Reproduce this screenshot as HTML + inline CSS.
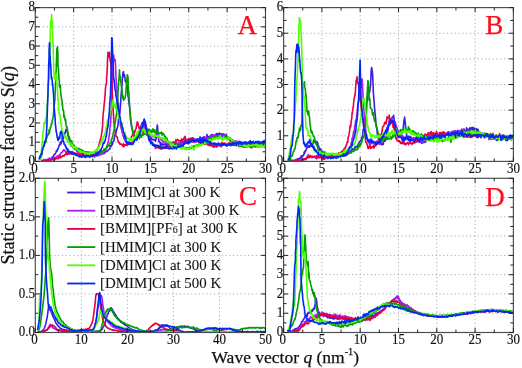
<!DOCTYPE html><html><head><meta charset="utf-8"><style>html,body{margin:0;padding:0;background:#fff;}svg{display:block;filter:blur(0.3px);}text{font-family:"Liberation Serif",serif;stroke:currentColor;stroke-width:0.25px;}</style></head><body>
<svg width="522" height="368" viewBox="0 0 522 368">
<rect width="522" height="368" fill="#fff"/>
<line x1="73.67" y1="7.60" x2="73.67" y2="161.40" stroke="#9aa4b4" stroke-width="0.9" stroke-dasharray="1.2 2.6"/>
<line x1="112.03" y1="7.60" x2="112.03" y2="161.40" stroke="#9aa4b4" stroke-width="0.9" stroke-dasharray="1.2 2.6"/>
<line x1="150.40" y1="7.60" x2="150.40" y2="161.40" stroke="#9aa4b4" stroke-width="0.9" stroke-dasharray="1.2 2.6"/>
<line x1="188.77" y1="7.60" x2="188.77" y2="161.40" stroke="#9aa4b4" stroke-width="0.9" stroke-dasharray="1.2 2.6"/>
<line x1="227.13" y1="7.60" x2="227.13" y2="161.40" stroke="#9aa4b4" stroke-width="0.9" stroke-dasharray="1.2 2.6"/>
<line x1="35.30" y1="142.18" x2="265.50" y2="142.18" stroke="#9aa4b4" stroke-width="0.9" stroke-dasharray="1.2 2.6"/>
<line x1="35.30" y1="122.95" x2="265.50" y2="122.95" stroke="#9aa4b4" stroke-width="0.9" stroke-dasharray="1.2 2.6"/>
<line x1="35.30" y1="103.72" x2="265.50" y2="103.72" stroke="#9aa4b4" stroke-width="0.9" stroke-dasharray="1.2 2.6"/>
<line x1="35.30" y1="84.50" x2="265.50" y2="84.50" stroke="#9aa4b4" stroke-width="0.9" stroke-dasharray="1.2 2.6"/>
<line x1="35.30" y1="65.28" x2="265.50" y2="65.28" stroke="#9aa4b4" stroke-width="0.9" stroke-dasharray="1.2 2.6"/>
<line x1="35.30" y1="46.05" x2="265.50" y2="46.05" stroke="#9aa4b4" stroke-width="0.9" stroke-dasharray="1.2 2.6"/>
<line x1="35.30" y1="26.82" x2="265.50" y2="26.82" stroke="#9aa4b4" stroke-width="0.9" stroke-dasharray="1.2 2.6"/>
<line x1="321.90" y1="7.60" x2="321.90" y2="161.40" stroke="#9aa4b4" stroke-width="0.9" stroke-dasharray="1.2 2.6"/>
<line x1="360.20" y1="7.60" x2="360.20" y2="161.40" stroke="#9aa4b4" stroke-width="0.9" stroke-dasharray="1.2 2.6"/>
<line x1="398.50" y1="7.60" x2="398.50" y2="161.40" stroke="#9aa4b4" stroke-width="0.9" stroke-dasharray="1.2 2.6"/>
<line x1="436.80" y1="7.60" x2="436.80" y2="161.40" stroke="#9aa4b4" stroke-width="0.9" stroke-dasharray="1.2 2.6"/>
<line x1="475.10" y1="7.60" x2="475.10" y2="161.40" stroke="#9aa4b4" stroke-width="0.9" stroke-dasharray="1.2 2.6"/>
<line x1="283.60" y1="135.77" x2="513.40" y2="135.77" stroke="#9aa4b4" stroke-width="0.9" stroke-dasharray="1.2 2.6"/>
<line x1="283.60" y1="110.13" x2="513.40" y2="110.13" stroke="#9aa4b4" stroke-width="0.9" stroke-dasharray="1.2 2.6"/>
<line x1="283.60" y1="84.50" x2="513.40" y2="84.50" stroke="#9aa4b4" stroke-width="0.9" stroke-dasharray="1.2 2.6"/>
<line x1="283.60" y1="58.87" x2="513.40" y2="58.87" stroke="#9aa4b4" stroke-width="0.9" stroke-dasharray="1.2 2.6"/>
<line x1="283.60" y1="33.23" x2="513.40" y2="33.23" stroke="#9aa4b4" stroke-width="0.9" stroke-dasharray="1.2 2.6"/>
<line x1="81.34" y1="178.30" x2="81.34" y2="332.50" stroke="#9aa4b4" stroke-width="0.9" stroke-dasharray="1.2 2.6"/>
<line x1="127.38" y1="178.30" x2="127.38" y2="332.50" stroke="#9aa4b4" stroke-width="0.9" stroke-dasharray="1.2 2.6"/>
<line x1="173.42" y1="178.30" x2="173.42" y2="332.50" stroke="#9aa4b4" stroke-width="0.9" stroke-dasharray="1.2 2.6"/>
<line x1="219.46" y1="178.30" x2="219.46" y2="332.50" stroke="#9aa4b4" stroke-width="0.9" stroke-dasharray="1.2 2.6"/>
<line x1="35.30" y1="293.95" x2="265.50" y2="293.95" stroke="#9aa4b4" stroke-width="0.9" stroke-dasharray="1.2 2.6"/>
<line x1="35.30" y1="255.40" x2="265.50" y2="255.40" stroke="#9aa4b4" stroke-width="0.9" stroke-dasharray="1.2 2.6"/>
<line x1="35.30" y1="216.85" x2="265.50" y2="216.85" stroke="#9aa4b4" stroke-width="0.9" stroke-dasharray="1.2 2.6"/>
<line x1="321.90" y1="178.30" x2="321.90" y2="332.50" stroke="#9aa4b4" stroke-width="0.9" stroke-dasharray="1.2 2.6"/>
<line x1="360.20" y1="178.30" x2="360.20" y2="332.50" stroke="#9aa4b4" stroke-width="0.9" stroke-dasharray="1.2 2.6"/>
<line x1="398.50" y1="178.30" x2="398.50" y2="332.50" stroke="#9aa4b4" stroke-width="0.9" stroke-dasharray="1.2 2.6"/>
<line x1="436.80" y1="178.30" x2="436.80" y2="332.50" stroke="#9aa4b4" stroke-width="0.9" stroke-dasharray="1.2 2.6"/>
<line x1="475.10" y1="178.30" x2="475.10" y2="332.50" stroke="#9aa4b4" stroke-width="0.9" stroke-dasharray="1.2 2.6"/>
<line x1="283.60" y1="313.23" x2="513.40" y2="313.23" stroke="#9aa4b4" stroke-width="0.9" stroke-dasharray="1.2 2.6"/>
<line x1="283.60" y1="293.95" x2="513.40" y2="293.95" stroke="#9aa4b4" stroke-width="0.9" stroke-dasharray="1.2 2.6"/>
<line x1="283.60" y1="274.68" x2="513.40" y2="274.68" stroke="#9aa4b4" stroke-width="0.9" stroke-dasharray="1.2 2.6"/>
<line x1="283.60" y1="255.40" x2="513.40" y2="255.40" stroke="#9aa4b4" stroke-width="0.9" stroke-dasharray="1.2 2.6"/>
<line x1="283.60" y1="236.12" x2="513.40" y2="236.12" stroke="#9aa4b4" stroke-width="0.9" stroke-dasharray="1.2 2.6"/>
<line x1="283.60" y1="216.85" x2="513.40" y2="216.85" stroke="#9aa4b4" stroke-width="0.9" stroke-dasharray="1.2 2.6"/>
<line x1="283.60" y1="197.58" x2="513.40" y2="197.58" stroke="#9aa4b4" stroke-width="0.9" stroke-dasharray="1.2 2.6"/>
<clipPath id="cpA"><rect x="35.30" y="7.60" width="230.20" height="153.80"/></clipPath>
<g clip-path="url(#cpA)">
<polyline points="41.4,160.8 41.9,160.7 42.4,160.8 42.9,161.0 43.4,160.8 43.9,160.9 44.4,160.4 44.9,159.7 45.4,160.4 45.9,160.3 46.4,159.7 46.8,159.7 46.9,159.8 47.4,160.1 47.9,159.6 48.4,159.1 48.9,159.9 49.4,159.3 49.9,159.8 50.4,159.2 50.6,159.4 50.9,158.5 51.4,158.6 52.0,157.5 52.4,157.0 52.9,156.7 52.9,157.9 53.4,156.2 53.9,155.2 54.5,154.2 55.0,154.3 55.0,153.6 55.5,153.3 55.9,152.5 56.5,150.6 57.0,151.1 57.5,149.8 57.7,148.7 58.0,149.2 58.5,147.5 59.0,145.9 59.5,144.6 59.9,144.9 60.0,143.7 60.5,142.1 61.0,144.0 61.4,141.4 61.5,142.0 62.0,141.3 62.5,137.3 63.0,136.8 63.1,138.3 63.5,136.2 64.0,134.7 64.5,134.5 64.8,132.8 65.0,133.4 65.5,131.3 66.0,129.3 66.5,131.0 66.5,130.0 67.0,131.4 67.5,132.5 67.9,135.7 68.0,135.3 68.5,137.5 69.0,139.1 69.1,139.2 69.5,142.5 70.0,143.3 70.5,143.0 71.0,146.0 71.4,145.4 71.5,145.3 72.0,145.0 72.5,146.1 73.0,147.4 73.5,148.0 73.7,148.1 74.0,147.1 74.5,149.0 75.0,149.3 75.5,149.2 76.0,149.9 76.5,150.3 77.0,151.2 77.5,150.8 77.5,151.1 78.0,150.3 78.5,151.0 79.0,151.7 79.5,151.5 80.0,152.4 80.5,151.7 81.0,152.6 81.3,152.4 81.5,153.6 82.0,152.8 82.5,154.2 83.0,154.6 83.5,153.7 84.0,154.2 84.5,153.7 85.0,152.7 85.5,154.6 86.0,154.6 86.5,154.2 87.0,154.2 87.5,154.7 88.0,154.7 88.5,154.2 89.0,154.4 89.0,155.3 89.5,154.7 90.0,154.7 90.5,155.3 91.0,154.5 91.5,155.2 92.0,154.1 92.5,154.6 93.0,154.6 93.5,155.0 94.0,154.7 94.5,155.8 95.0,155.3 95.5,154.5 96.0,155.9 96.5,154.2 96.7,155.7 97.0,154.2 97.5,155.1 98.0,154.2 98.5,154.5 99.0,155.3 99.5,153.6 100.0,153.4 100.5,154.1 101.0,154.1 101.5,153.9 102.0,154.2 102.5,152.8 103.0,153.6 103.5,153.1 104.0,153.4 104.4,153.1 104.5,153.5 105.0,151.7 105.5,152.2 106.0,151.2 106.5,151.4 107.0,151.5 107.5,150.8 108.0,150.4 108.2,149.9 108.5,149.8 109.0,149.2 109.5,149.3 110.0,148.2 110.5,145.6 111.0,146.5 111.5,146.0 112.0,143.9 112.0,143.0 112.5,144.3 113.0,142.0 113.5,141.1 114.0,140.6 114.5,136.7 115.0,135.7 115.5,133.9 115.9,133.4 116.0,131.6 116.5,130.8 117.0,128.3 117.5,127.3 118.0,125.2 118.5,119.3 119.0,118.8 119.5,114.4 119.7,113.4 120.0,111.3 120.5,105.4 121.0,96.2 121.5,90.9 122.0,84.8 122.0,84.5 122.5,76.5 123.0,72.7 123.5,71.6 123.5,73.3 124.0,76.8 124.5,74.8 125.0,78.2 125.1,81.0 125.5,81.1 126.0,82.0 126.5,83.3 127.0,84.8 127.4,89.3 127.5,86.1 128.0,96.2 128.5,98.0 128.9,102.9 129.0,103.2 129.5,106.3 130.0,111.5 130.5,119.5 131.0,123.8 131.2,121.9 131.5,126.1 132.0,127.9 132.5,129.8 133.0,134.7 133.5,136.6 133.5,134.2 134.0,135.4 134.5,136.6 135.0,137.1 135.5,138.6 136.0,139.6 136.5,138.5 136.6,139.2 137.0,139.7 137.5,137.3 138.0,137.3 138.5,136.0 139.0,136.6 139.5,135.4 139.7,135.5 140.0,134.7 140.5,132.4 141.0,132.1 141.5,129.4 142.0,128.0 142.5,124.8 142.7,128.4 143.0,125.1 143.5,125.2 144.0,124.0 144.5,125.1 145.0,123.5 145.0,122.0 145.5,123.7 146.0,125.2 146.5,127.9 147.0,128.3 147.3,130.7 147.5,133.6 148.0,133.5 148.5,136.3 149.0,139.0 149.5,137.5 150.0,136.7 150.4,138.3 150.5,139.5 151.0,139.6 151.5,138.0 152.0,139.1 152.5,139.5 153.0,139.8 153.5,139.9 154.0,139.3 154.5,139.7 155.0,140.0 155.5,141.2 155.8,139.8 156.0,139.6 156.5,131.4 157.0,127.6 157.3,125.0 157.5,125.9 158.0,133.7 158.5,137.8 158.8,139.9 159.0,141.9 159.5,141.4 160.0,142.2 160.5,145.2 161.0,143.2 161.5,143.8 162.0,143.9 162.5,145.1 163.0,144.6 163.5,144.7 164.0,143.8 164.5,144.5 165.0,144.9 165.5,143.8 165.7,145.5 166.0,145.4 166.5,146.6 167.1,144.1 167.5,144.7 168.0,144.8 168.5,145.1 169.0,145.6 169.6,145.6 170.1,146.0 170.6,146.0 171.0,145.9 171.6,144.8 172.1,145.6 172.6,146.0 173.1,146.5 173.4,146.5 173.6,144.8 174.1,145.6 174.6,145.8 175.1,146.0 175.6,146.5 176.1,145.5 176.6,144.6 177.1,145.3 177.6,145.0 178.1,144.7 178.6,144.2 179.1,145.3 179.6,144.0 180.1,144.3 180.6,142.6 181.1,143.8 181.1,142.7 181.6,141.7 182.1,143.0 182.6,143.1 183.1,142.2 183.6,142.1 184.1,142.8 184.6,141.3 185.1,139.8 185.6,141.5 186.1,141.3 186.6,141.8 187.1,140.4 187.6,141.6 188.1,141.4 188.6,139.1 189.1,140.9 189.6,139.0 190.1,138.5 190.3,139.6 190.6,139.3 191.1,138.0 191.6,139.9 192.1,140.2 192.6,140.8 193.1,139.6 193.6,138.2 194.1,138.7 194.6,140.3 195.1,140.2 195.6,139.8 196.1,139.1 196.4,139.5 196.6,139.1 197.1,138.9 197.6,139.4 198.1,139.1 198.6,138.8 199.1,138.9 199.6,138.3 200.1,136.9 200.6,137.9 201.1,138.3 201.6,139.8 202.1,137.8 202.6,139.8 203.1,139.2 203.6,136.9 204.1,136.9 204.6,137.6 205.1,138.9 205.6,137.5 206.1,137.7 206.6,136.3 207.1,134.6 207.2,136.6 207.6,137.4 208.1,137.7 208.6,136.5 209.1,136.5 209.6,137.4 210.1,136.0 210.6,137.1 211.1,134.8 211.6,134.7 212.1,134.6 212.6,136.0 213.1,134.9 213.6,135.5 214.1,135.6 214.6,135.4 215.1,136.3 215.6,136.3 216.1,133.9 216.4,134.9 216.6,134.4 217.1,133.4 217.6,136.1 218.1,135.0 218.6,133.9 218.7,133.7 219.1,134.5 219.6,133.1 220.1,134.0 220.6,135.6 221.1,135.4 221.6,133.9 222.1,134.4 222.6,137.0 223.1,133.9 223.6,134.9 224.1,134.4 224.6,136.3 225.1,136.5 225.6,137.5 226.1,134.2 226.4,137.0 226.6,135.4 227.1,137.8 227.6,137.3 228.1,139.3 228.6,138.4 229.1,137.4 229.6,139.8 230.1,138.1 230.6,139.1 231.1,140.6 231.6,140.5 232.1,140.7 232.6,140.6 233.1,141.3 233.6,141.8 234.0,141.5 234.1,142.1 234.6,142.5 235.1,141.6 235.6,141.0 236.1,143.2 236.6,142.0 237.1,142.8 237.6,143.2 238.1,141.8 238.6,143.0 239.1,141.5 239.6,143.5 240.1,142.6 240.6,143.2 241.1,143.7 241.6,142.6 242.1,143.3 242.5,142.6 242.6,143.2 243.1,144.0 243.6,143.2 244.1,143.1 244.6,142.3 245.1,143.9 245.6,143.2 246.1,144.6 246.6,142.6 247.1,144.0 247.6,144.6 248.1,143.2 248.6,142.2 249.1,144.4 249.6,144.0 250.1,143.8 250.6,144.1 251.1,142.8 251.6,143.8 252.1,143.7 252.6,142.7 253.1,143.8 253.6,142.8 254.1,143.9 254.6,144.1 255.1,144.7 255.6,141.6 256.1,143.4 256.6,142.9 257.1,143.2 257.6,143.0 258.1,143.1 258.6,141.6 259.1,144.0 259.6,144.4 260.1,144.0 260.6,144.2 261.1,142.5 261.6,142.5 262.1,143.9 262.6,144.3 263.1,143.4 263.6,142.0 264.1,145.5 264.6,142.7 265.1,144.0 265.5,142.3" fill="none" stroke="#3a1ee6" stroke-width="1.6" stroke-linejoin="round"/>
<polyline points="41.4,160.9 41.9,160.5 42.4,161.0 42.9,160.6 43.4,159.5 43.9,159.7 44.4,160.1 44.9,160.2 45.4,160.6 45.9,159.8 46.4,159.6 46.8,159.5 46.9,159.5 47.4,159.9 47.9,159.3 48.4,159.2 48.9,158.4 49.4,158.0 49.9,158.9 50.4,159.1 50.9,158.6 51.4,158.7 52.0,158.7 52.4,158.2 52.9,158.6 53.4,157.6 53.9,157.8 54.5,157.4 54.5,157.7 55.0,157.7 55.5,157.7 55.9,157.1 56.5,157.0 57.0,156.3 57.5,156.2 58.0,156.6 58.3,155.6 58.5,156.3 59.0,155.5 59.5,154.9 60.0,155.4 60.5,153.7 61.0,153.1 61.5,152.7 62.0,152.3 62.2,152.0 62.5,152.0 63.0,150.7 63.5,150.3 63.7,149.8 64.0,150.7 64.5,150.2 65.0,150.9 65.5,151.6 66.0,152.1 66.0,151.4 66.5,152.8 67.0,151.5 67.5,151.6 68.0,151.6 68.5,151.5 69.0,152.2 69.5,152.0 69.8,151.4 70.0,151.5 70.5,151.7 71.0,152.9 71.5,151.7 72.0,151.5 72.5,151.7 73.0,152.4 73.5,153.7 73.7,152.2 74.0,152.9 74.5,154.5 75.0,152.9 75.5,154.1 76.0,154.2 76.5,153.9 77.0,152.9 77.5,154.0 78.0,153.7 78.5,153.0 79.0,153.2 79.5,154.3 80.0,154.5 80.5,155.2 81.0,155.0 81.3,154.4 81.5,154.5 82.0,154.7 82.5,154.3 83.0,155.4 83.5,155.1 84.0,154.7 84.5,154.9 85.0,154.7 85.5,155.1 86.0,155.6 86.5,155.3 87.0,156.1 87.5,156.5 88.0,155.3 88.5,155.7 89.0,155.5 89.0,156.6 89.5,155.8 90.0,156.0 90.5,156.1 91.0,156.9 91.5,155.8 92.0,155.1 92.5,155.4 93.0,156.0 93.5,155.6 94.0,155.2 94.5,157.2 95.0,155.7 95.5,155.3 96.0,155.2 96.5,154.7 96.7,155.0 97.0,155.5 97.5,155.4 98.0,155.1 98.5,155.7 99.0,155.2 99.5,154.5 100.0,153.8 100.5,154.8 100.5,154.7 101.0,154.4 101.5,153.4 102.0,153.9 102.5,152.7 103.0,153.7 103.5,152.8 104.0,152.3 104.4,151.3 104.5,151.0 105.0,151.9 105.5,150.7 106.0,148.8 106.5,148.3 107.0,147.5 107.5,144.0 108.0,142.6 108.2,141.8 108.5,141.2 109.0,136.6 109.5,133.7 110.0,127.3 110.5,124.1 110.5,124.0 111.0,115.1 111.5,106.7 112.0,93.6 112.0,93.6 112.5,82.8 113.0,64.5 113.5,56.8 113.6,55.1 114.0,58.5 114.5,61.3 115.0,61.3 115.1,59.6 115.5,64.9 116.0,77.1 116.5,84.2 116.6,83.3 117.0,91.1 117.5,98.5 118.0,102.0 118.5,106.6 118.9,112.7 119.0,114.5 119.5,118.5 120.0,119.8 120.5,125.4 121.0,127.7 121.2,128.5 121.5,129.2 122.0,132.2 122.5,133.0 123.0,135.9 123.5,136.7 124.0,138.6 124.3,137.3 124.5,138.8 125.0,140.7 125.5,141.6 126.0,142.7 126.5,142.8 127.0,145.3 127.4,144.9 127.5,144.4 128.0,142.1 128.5,143.3 129.0,144.2 129.5,143.5 130.0,142.4 130.5,144.3 131.0,144.4 131.2,143.1 131.5,143.6 132.0,143.1 132.5,143.5 133.0,140.6 133.5,139.8 134.0,139.8 134.5,138.7 135.0,140.3 135.1,137.7 135.5,137.7 136.0,136.1 136.5,134.8 137.0,134.7 137.5,135.1 138.0,131.9 138.5,132.1 138.9,131.0 139.0,131.1 139.5,129.9 140.0,131.1 140.5,126.0 141.0,126.2 141.5,124.4 142.0,122.8 142.5,124.9 142.7,127.1 143.0,126.0 143.5,126.6 144.0,126.1 144.5,125.9 145.0,129.0 145.5,126.9 146.0,129.7 146.5,128.3 146.6,128.9 147.0,129.9 147.5,130.7 148.0,132.6 148.5,134.0 149.0,136.3 149.5,135.6 150.0,134.4 150.4,134.5 150.5,135.1 151.0,135.7 151.5,137.1 152.0,135.0 152.5,136.5 153.0,136.5 153.5,136.7 154.0,136.3 154.5,136.8 155.0,136.5 155.5,137.5 155.8,136.8 156.0,134.2 156.5,136.6 157.0,137.0 157.5,136.5 158.0,136.7 158.5,138.7 159.0,138.2 159.5,137.4 159.6,138.1 160.0,138.5 160.5,137.5 161.0,139.8 161.5,139.5 162.0,140.4 162.5,139.0 163.0,142.4 163.5,141.6 164.0,141.8 164.5,141.0 165.0,141.4 165.5,140.9 165.7,143.5 166.0,141.7 166.5,142.7 167.1,143.2 167.5,142.4 168.0,143.8 168.5,144.9 169.0,143.6 169.6,144.7 170.1,144.1 170.6,143.4 171.0,143.6 171.6,142.7 172.1,144.2 172.6,145.3 173.1,144.7 173.4,144.8 173.6,145.1 174.1,143.7 174.6,144.6 175.1,145.6 175.6,143.4 176.1,144.0 176.6,143.6 177.1,143.7 177.6,143.2 178.1,143.6 178.6,142.6 179.1,143.1 179.6,143.1 180.1,143.0 180.6,144.4 181.1,143.3 181.1,143.3 181.6,142.9 182.1,144.1 182.6,141.5 183.1,142.7 183.6,143.7 184.1,144.0 184.6,142.7 185.1,142.4 185.6,142.8 186.1,142.0 186.6,142.5 187.1,141.4 187.6,142.4 188.1,141.7 188.6,140.7 189.1,139.2 189.6,142.2 190.1,141.7 190.3,141.9 190.6,140.5 191.1,142.1 191.6,141.4 192.1,141.0 192.6,141.7 193.1,141.6 193.6,141.1 194.1,142.5 194.6,141.9 195.1,140.9 195.6,140.3 196.1,140.6 196.6,141.9 197.1,140.7 197.6,139.5 198.1,139.7 198.6,140.2 199.1,140.8 199.6,139.4 200.1,140.4 200.6,140.9 201.1,140.5 201.6,138.4 202.1,139.4 202.6,138.5 203.1,139.9 203.6,138.5 204.1,139.8 204.1,139.4 204.6,136.9 205.1,138.4 205.6,139.4 206.1,138.9 206.6,138.4 207.1,137.4 207.6,138.8 208.1,139.8 208.6,138.3 209.1,137.8 209.6,137.6 210.1,136.3 210.6,137.1 211.1,136.4 211.6,138.1 212.1,136.1 212.6,134.8 213.1,135.9 213.6,136.3 214.1,136.4 214.6,134.7 215.1,137.3 215.6,136.5 215.6,136.0 216.1,135.7 216.6,136.8 217.1,136.1 217.6,136.7 218.1,136.3 218.6,136.5 219.1,137.5 219.6,136.4 220.1,135.6 220.6,137.3 221.1,136.6 221.6,135.8 222.1,137.4 222.6,136.2 223.1,137.4 223.3,135.3 223.6,134.2 224.1,134.5 224.6,136.8 225.1,136.1 225.6,137.0 226.1,137.3 226.6,136.2 227.1,139.2 227.6,137.3 228.1,138.7 228.6,137.7 229.1,139.1 229.6,140.2 230.1,139.6 230.6,139.5 231.0,140.2 231.1,139.9 231.6,140.9 232.1,142.5 232.6,140.0 233.1,140.4 233.6,141.0 234.1,141.3 234.6,140.6 235.1,142.0 235.6,142.4 236.1,142.1 236.6,141.1 237.1,143.4 237.6,141.4 238.1,143.0 238.6,143.5 239.1,141.7 239.6,142.9 240.1,144.0 240.6,143.3 241.1,142.3 241.6,142.1 242.1,143.5 242.5,142.8 242.6,142.6 243.1,143.7 243.6,142.9 244.1,143.2 244.6,143.7 245.1,143.6 245.6,143.2 246.1,143.2 246.6,143.7 247.1,143.6 247.6,142.4 248.1,143.1 248.6,142.6 249.1,142.3 249.6,142.9 250.1,141.5 250.6,144.0 251.1,142.7 251.6,143.7 252.1,141.9 252.6,142.0 253.1,145.0 253.6,144.2 254.1,142.9 254.6,142.8 255.1,142.8 255.6,143.5 256.1,143.1 256.6,142.9 257.1,143.5 257.6,142.6 258.1,145.3 258.6,143.0 259.1,144.3 259.6,142.7 260.1,143.7 260.6,144.2 261.1,143.2 261.6,144.3 262.1,144.3 262.6,144.8 263.1,143.5 263.6,143.1 264.1,142.7 264.6,143.6 265.1,142.7 265.5,143.5" fill="none" stroke="#aa1cf0" stroke-width="1.6" stroke-linejoin="round"/>
<polyline points="41.4,161.4 41.9,161.1 42.4,160.9 42.9,161.4 43.4,161.4 43.9,161.3 44.4,161.1 44.9,161.4 45.4,160.6 45.9,161.1 46.4,160.7 46.8,161.2 46.9,160.7 47.4,160.6 47.9,160.8 48.4,159.6 48.9,160.3 49.4,159.5 49.9,159.7 50.4,160.4 50.9,160.1 51.4,159.6 52.0,159.6 52.4,159.5 52.9,159.5 53.4,160.1 53.9,159.2 54.5,160.0 54.5,158.7 55.0,159.1 55.5,158.9 55.9,158.5 56.5,158.1 57.0,158.7 57.5,158.7 58.0,158.2 58.3,158.6 58.5,158.0 59.0,156.6 59.5,157.8 60.0,156.8 60.5,157.8 61.0,156.8 61.5,157.0 62.0,156.7 62.2,156.3 62.5,155.5 63.0,156.1 63.5,155.8 64.0,156.1 64.5,154.8 65.0,154.9 65.5,153.9 66.0,154.1 66.5,152.8 67.0,154.8 67.5,153.7 67.5,153.0 68.0,153.7 68.5,153.9 69.0,153.6 69.5,154.2 70.0,153.3 70.5,151.9 71.0,152.7 71.5,154.0 72.0,153.8 72.1,153.6 72.5,152.7 73.0,153.8 73.5,153.8 74.0,152.9 74.5,153.0 75.0,153.8 75.5,154.4 76.0,154.7 76.5,154.3 77.0,155.3 77.5,153.7 77.5,154.5 78.0,153.9 78.5,153.2 79.0,153.7 79.5,155.2 80.0,154.2 80.5,154.1 81.0,155.3 81.5,155.6 82.0,155.2 82.5,156.1 82.9,154.4 83.0,156.6 83.5,155.9 84.0,155.5 84.5,155.5 85.0,155.3 85.5,155.3 86.0,155.6 86.5,154.9 87.0,156.7 87.5,155.6 88.0,156.0 88.5,155.6 89.0,155.5 89.0,156.1 89.5,156.0 90.0,155.1 90.5,155.3 91.0,155.7 91.5,154.0 92.0,153.7 92.5,155.7 92.8,154.5 93.0,153.2 93.5,153.8 94.0,153.7 94.5,153.4 95.0,152.9 95.5,152.0 96.0,151.4 96.5,149.7 96.7,150.1 97.0,149.6 97.5,149.2 98.0,147.3 98.5,146.7 99.0,144.8 99.5,142.2 99.8,141.9 100.0,140.9 100.5,139.1 101.0,137.2 101.5,134.6 102.0,131.5 102.1,129.8 102.5,127.2 103.0,116.3 103.5,110.7 103.6,110.7 104.0,106.0 104.5,101.7 105.0,95.3 105.1,95.5 105.5,87.6 106.0,85.3 106.5,82.3 106.7,76.6 107.0,74.4 107.5,60.2 108.0,52.2 108.2,52.2 108.5,56.8 109.0,56.5 109.5,52.2 109.7,56.7 110.0,59.3 110.5,61.8 111.0,65.2 111.3,71.9 111.5,78.3 112.0,87.7 112.5,97.4 112.8,104.8 113.0,108.5 113.5,114.6 114.0,123.2 114.5,128.2 115.0,132.0 115.1,130.1 115.5,134.9 116.0,135.5 116.5,136.7 117.0,137.1 117.4,137.3 117.5,139.0 118.0,140.5 118.5,142.5 119.0,142.9 119.5,142.5 119.7,143.1 120.0,144.2 120.5,144.1 121.0,144.1 121.5,144.0 122.0,145.2 122.5,145.1 123.0,146.4 123.5,146.0 123.5,143.8 124.0,146.8 124.5,145.3 125.0,144.7 125.5,145.1 126.0,145.3 126.5,144.5 127.0,144.3 127.4,144.2 127.5,145.5 128.0,143.8 128.5,143.8 129.0,142.8 129.5,141.3 130.0,140.0 130.5,138.8 131.0,139.1 131.2,137.5 131.5,136.7 132.0,135.8 132.5,134.7 133.0,135.3 133.5,134.3 134.0,132.2 134.5,133.4 135.0,130.5 135.1,131.2 135.5,129.5 136.0,128.9 136.5,125.9 137.0,123.3 137.4,121.8 137.5,121.8 138.0,124.1 138.5,125.8 139.0,128.3 139.5,128.1 139.7,129.0 140.0,128.4 140.5,127.4 141.0,129.7 141.5,131.6 142.0,131.1 142.5,132.1 142.7,131.9 143.0,129.4 143.5,131.0 144.0,133.4 144.5,131.5 145.0,131.4 145.5,133.7 146.0,134.5 146.5,134.8 146.6,134.2 147.0,134.4 147.5,134.6 148.0,135.4 148.5,136.2 149.0,136.8 149.5,138.3 150.0,141.1 150.4,140.4 150.5,140.2 151.0,141.6 151.5,141.4 152.0,143.4 152.5,144.8 153.0,143.7 153.5,144.9 154.0,145.7 154.2,145.3 154.5,145.3 155.0,146.1 155.5,148.4 156.0,147.3 156.5,147.3 157.0,147.8 157.5,147.1 158.0,146.6 158.5,147.9 159.0,148.5 159.5,146.3 160.0,148.1 160.5,148.8 161.0,147.8 161.5,147.6 161.9,148.4 162.0,147.4 162.5,148.3 163.0,148.6 163.5,147.8 164.0,147.3 164.5,148.3 165.0,147.5 165.5,147.8 166.0,145.6 166.5,148.1 167.1,146.5 167.5,147.4 168.0,147.4 168.5,146.7 169.0,146.4 169.6,146.1 169.6,146.7 170.1,147.3 170.6,146.9 171.0,145.6 171.6,145.0 172.1,143.8 172.6,143.9 173.1,142.7 173.6,141.7 174.1,142.3 174.6,143.2 175.1,142.5 175.6,142.5 175.7,139.8 176.1,141.9 176.6,140.0 177.1,140.5 177.6,139.4 178.1,140.0 178.6,140.9 179.1,141.0 179.6,140.7 180.1,140.5 180.6,141.1 181.1,140.6 181.6,139.1 182.1,141.9 182.6,140.0 182.6,141.1 183.1,139.7 183.6,138.3 184.1,138.3 184.6,136.8 184.9,138.9 185.1,136.4 185.6,139.0 186.1,139.2 186.5,140.1 186.6,142.5 187.1,140.9 187.6,140.1 188.1,138.9 188.6,140.0 189.1,140.0 189.6,141.5 190.1,139.0 190.6,138.7 191.1,140.2 191.6,140.4 192.1,141.7 192.6,139.5 192.6,137.8 193.1,139.6 193.6,139.2 194.1,139.9 194.6,141.3 195.1,139.4 195.6,141.8 196.1,141.0 196.6,140.8 197.1,140.4 197.6,141.0 198.1,141.2 198.6,142.3 199.1,142.9 199.6,141.9 200.1,142.7 200.3,143.3 200.6,143.3 201.1,142.8 201.6,144.1 202.1,143.8 202.6,144.1 203.1,142.7 203.6,142.7 204.1,141.5 204.6,144.5 205.1,143.9 205.6,142.7 206.1,143.8 206.6,144.0 207.1,142.5 207.6,144.3 207.9,145.0 208.1,145.2 208.6,144.0 209.1,144.2 209.6,145.7 210.1,145.6 210.6,144.6 211.1,144.8 211.6,145.9 212.1,145.0 212.6,145.1 213.1,147.0 213.3,145.9 213.6,145.3 214.1,146.1 214.6,147.3 215.1,145.8 215.6,144.9 216.1,144.2 216.6,147.1 217.1,143.3 217.6,146.2 218.1,144.5 218.6,144.2 219.1,144.3 219.5,144.9 219.6,146.0 220.1,144.5 220.6,145.5 221.1,146.8 221.6,142.5 222.1,144.1 222.6,143.2 223.1,145.2 223.6,143.3 224.1,143.1 224.6,143.0 225.1,144.2 225.6,145.1 226.1,144.3 226.6,145.9 227.1,145.5 227.1,144.0 227.6,144.9 228.1,144.2 228.6,144.2 229.1,142.6 229.6,143.1 230.1,144.2 230.6,143.2 231.1,144.8 231.6,144.5 232.1,143.6 232.6,145.3 233.1,144.6 233.6,145.4 234.1,144.3 234.6,143.2 234.8,145.1 235.1,144.3 235.6,145.3 236.1,145.5 236.6,145.7 237.1,143.6 237.6,143.0 238.1,144.5 238.6,145.6 239.1,144.5 239.6,145.4 240.1,144.7 240.6,145.1 241.1,145.2 241.6,145.1 242.1,146.1 242.6,146.0 243.1,147.1 243.6,146.2 244.1,147.0 244.6,146.1 245.1,146.7 245.6,145.9 246.1,145.7 246.3,147.1 246.6,146.6 247.1,146.7 247.6,145.4 248.1,144.7 248.6,145.3 249.1,146.3 249.6,144.9 250.1,147.1 250.6,144.8 251.1,146.4 251.6,148.0 252.1,143.9 252.6,144.7 253.1,146.6 253.6,145.7 254.1,146.0 254.6,145.7 255.1,146.9 255.6,146.3 256.1,145.4 256.6,145.5 257.1,144.8 257.6,145.6 257.8,143.8 258.1,146.2 258.6,145.4 259.1,147.0 259.6,146.5 260.1,144.5 260.6,146.2 261.1,145.0 261.6,145.4 262.1,146.2 262.6,145.6 263.1,145.7 263.6,145.6 264.1,144.6 264.6,144.6 265.1,145.5 265.5,145.8" fill="none" stroke="#e6003c" stroke-width="1.6" stroke-linejoin="round"/>
<polyline points="39.9,159.3 40.4,159.1 40.9,157.6 41.4,155.3 41.4,156.2 41.9,154.1 42.4,150.3 42.8,148.6 42.9,148.3 43.4,147.0 43.9,145.5 44.4,144.7 44.9,142.8 45.4,142.7 45.5,142.3 45.9,142.2 46.4,138.2 46.9,137.8 47.4,135.1 47.6,135.6 47.9,134.1 48.4,134.6 48.9,132.3 49.1,129.7 49.4,133.1 49.9,129.2 50.4,127.2 50.9,127.1 50.9,126.5 51.4,123.9 51.9,123.9 52.4,119.9 52.9,118.6 52.9,118.1 53.4,114.7 53.9,109.6 54.1,107.3 54.4,103.3 54.9,100.2 55.3,88.2 55.4,86.5 55.9,74.1 56.2,70.0 56.4,62.4 56.9,48.5 56.9,48.7 57.3,52.4 57.4,46.8 57.9,53.2 57.9,66.4 58.4,67.3 58.6,72.1 58.9,77.9 59.4,81.2 59.5,87.1 59.9,86.1 60.4,85.3 60.4,88.9 60.9,94.0 61.4,97.7 61.4,99.1 61.9,99.4 62.2,105.3 62.4,103.9 62.9,110.3 63.4,109.8 63.8,112.7 63.9,117.3 64.4,115.8 64.9,119.7 65.4,121.1 65.6,119.4 65.9,124.4 66.4,126.9 66.9,126.4 67.4,130.1 67.4,128.8 67.9,132.5 68.4,136.0 68.9,137.0 69.1,136.2 69.4,137.4 69.9,139.4 70.4,140.3 70.9,141.3 71.4,142.5 71.8,140.9 71.9,142.7 72.4,144.4 72.9,144.6 73.4,144.3 73.9,145.0 74.4,146.2 74.9,147.2 75.4,147.2 75.9,149.0 76.2,148.9 76.4,147.6 76.9,149.0 77.4,148.8 77.9,148.6 78.4,149.3 78.9,149.8 79.0,148.4 79.4,149.4 79.9,150.1 80.4,149.4 80.9,149.6 81.3,150.5 81.4,149.8 81.9,150.1 82.4,151.5 82.9,150.6 83.4,151.0 83.9,151.4 84.4,152.5 84.9,151.9 85.2,151.8 85.4,151.8 85.9,152.8 86.4,151.8 86.9,153.2 87.4,152.7 87.9,151.8 88.4,153.2 88.9,153.1 89.0,152.1 89.5,153.0 89.9,152.9 90.4,152.6 90.9,152.1 91.4,154.1 92.0,153.3 92.5,153.4 92.9,153.4 93.4,153.3 93.9,153.3 94.5,152.6 95.0,153.3 95.5,152.7 96.0,152.5 96.5,153.2 96.7,152.7 97.0,151.7 97.5,152.5 98.0,153.0 98.5,152.5 99.0,152.9 99.5,152.0 100.0,151.4 100.5,152.3 100.5,151.9 101.0,150.9 101.5,151.8 102.0,151.1 102.5,151.7 103.0,151.3 103.5,150.8 104.0,148.7 104.4,150.1 104.5,150.2 105.0,149.8 105.5,149.1 106.0,148.1 106.5,147.9 107.0,146.0 107.5,146.8 108.0,145.2 108.2,145.8 108.5,145.2 109.0,146.1 109.5,144.2 110.0,143.3 110.5,142.4 111.0,143.0 111.5,139.1 112.0,138.9 112.0,138.7 112.5,137.1 113.0,135.1 113.5,132.0 114.0,131.2 114.5,128.0 115.0,123.4 115.1,122.8 115.5,121.0 116.0,117.6 116.5,113.9 117.0,108.2 117.4,101.7 117.5,104.8 118.0,92.5 118.5,84.2 119.0,78.3 119.5,69.9 119.7,74.6 120.0,76.0 120.5,79.4 121.0,83.0 121.2,85.2 121.5,87.3 122.0,90.0 122.5,97.9 123.0,95.7 123.5,100.5 123.5,99.2 124.0,98.5 124.5,99.0 125.0,98.1 125.5,95.6 125.8,92.2 126.0,90.1 126.5,82.9 127.0,78.2 127.4,74.8 127.5,75.3 128.0,77.1 128.5,91.0 128.9,91.7 129.0,96.0 129.5,104.6 130.0,110.8 130.4,115.7 130.5,117.0 131.0,120.7 131.5,125.8 132.0,127.9 132.5,130.4 132.8,132.7 133.0,131.7 133.5,134.2 134.0,135.3 134.5,137.0 135.0,136.7 135.1,135.7 135.5,137.7 136.0,135.8 136.5,136.1 137.0,136.1 137.5,138.6 138.0,136.5 138.5,135.8 138.9,137.2 139.0,136.3 139.5,138.6 140.0,135.5 140.5,136.5 141.0,134.7 141.5,137.1 142.0,134.2 142.5,134.9 142.7,133.7 143.0,135.3 143.5,134.6 144.0,131.3 144.5,134.1 145.0,133.5 145.5,132.7 146.0,133.1 146.5,130.3 147.0,129.4 147.5,131.8 148.0,132.7 148.5,129.4 148.9,129.4 149.0,129.7 149.5,129.4 150.0,131.7 150.5,131.0 151.0,132.4 151.5,132.5 152.0,130.0 152.5,131.9 153.0,128.9 153.5,131.4 154.0,132.2 154.2,130.7 154.5,129.7 155.0,131.2 155.5,133.2 156.0,131.5 156.5,130.6 157.0,132.7 157.5,133.1 158.0,131.3 158.5,132.3 159.0,133.8 159.5,133.1 160.0,133.7 160.5,132.7 161.0,133.1 161.5,132.2 161.9,132.8 162.0,135.2 162.5,133.4 163.0,133.3 163.5,134.3 164.0,134.3 164.5,136.4 165.0,137.5 165.5,136.4 166.0,139.0 166.5,140.7 167.0,138.4 167.5,140.7 168.0,140.9 168.5,142.4 169.0,142.8 169.5,143.1 169.6,142.5 170.0,142.2 170.5,144.7 171.0,142.5 171.5,144.4 172.0,144.6 172.5,143.4 173.0,144.3 173.5,145.7 174.0,143.3 174.5,145.6 175.0,145.0 175.5,145.2 176.0,144.5 176.5,146.1 177.0,145.2 177.3,146.6 177.5,145.3 178.0,146.9 178.5,146.7 179.0,145.2 179.5,146.6 180.0,146.9 180.5,145.5 181.0,147.0 181.5,148.0 182.0,147.0 182.5,148.5 183.0,146.9 183.5,147.0 184.0,148.3 184.5,148.4 184.9,147.8 185.0,147.9 185.5,148.6 186.0,147.5 186.5,149.4 187.0,148.2 187.5,148.2 188.0,148.1 188.5,147.6 189.0,148.7 189.5,147.4 190.0,147.9 190.3,148.2 190.5,148.7 191.0,148.5 191.5,147.3 192.0,148.2 192.5,147.3 193.0,146.4 193.5,146.3 194.0,145.7 194.5,146.9 195.0,147.3 195.5,145.6 196.0,145.9 196.4,145.2 196.5,146.0 197.0,144.9 197.5,145.0 198.0,144.9 198.5,144.9 199.0,144.8 199.5,144.8 200.0,144.6 200.5,143.8 201.0,144.8 201.5,142.8 202.0,144.1 202.5,143.0 203.0,143.7 203.5,143.6 204.0,141.5 204.6,143.2 204.9,143.8 205.0,143.3 205.5,142.7 206.0,140.2 206.5,141.5 207.1,140.5 207.6,141.8 208.0,140.2 208.5,139.5 209.0,138.1 209.6,140.0 210.1,138.5 210.6,138.5 211.1,139.5 211.6,138.4 211.8,138.6 212.1,140.4 212.6,137.6 213.1,137.6 213.6,138.4 214.1,139.2 214.6,136.4 215.1,137.5 215.6,136.7 216.1,136.3 216.6,138.0 217.1,136.7 217.6,137.7 218.1,137.5 218.6,137.5 219.1,137.4 219.5,136.3 219.6,137.3 220.1,137.5 220.6,137.7 221.1,137.1 221.6,138.3 222.1,138.0 222.6,137.7 223.1,138.2 223.6,137.9 224.1,138.4 224.6,136.1 225.1,136.8 225.6,137.7 226.1,138.3 226.4,136.3 226.6,138.1 227.1,138.6 227.6,138.4 228.1,138.6 228.6,137.8 229.1,139.4 229.6,137.7 230.1,140.7 230.6,139.6 231.1,141.4 231.6,139.2 232.1,141.4 232.6,141.4 233.1,140.8 233.6,140.8 233.7,142.9 234.1,142.4 234.6,143.6 235.1,142.6 235.6,143.1 236.1,143.7 236.6,144.2 237.1,144.3 237.6,144.9 238.1,144.2 238.6,143.7 239.1,146.6 239.6,145.4 240.1,145.8 240.6,145.2 240.9,146.4 241.1,145.8 241.6,146.5 242.1,145.2 242.6,145.7 243.1,146.0 243.6,145.6 244.1,146.1 244.6,147.2 245.1,145.5 245.6,145.8 246.1,146.1 246.3,145.3 246.6,145.1 247.1,146.8 247.6,146.6 248.1,144.8 248.6,144.9 249.1,146.6 249.6,146.9 250.1,146.5 250.6,146.4 251.1,147.2 251.6,146.0 252.1,147.0 252.6,146.9 253.1,145.3 253.6,146.5 254.1,146.1 254.6,145.5 255.1,145.4 255.6,146.3 256.1,146.0 256.6,146.7 257.1,144.7 257.6,145.5 257.8,146.9 258.1,146.0 258.6,145.5 259.1,145.6 259.6,144.6 260.1,144.9 260.6,146.4 261.1,146.0 261.6,146.9 262.1,145.7 262.6,145.7 263.1,143.7 263.6,145.7 264.1,147.3 264.6,146.2 265.1,145.6 265.5,146.6" fill="none" stroke="#00a000" stroke-width="1.6" stroke-linejoin="round"/>
<polyline points="39.1,159.9 39.6,159.3 40.1,158.0 40.6,156.9 40.8,156.7 41.1,153.8 41.6,149.2 42.1,144.5 42.1,144.3 42.6,138.5 43.1,131.8 43.5,130.9 43.6,128.1 44.1,123.2 44.4,123.4 44.6,122.4 45.1,123.8 45.5,120.3 45.6,120.2 46.1,117.8 46.6,115.7 46.8,113.0 47.1,106.6 47.6,99.6 48.0,97.4 48.1,92.2 48.6,83.4 49.1,69.6 49.1,68.2 49.6,52.7 50.1,44.3 50.3,33.5 50.6,21.0 51.0,22.3 51.1,22.2 51.6,14.6 51.7,17.7 52.2,28.1 52.3,20.2 52.6,31.1 52.9,43.7 53.1,43.9 53.6,64.9 53.6,69.2 54.1,74.7 54.2,77.6 54.7,79.3 55.2,77.8 55.3,80.0 55.6,79.2 56.1,73.2 56.4,74.8 56.7,77.1 57.2,87.0 57.2,87.4 57.7,93.1 57.9,99.9 58.2,99.8 58.6,110.6 58.7,109.9 59.2,114.2 59.4,113.8 59.7,114.2 60.2,116.4 60.7,122.7 61.2,124.9 61.2,125.3 61.7,128.3 62.2,131.1 62.7,131.7 62.9,134.4 63.2,133.0 63.7,134.2 64.2,135.8 64.7,136.9 65.2,138.0 65.6,135.6 65.7,138.7 66.2,136.9 66.7,138.7 67.2,140.5 67.7,142.1 68.2,141.0 68.7,141.2 69.1,143.9 69.2,143.5 69.7,142.9 70.2,144.0 70.7,143.1 71.2,145.5 71.7,145.1 72.2,146.8 72.6,144.6 72.7,146.8 73.2,148.3 73.7,147.2 74.2,147.6 74.7,146.5 75.2,148.6 75.7,148.7 76.0,148.5 76.2,147.9 76.7,149.4 77.2,149.0 77.7,149.7 78.2,150.6 78.7,150.6 79.0,150.8 79.2,151.5 79.7,150.3 80.2,152.2 80.7,150.8 81.2,151.1 81.3,151.8 81.7,152.4 82.2,152.2 82.7,151.9 83.2,152.0 83.7,152.4 84.2,152.1 84.7,153.2 85.2,152.9 85.7,154.2 86.2,152.9 86.7,153.4 87.2,153.8 87.7,152.9 88.2,153.3 88.7,155.4 89.0,153.7 89.2,154.6 89.7,153.0 90.2,152.1 90.7,153.8 91.2,153.3 91.7,153.3 92.2,152.8 92.7,152.4 92.8,152.0 93.2,153.2 93.7,151.4 94.2,152.6 94.7,151.5 95.2,150.5 95.7,150.4 96.2,151.0 96.7,150.3 96.7,150.2 97.2,149.4 97.7,147.9 98.2,148.9 98.7,146.9 99.2,146.0 99.7,145.2 100.2,144.3 100.5,142.9 100.7,143.4 101.2,142.1 101.7,141.2 102.2,138.9 102.7,141.0 103.2,136.7 103.7,136.7 104.2,135.3 104.4,135.5 104.7,135.3 105.2,132.0 105.7,130.4 106.2,126.9 106.7,127.1 107.2,121.3 107.7,120.7 108.2,119.4 108.2,120.1 108.7,118.3 109.2,117.0 109.7,114.3 110.2,111.6 110.7,110.2 111.2,110.5 111.7,107.1 112.0,107.1 112.2,104.9 112.7,100.3 113.2,101.1 113.6,102.3 113.7,104.6 114.2,105.0 114.7,106.7 115.2,104.3 115.7,108.3 115.9,107.5 116.2,109.5 116.7,109.8 117.2,109.3 117.7,114.0 118.2,115.0 118.7,117.2 119.2,116.4 119.7,120.5 119.7,120.6 120.2,122.5 120.7,124.0 121.2,123.2 121.7,122.3 122.2,128.1 122.7,127.4 123.2,129.5 123.5,131.9 123.7,131.4 124.2,132.5 124.7,134.2 125.2,132.7 125.7,137.7 126.2,136.4 126.7,137.3 127.2,138.7 127.4,138.2 127.7,137.8 128.2,138.8 128.7,138.9 129.2,139.0 129.7,141.7 130.2,138.8 130.7,138.2 131.2,139.4 131.2,139.3 131.7,141.4 132.2,139.9 132.7,140.0 133.2,139.3 133.7,137.1 134.2,138.2 134.7,136.9 135.1,138.3 135.2,136.4 135.7,135.6 136.2,135.9 136.7,135.3 137.2,132.1 137.7,134.8 138.2,134.2 138.7,133.5 138.9,131.3 139.2,130.1 139.7,131.6 140.2,132.4 140.7,131.8 141.2,129.9 141.7,131.8 142.2,129.1 142.7,129.1 142.7,130.6 143.2,130.0 143.7,130.0 144.2,129.4 144.7,132.5 145.2,130.5 145.7,132.5 146.2,133.2 146.6,132.4 146.7,132.9 147.2,133.9 147.7,134.9 148.2,134.4 148.7,132.2 149.2,132.0 149.7,133.6 150.2,133.2 150.4,135.0 150.7,134.7 151.2,134.5 151.7,136.0 152.2,136.0 152.7,135.0 153.2,135.6 153.7,136.4 154.2,135.1 154.7,135.8 155.2,134.7 155.7,135.8 156.2,136.2 156.7,135.9 157.2,136.3 157.7,136.9 158.1,136.8 158.2,135.7 158.7,136.0 159.2,135.6 159.7,138.7 160.2,137.7 160.7,137.9 161.2,137.6 161.7,138.4 162.2,138.8 162.7,137.8 163.2,138.7 163.7,140.2 164.2,138.2 164.7,138.8 165.2,140.5 165.7,139.5 165.7,140.9 166.2,139.5 166.7,141.0 167.3,141.9 167.7,141.8 168.2,142.5 168.7,142.0 169.3,142.4 169.8,142.9 170.3,143.7 170.7,146.6 171.2,143.8 171.8,145.7 172.3,144.3 172.8,143.8 173.3,144.8 173.4,145.4 173.7,145.3 174.3,145.5 174.8,146.1 175.3,146.3 175.8,146.8 176.3,145.4 176.8,146.5 177.3,146.0 177.8,147.1 178.3,147.1 178.8,147.5 179.3,147.2 179.8,147.1 180.3,147.7 180.8,148.5 181.3,148.7 181.8,147.1 182.3,148.6 182.8,148.7 183.3,147.6 183.8,147.9 184.3,148.3 184.8,149.0 184.9,147.1 185.3,148.4 185.8,148.3 186.3,148.7 186.8,149.6 187.3,149.4 187.8,148.1 188.3,148.1 188.8,148.4 189.3,149.0 189.8,149.1 190.3,148.2 190.3,149.0 190.8,147.2 191.3,146.9 191.8,145.6 192.3,146.9 192.8,147.8 193.3,147.9 193.8,149.7 194.3,147.5 194.8,147.0 195.3,146.0 195.8,146.2 196.3,146.0 196.4,146.3 196.8,145.8 197.3,145.0 197.8,146.8 198.3,146.2 198.8,146.7 199.3,144.2 199.8,144.3 200.3,144.5 200.8,145.8 201.3,144.6 201.8,144.7 202.3,144.2 202.8,144.2 203.3,143.4 203.8,144.0 204.3,142.7 204.8,143.0 204.9,143.4 205.3,143.0 205.8,143.0 206.3,141.7 206.8,142.3 207.3,141.5 207.8,141.8 208.3,142.4 208.8,140.0 209.3,141.4 209.8,139.6 210.3,139.5 210.8,141.1 211.3,140.3 211.8,139.8 211.8,140.0 212.3,140.2 212.8,138.3 213.3,139.1 213.8,138.4 214.3,139.0 214.8,138.3 215.3,139.1 215.8,138.3 216.3,137.7 216.8,138.1 217.3,138.5 217.8,139.0 218.3,137.8 218.8,137.6 219.3,138.2 219.5,138.7 219.8,137.4 220.3,135.6 220.8,138.3 221.3,137.7 221.8,137.7 222.3,140.5 222.8,138.0 223.3,138.8 223.8,136.9 224.3,138.5 224.8,139.1 225.3,138.6 225.8,138.3 226.3,139.1 226.8,138.7 227.1,140.0 227.3,138.9 227.8,138.1 228.3,137.2 228.8,138.5 229.3,139.1 229.8,138.4 230.3,138.8 230.8,138.4 231.3,139.2 231.8,140.5 232.3,140.4 232.8,140.7 233.3,140.8 233.7,141.0 233.8,141.9 234.3,143.3 234.8,142.3 235.3,143.7 235.8,142.1 236.3,142.4 236.8,144.1 237.3,142.4 237.8,142.5 238.3,143.4 238.8,142.3 239.3,142.4 239.8,145.1 240.3,143.4 240.8,144.1 240.9,144.2 241.3,143.8 241.8,145.3 242.3,145.3 242.8,145.7 243.3,145.8 243.8,145.4 244.3,146.5 244.8,146.3 245.3,145.1 245.8,145.7 246.3,145.3 246.3,147.1 246.8,146.2 247.3,146.1 247.8,145.6 248.3,146.1 248.8,144.9 249.3,145.7 249.8,145.6 250.3,145.6 250.8,145.1 251.3,146.0 251.8,144.8 252.3,145.3 252.8,145.5 253.3,145.6 253.8,145.2 254.3,144.8 254.8,144.9 255.3,145.3 255.8,145.0 256.3,145.5 256.8,144.7 257.3,145.7 257.8,147.2 257.8,144.6 258.3,145.5 258.8,146.5 259.3,145.8 259.8,146.3 260.3,143.9 260.8,145.1 261.3,146.7 261.8,145.0 262.3,145.7 262.8,143.8 263.3,146.1 263.8,147.0 264.3,145.1 264.8,145.4 265.3,145.4 265.5,146.7" fill="none" stroke="#50ff00" stroke-width="1.6" stroke-linejoin="round"/>
<polyline points="39.1,159.3 39.6,156.8 40.1,157.3 40.3,155.4 40.6,155.9 41.1,153.8 41.4,154.4 41.6,154.2 42.1,150.9 42.5,149.5 42.6,149.8 43.1,147.2 43.6,146.7 44.1,146.2 44.6,141.5 44.8,142.8 45.1,141.9 45.6,139.3 46.1,138.3 46.2,137.7 46.6,130.4 47.0,123.6 47.1,118.2 47.5,105.8 47.6,104.3 48.0,93.2 48.1,86.6 48.5,77.4 48.6,69.1 49.1,56.4 49.1,49.7 49.5,42.8 49.6,45.4 50.0,57.5 50.1,55.5 50.6,67.2 50.6,63.5 51.1,73.8 51.4,78.7 51.6,76.8 52.2,80.6 52.5,85.7 52.6,83.3 53.1,90.2 53.6,94.7 53.6,95.3 54.1,106.9 54.2,107.3 54.7,114.6 54.7,113.1 55.2,119.8 55.4,125.2 55.6,125.3 56.1,131.0 56.4,132.2 56.7,133.4 57.2,137.6 57.7,137.7 57.7,139.7 58.2,140.5 58.6,137.2 59.1,137.8 59.2,137.5 59.7,138.7 60.2,133.1 60.7,131.9 61.1,131.5 61.2,131.4 61.7,132.3 62.2,136.4 62.2,135.5 62.7,139.1 63.2,140.7 63.7,141.2 63.7,141.8 64.2,144.4 64.7,144.1 65.2,145.5 65.6,146.8 65.7,146.0 66.2,147.5 66.7,149.3 67.2,149.8 67.7,148.7 68.2,151.6 68.7,151.1 69.1,151.2 69.2,151.3 69.7,152.8 70.2,152.6 70.7,152.6 71.2,152.4 71.7,153.5 72.1,154.0 72.2,152.7 72.7,152.9 73.2,153.5 73.7,154.3 74.2,153.8 74.7,154.2 75.2,153.9 75.7,155.3 76.0,154.6 76.2,154.8 76.7,155.6 77.2,155.1 77.7,155.4 78.2,155.9 78.7,155.7 79.2,156.9 79.7,156.3 80.2,156.2 80.7,156.4 81.2,156.0 81.3,157.2 81.7,157.4 82.2,156.5 82.7,156.3 83.2,155.5 83.7,156.3 84.2,157.1 84.7,156.2 85.2,157.0 85.7,157.4 86.2,155.2 86.7,156.4 87.2,156.2 87.7,156.3 88.2,155.6 88.7,156.4 89.0,156.0 89.2,157.1 89.7,157.3 90.2,155.8 90.7,155.7 91.2,156.2 91.7,156.2 92.2,156.1 92.7,156.5 93.2,155.1 93.7,155.5 94.2,155.4 94.7,155.3 95.2,154.7 95.7,154.8 96.2,154.5 96.7,155.3 96.7,154.4 97.2,153.1 97.7,154.2 98.2,153.4 98.7,152.1 99.2,151.3 99.7,150.8 100.2,151.5 100.5,149.5 100.7,150.4 101.2,149.4 101.7,147.6 102.2,147.3 102.7,145.6 103.2,142.7 103.7,143.3 104.2,142.0 104.4,142.9 104.7,141.7 105.2,140.4 105.7,137.9 106.2,136.3 106.7,133.3 107.2,129.9 107.7,127.7 108.2,124.8 108.2,124.7 108.7,118.2 109.2,113.6 109.7,105.7 110.2,97.7 110.5,94.8 110.7,87.2 111.2,69.5 111.7,37.7 112.0,37.7 112.2,40.0 112.7,54.3 113.2,65.9 113.6,79.2 113.7,78.3 114.2,80.2 114.7,85.9 115.2,90.6 115.7,91.2 115.9,96.1 116.2,95.8 116.7,100.3 117.2,103.8 117.7,104.3 118.2,109.2 118.2,104.7 118.7,111.4 119.2,110.1 119.7,117.3 120.2,117.4 120.7,122.1 121.2,124.5 121.2,122.7 121.7,124.1 122.2,128.5 122.7,127.6 123.2,131.7 123.7,132.4 124.2,133.8 124.3,133.9 124.7,137.5 125.2,135.7 125.7,138.3 126.2,140.5 126.7,142.1 127.2,143.4 127.4,143.3 127.7,142.0 128.2,143.1 128.7,144.1 129.2,143.9 129.7,142.5 130.2,144.2 130.7,144.5 131.2,143.0 131.2,143.7 131.7,143.9 132.2,144.2 132.7,144.5 133.2,143.6 133.7,142.4 134.2,141.5 134.7,140.3 135.1,139.8 135.2,139.8 135.7,139.2 136.2,139.7 136.7,140.1 137.2,137.8 137.7,137.4 138.2,136.3 138.7,135.1 138.9,135.8 139.2,135.0 139.7,132.8 140.2,131.4 140.7,130.9 141.2,128.3 141.7,127.8 142.2,127.4 142.7,124.8 142.7,122.6 143.2,124.2 143.7,120.3 144.2,119.2 144.3,119.1 144.7,122.9 145.2,121.3 145.7,126.4 146.2,129.5 146.6,130.9 146.7,130.6 147.2,133.0 147.7,135.1 148.2,135.4 148.7,139.0 149.2,140.8 149.7,140.3 150.2,141.3 150.4,141.3 150.7,143.5 151.2,142.2 151.7,143.2 152.2,142.5 152.7,145.3 153.2,144.4 153.7,145.1 154.2,146.3 154.2,145.6 154.7,144.4 155.2,145.8 155.7,146.2 156.2,145.1 156.7,145.2 157.2,145.3 157.7,146.8 158.2,146.4 158.7,145.7 159.2,147.0 159.7,147.2 160.2,146.1 160.7,145.7 161.2,147.8 161.7,148.9 161.9,148.1 162.2,147.8 162.7,147.2 163.2,146.7 163.7,147.3 164.2,147.8 164.7,147.2 165.2,148.1 165.7,147.5 166.2,148.0 166.7,145.6 167.3,147.0 167.7,148.3 168.2,148.4 168.7,148.1 169.3,149.0 169.8,148.3 170.3,148.4 170.7,147.2 171.2,148.2 171.8,148.5 172.3,148.9 172.8,148.8 173.3,148.0 173.4,148.1 173.7,147.1 174.3,148.4 174.8,147.1 175.3,147.6 175.8,147.7 176.3,149.0 176.8,148.4 177.3,146.8 177.8,146.1 178.3,146.8 178.8,146.3 179.3,147.0 179.8,146.8 180.3,146.8 180.8,145.4 181.1,145.8 181.3,146.1 181.8,146.0 182.3,145.1 182.8,145.0 183.3,145.6 183.8,143.3 184.3,144.1 184.8,144.0 185.3,142.4 185.8,142.5 186.3,143.0 186.8,142.2 187.3,143.3 187.8,142.6 188.3,143.8 188.8,140.6 189.3,143.1 189.8,140.7 190.3,141.9 190.3,142.1 190.8,141.3 191.3,140.9 191.8,140.5 192.3,139.5 192.8,140.7 193.3,140.2 193.8,141.4 194.3,140.2 194.8,140.7 195.3,141.2 195.8,140.8 196.3,140.8 196.8,140.5 197.3,140.3 197.8,141.1 198.3,141.3 198.8,139.9 199.3,142.1 199.8,141.1 200.3,139.2 200.8,142.9 201.3,141.1 201.8,139.9 202.3,141.9 202.8,138.2 203.3,142.7 203.8,139.2 204.3,139.1 204.8,139.6 204.9,140.6 205.3,140.2 205.8,141.3 206.3,140.0 206.8,141.8 207.3,141.3 207.8,140.4 208.3,142.5 208.8,142.1 209.3,141.9 209.8,143.4 210.3,141.6 210.8,142.5 211.3,144.2 211.8,143.2 211.8,143.8 212.3,143.8 212.8,143.4 213.3,144.2 213.8,143.0 214.3,144.5 214.8,143.3 215.3,144.2 215.8,143.6 216.3,144.9 216.8,145.0 217.3,145.6 217.8,144.3 218.3,144.1 218.8,143.2 219.3,143.8 219.5,144.7 219.8,145.0 220.3,144.6 220.8,144.9 221.3,143.7 221.8,144.1 222.3,145.5 222.8,145.4 223.3,143.7 223.8,144.6 224.3,145.0 224.8,143.8 225.3,145.1 225.8,144.9 226.3,145.1 226.8,146.2 227.1,144.0 227.3,145.6 227.8,145.1 228.3,145.2 228.8,144.0 229.3,144.6 229.8,144.4 230.3,145.7 230.8,144.4 231.3,145.4 231.8,143.9 232.3,143.8 232.8,144.0 233.3,142.3 233.8,143.4 234.3,143.3 234.8,143.6 234.8,143.9 235.3,142.8 235.8,142.7 236.3,144.5 236.8,142.5 237.3,142.9 237.8,142.4 238.3,142.7 238.8,144.1 239.3,143.9 239.8,141.4 240.3,142.6 240.8,143.9 240.9,142.5 241.3,143.0 241.8,144.2 242.3,144.5 242.8,143.9 243.3,142.3 243.8,142.5 244.3,142.7 244.8,142.2 245.3,141.9 245.8,144.1 246.3,142.6 246.8,143.0 247.3,143.3 247.8,142.7 248.3,142.3 248.8,142.4 249.3,143.4 249.8,142.6 250.2,140.5 250.3,143.1 250.8,143.6 251.3,141.9 251.8,141.7 252.3,141.8 252.8,143.1 253.3,141.3 253.8,142.8 254.3,143.1 254.8,142.7 255.3,142.3 255.8,141.6 256.3,141.7 256.8,142.2 257.3,141.4 257.8,142.2 258.3,141.5 258.8,143.4 259.3,143.6 259.8,141.6 260.3,143.5 260.8,142.6 261.3,142.4 261.8,142.8 262.3,142.8 262.8,141.2 263.3,144.5 263.8,141.7 264.3,140.6 264.8,142.5 265.3,142.6 265.5,141.9" fill="none" stroke="#0028fa" stroke-width="1.6" stroke-linejoin="round"/>
</g>
<clipPath id="cpB"><rect x="283.60" y="7.60" width="229.80" height="153.80"/></clipPath>
<g clip-path="url(#cpB)">
<polyline points="289.7,159.8 290.2,161.4 290.7,160.8 291.2,160.9 291.7,160.5 292.2,160.7 292.7,160.3 293.2,160.9 293.7,160.6 294.2,160.9 294.7,160.8 295.1,160.5 295.2,160.4 295.7,160.9 296.2,159.2 296.7,160.0 297.2,160.5 297.7,158.8 298.2,159.7 298.7,158.6 299.2,158.6 299.7,158.1 300.2,157.8 300.7,157.9 301.1,157.3 301.2,155.8 301.7,158.2 302.2,156.2 302.7,155.4 303.2,155.8 303.7,155.4 304.2,152.1 304.7,153.2 305.2,150.6 305.2,151.7 305.7,151.1 306.2,149.6 306.7,148.4 307.2,147.1 307.2,147.7 307.7,147.4 308.2,146.9 308.7,145.4 308.9,145.8 309.2,147.3 309.7,146.7 310.2,145.7 310.7,146.3 311.2,145.8 311.2,146.4 311.7,145.3 312.2,144.1 312.7,143.0 312.7,144.0 313.2,141.5 313.7,143.0 314.2,139.2 314.7,140.9 315.2,141.0 315.7,141.7 316.1,144.0 316.2,141.4 316.7,141.9 317.2,141.6 317.7,146.0 317.7,143.0 318.2,146.0 318.7,146.1 319.2,149.8 319.7,148.3 320.1,149.4 320.2,148.6 320.7,149.8 321.2,151.5 321.7,150.5 322.2,151.4 322.7,152.0 323.2,152.2 323.7,152.6 324.2,153.7 324.2,154.7 324.7,154.9 325.2,153.1 325.7,153.8 326.2,154.4 326.7,154.9 327.2,154.7 327.7,154.9 328.2,155.2 328.7,155.6 329.2,153.7 329.6,155.1 329.7,155.7 330.2,156.3 330.7,156.0 331.2,155.1 331.7,155.1 332.2,155.9 332.7,155.8 333.2,156.1 333.7,156.7 334.2,155.2 334.7,155.9 335.2,154.5 335.7,156.7 336.2,156.4 336.7,155.7 337.2,156.4 337.2,157.2 337.7,156.9 338.2,156.2 338.7,156.0 339.2,156.2 339.7,155.4 340.2,155.4 340.7,155.7 341.2,155.8 341.7,155.9 342.2,155.3 342.7,154.9 343.2,155.4 343.7,155.0 344.2,155.4 344.7,156.0 344.9,155.7 345.2,154.4 345.7,154.4 346.2,153.4 346.7,154.2 347.2,153.3 347.7,152.7 348.2,152.5 348.7,153.4 349.2,152.7 349.7,152.0 350.2,152.5 350.7,151.0 351.2,150.1 351.7,150.9 352.2,148.5 352.5,150.1 352.7,149.9 353.2,149.6 353.7,149.6 354.2,148.3 354.7,148.3 355.2,146.5 355.7,146.9 356.2,146.5 356.7,146.7 357.1,147.3 357.2,146.1 357.7,146.2 358.2,143.9 358.7,144.2 359.2,141.8 359.7,141.9 360.2,140.9 360.7,140.6 361.2,139.5 361.7,137.8 361.7,137.3 362.2,137.8 362.7,134.4 363.2,129.4 363.7,129.9 364.2,127.2 364.7,124.7 364.8,125.0 365.2,118.6 365.7,115.9 366.2,110.7 366.7,103.0 367.2,97.2 367.7,100.1 367.9,95.2 368.2,94.8 368.7,93.8 369.2,92.4 369.7,91.9 370.2,86.2 370.2,88.3 370.7,82.2 371.2,70.3 371.7,67.6 371.7,67.6 372.2,70.7 372.7,75.9 373.2,87.6 373.2,89.8 373.7,97.1 374.2,102.7 374.7,110.3 375.2,114.4 375.7,119.5 375.9,125.1 376.2,124.3 376.7,127.9 377.2,132.7 377.6,137.5 378.1,137.7 378.6,141.1 378.7,141.8 379.2,142.5 379.6,142.2 380.1,141.9 380.7,142.2 381.2,143.4 381.6,144.8 381.6,144.3 382.1,144.5 382.6,143.5 383.1,144.6 383.6,142.2 384.1,141.0 384.6,141.1 384.7,140.4 385.1,141.0 385.6,140.1 386.1,137.4 386.6,133.4 387.1,131.6 387.6,131.6 387.8,129.2 388.1,129.9 388.6,125.9 389.1,125.5 389.6,125.1 390.1,121.6 390.6,122.3 391.1,121.1 391.6,120.7 392.1,117.2 392.6,117.1 393.1,116.9 393.1,117.4 393.6,115.2 394.1,119.6 394.6,122.3 395.1,122.0 395.6,124.1 396.1,127.4 396.2,130.3 396.6,130.1 397.1,130.1 397.6,132.1 398.1,131.2 398.5,134.8 398.6,132.4 399.1,133.9 399.6,131.5 400.1,133.0 400.6,131.5 401.1,133.2 401.6,133.8 402.1,133.0 402.6,131.9 403.1,131.9 403.1,129.1 403.6,124.7 404.1,119.7 404.6,118.4 404.6,117.0 405.1,121.7 405.6,126.3 406.1,132.7 406.2,132.6 406.6,134.5 407.1,137.2 407.6,136.4 408.1,137.4 408.6,136.3 409.1,137.0 409.6,138.4 410.1,138.3 410.6,136.5 411.1,139.5 411.6,139.6 412.1,139.1 412.6,139.8 413.1,139.7 413.6,139.0 413.8,137.8 414.1,141.6 414.6,140.0 415.1,140.2 415.6,140.6 416.1,140.9 416.6,141.3 417.1,140.1 417.6,141.8 418.1,141.7 418.6,141.7 419.1,141.7 419.6,142.1 420.1,141.1 420.6,142.1 421.1,142.0 421.5,142.2 421.6,143.2 422.1,142.9 422.6,143.0 423.1,141.6 423.6,142.3 424.1,142.4 424.6,140.8 425.1,140.1 425.6,142.1 426.1,138.2 426.6,139.5 427.1,139.3 427.6,137.6 428.1,138.3 428.6,138.7 429.1,135.4 429.6,138.7 430.1,137.4 430.6,136.1 430.7,138.2 431.1,137.0 431.6,136.4 432.1,134.0 432.6,137.6 433.1,136.5 433.6,135.6 434.1,136.2 434.6,137.5 435.1,135.6 435.6,135.9 436.1,135.4 436.6,134.5 436.8,134.6 437.1,135.3 437.6,135.3 438.1,136.8 438.6,135.6 439.1,135.1 439.6,135.7 440.1,135.1 440.6,136.0 441.1,133.3 441.6,132.5 442.1,135.3 442.6,134.3 443.1,135.0 443.6,133.2 444.1,134.0 444.5,134.4 444.6,134.7 445.1,134.2 445.6,135.5 446.1,133.4 446.6,135.0 447.1,133.4 447.6,133.8 448.1,132.6 448.6,133.8 449.1,132.5 449.6,134.7 450.1,132.8 450.6,133.7 451.1,133.2 451.6,133.2 452.1,132.1 452.1,135.6 452.6,132.7 453.1,134.8 453.6,131.5 454.1,135.2 454.6,134.0 455.1,134.7 455.6,130.7 456.1,134.1 456.6,132.3 457.1,133.0 457.6,134.5 458.1,132.6 458.6,131.3 459.1,132.3 459.6,130.8 459.8,132.4 460.1,131.9 460.6,132.2 461.1,131.3 461.6,129.2 462.1,131.0 462.6,131.1 463.1,131.9 463.6,132.0 464.1,129.1 464.6,132.2 465.1,131.8 465.6,130.6 466.1,130.9 466.6,127.8 467.1,133.1 467.6,129.6 468.1,129.0 468.6,131.2 469.1,130.5 469.6,129.1 470.1,127.5 470.6,130.7 471.1,131.4 471.6,128.2 472.1,127.4 472.6,129.8 472.8,132.2 473.1,127.5 473.6,129.7 474.1,128.1 474.6,129.7 475.1,130.4 475.6,130.7 476.1,128.5 476.6,128.9 477.1,133.6 477.6,132.4 478.1,129.4 478.6,132.4 479.1,133.9 479.6,132.6 480.1,133.1 480.6,133.4 481.1,134.2 481.6,134.3 482.1,134.7 482.6,134.0 482.8,135.4 483.1,134.9 483.6,135.0 484.1,133.5 484.6,134.8 485.1,135.5 485.6,135.0 486.1,135.3 486.6,134.7 487.1,135.5 487.6,134.3 488.1,134.9 488.6,136.6 489.1,137.2 489.6,135.9 490.1,136.4 490.4,137.2 490.6,138.7 491.1,139.2 491.6,136.9 492.1,136.6 492.5,136.7 493.0,139.0 493.6,136.6 494.1,138.4 494.5,137.5 495.0,137.6 495.6,139.0 496.1,138.8 496.5,140.5 497.0,139.3 497.5,140.3 498.0,137.9 498.1,138.3 498.5,137.4 499.0,137.9 499.5,139.0 500.0,137.9 500.5,138.7 501.0,137.7 501.5,138.0 502.0,139.4 502.5,138.3 503.0,138.3 503.5,138.6 504.0,137.3 504.5,136.4 505.0,138.7 505.5,138.6 506.0,140.6 506.5,138.3 507.0,138.6 507.5,140.5 508.0,137.8 508.5,137.5 509.0,138.8 509.5,138.4 510.0,139.0 510.5,137.1 511.0,139.5 511.5,138.2 512.0,135.6 512.5,137.6 513.0,137.1 513.4,137.7" fill="none" stroke="#3a1ee6" stroke-width="1.6" stroke-linejoin="round"/>
<polyline points="289.7,161.4 290.2,160.9 290.7,160.7 291.2,161.4 291.7,160.7 292.2,160.1 292.7,160.2 293.2,161.4 293.7,161.3 294.2,161.4 294.7,160.1 295.2,160.3 295.7,160.2 296.2,161.1 296.7,161.2 297.2,160.5 297.7,160.4 298.2,160.9 298.7,160.3 298.9,160.0 299.2,160.2 299.7,160.9 300.2,161.4 300.7,160.3 301.2,160.0 301.7,160.1 302.2,160.2 302.7,160.2 303.2,159.2 303.7,159.6 304.2,159.3 304.7,159.8 305.2,159.5 305.7,158.8 305.8,159.5 306.2,159.3 306.7,158.2 307.2,156.5 307.7,156.4 308.2,154.8 308.7,155.5 309.1,155.5 309.2,156.2 309.7,156.1 310.2,155.6 310.7,157.0 311.2,157.1 311.2,157.1 311.7,157.6 312.2,157.7 312.7,157.5 313.2,157.1 313.7,157.2 314.2,157.2 314.7,157.5 315.2,158.0 315.7,157.7 315.8,158.2 316.2,156.9 316.7,158.9 317.2,157.6 317.7,155.7 318.2,157.4 318.7,157.8 319.2,156.9 319.7,155.9 320.2,156.7 320.7,156.1 321.2,156.3 321.7,156.6 321.9,154.1 322.2,156.2 322.7,156.6 323.2,156.5 323.7,155.8 324.2,155.8 324.7,155.5 325.2,155.9 325.7,156.9 326.2,155.5 326.7,156.1 327.2,156.0 327.7,156.8 328.2,156.2 328.7,156.3 329.2,155.8 329.6,156.8 329.7,155.7 330.2,155.7 330.7,156.6 331.2,156.2 331.7,156.5 332.2,155.3 332.7,157.7 333.2,156.2 333.7,157.2 334.2,156.4 334.7,155.6 335.2,156.6 335.7,156.1 336.2,156.8 336.7,155.0 337.2,155.7 337.2,155.5 337.7,157.2 338.2,157.0 338.7,155.5 339.2,156.3 339.7,156.3 340.2,155.8 340.7,156.8 341.2,155.3 341.7,155.7 342.2,155.3 342.7,155.9 343.2,155.0 343.7,155.7 344.2,154.3 344.7,154.0 344.9,154.1 345.2,154.2 345.7,153.8 346.2,155.8 346.7,152.6 347.2,152.8 347.7,151.8 348.2,151.2 348.7,151.2 349.2,149.6 349.5,148.0 349.7,146.9 350.2,147.5 350.7,146.2 351.2,142.3 351.7,142.7 352.2,137.7 352.5,138.3 352.7,138.7 353.2,134.4 353.7,131.1 354.2,132.3 354.7,125.7 355.2,125.3 355.7,119.9 356.2,119.6 356.4,120.2 356.7,115.2 357.2,111.4 357.7,106.0 358.2,103.2 358.7,101.5 359.2,99.7 359.4,98.3 359.7,96.0 360.2,92.3 360.7,86.1 361.2,87.3 361.7,79.0 361.7,79.5 362.2,79.0 362.7,88.3 363.2,99.4 363.3,98.8 363.7,107.7 364.2,113.6 364.7,121.8 364.8,118.3 365.2,123.2 365.7,130.3 366.2,133.0 366.7,135.3 367.1,137.8 367.2,138.2 367.7,141.1 368.2,142.3 368.7,142.7 369.2,142.5 369.4,144.3 369.7,144.5 370.2,142.4 370.7,144.4 371.2,142.4 371.7,143.2 372.2,142.6 372.7,141.8 373.2,142.8 373.7,142.7 374.2,144.3 374.7,144.1 375.2,142.8 375.5,142.0 375.7,142.1 376.2,141.2 376.7,143.1 377.2,143.3 377.6,142.5 378.1,143.4 378.7,143.5 379.2,144.5 379.4,142.5 379.6,144.4 380.1,142.6 380.7,144.0 381.2,140.8 381.6,142.1 382.1,139.4 382.6,141.0 383.1,138.9 383.2,137.1 383.6,138.3 384.1,136.1 384.6,135.3 385.1,136.0 385.6,131.4 386.1,129.8 386.6,130.4 387.0,127.3 387.1,128.8 387.6,127.8 388.1,125.2 388.6,124.8 389.1,119.4 389.6,123.8 390.1,119.7 390.6,119.0 390.8,123.3 391.1,123.0 391.6,119.7 392.1,121.5 392.6,120.5 393.1,119.8 393.6,122.4 394.1,123.9 394.6,126.8 394.7,122.7 395.1,125.0 395.6,124.5 396.1,126.2 396.6,130.0 397.1,127.7 397.6,130.1 398.1,131.6 398.5,134.6 398.6,133.8 399.1,134.5 399.6,134.9 400.1,136.2 400.6,134.8 401.1,135.5 401.6,135.7 402.1,137.0 402.6,135.4 403.1,136.9 403.6,140.4 404.1,138.3 404.6,137.9 405.1,137.0 405.6,138.5 406.1,138.6 406.2,139.0 406.6,137.7 407.1,139.0 407.6,139.3 408.1,139.6 408.6,138.3 409.1,139.5 409.6,140.8 410.1,138.4 410.6,139.9 411.1,138.8 411.6,138.9 412.1,138.1 412.6,138.3 413.1,140.1 413.6,139.7 413.8,141.0 414.1,137.9 414.6,139.3 415.1,138.4 415.6,140.3 416.1,142.2 416.6,138.6 417.1,140.2 417.6,140.3 418.1,140.5 418.6,139.9 419.1,140.1 419.6,142.4 420.1,139.7 420.6,141.4 421.1,141.4 421.5,139.2 421.6,139.9 422.1,141.2 422.6,142.7 423.1,140.5 423.6,140.0 424.1,140.5 424.6,141.5 425.1,140.8 425.6,141.1 426.1,139.4 426.6,138.5 427.1,138.1 427.6,139.7 428.1,138.5 428.6,137.9 429.1,138.9 429.1,138.5 429.6,135.9 430.1,137.8 430.6,136.9 431.1,138.1 431.6,137.4 432.1,139.2 432.6,137.1 433.1,135.6 433.6,134.4 434.1,135.2 434.6,135.6 435.1,136.2 435.6,136.7 436.1,136.1 436.6,135.1 436.8,136.7 437.1,134.6 437.6,136.7 438.1,137.5 438.6,136.5 439.1,137.2 439.6,136.7 440.1,133.8 440.6,135.2 441.1,134.6 441.6,133.4 442.1,133.2 442.6,135.2 443.1,132.9 443.6,133.9 444.1,134.3 444.6,133.7 445.1,135.8 445.6,135.0 446.1,134.1 446.6,133.2 447.1,134.3 447.6,133.9 448.1,132.6 448.6,132.0 449.1,132.7 449.6,132.0 450.1,133.9 450.6,133.7 451.1,132.9 451.6,133.6 452.1,133.8 452.1,131.3 452.6,133.4 453.1,134.2 453.6,132.5 454.1,130.8 454.6,132.8 455.1,131.4 455.6,133.3 456.1,133.3 456.6,133.5 457.1,132.8 457.6,130.4 458.1,133.9 458.6,130.5 459.1,133.6 459.6,132.6 460.1,131.3 460.6,131.5 461.1,131.9 461.6,134.2 462.1,131.7 462.6,133.4 463.1,129.0 463.6,132.3 464.1,131.8 464.6,133.4 465.1,132.5 465.6,133.5 466.1,130.7 466.6,132.3 467.1,131.2 467.4,132.7 467.6,132.5 468.1,130.4 468.6,133.2 469.1,134.2 469.6,131.6 470.1,133.5 470.6,132.7 471.1,131.2 471.6,133.4 472.1,131.5 472.6,133.4 473.1,130.9 473.6,131.3 474.1,133.5 474.6,133.3 475.1,134.2 475.1,133.0 475.6,131.9 476.1,135.2 476.6,132.5 477.1,135.3 477.6,135.0 478.1,136.3 478.6,131.9 479.1,134.5 479.6,134.5 480.1,135.7 480.6,133.9 481.1,137.7 481.6,135.4 482.1,133.1 482.6,136.2 482.8,135.7 483.1,135.1 483.6,136.8 484.1,136.0 484.6,135.0 485.1,136.0 485.6,135.9 486.1,136.8 486.6,136.2 487.1,136.5 487.6,135.1 488.1,136.0 488.6,137.2 489.1,139.7 489.6,136.3 490.1,136.3 490.6,138.2 491.1,139.5 491.6,138.6 492.1,136.4 492.5,138.6 493.0,138.0 493.6,137.3 494.1,136.3 494.5,137.7 495.0,137.8 495.6,138.3 496.1,136.0 496.5,136.6 497.0,137.9 497.5,139.3 498.0,138.7 498.1,137.2 498.5,138.6 499.0,136.8 499.5,137.4 500.0,137.5 500.5,137.1 501.0,137.3 501.5,138.7 502.0,138.2 502.5,135.3 503.0,139.1 503.5,138.3 504.0,136.6 504.5,138.0 505.0,138.7 505.5,139.2 506.0,137.2 506.5,136.7 507.0,136.3 507.5,137.7 508.0,136.6 508.5,138.9 509.0,137.5 509.5,138.4 510.0,137.5 510.5,136.9 511.0,136.5 511.5,138.7 512.0,136.3 512.5,138.1 513.0,138.7 513.4,137.7" fill="none" stroke="#aa1cf0" stroke-width="1.6" stroke-linejoin="round"/>
<polyline points="289.7,161.4 290.2,161.4 290.7,161.2 291.2,161.4 291.7,160.9 292.2,161.4 292.7,161.1 293.2,161.4 293.7,161.0 294.2,161.4 294.7,161.2 295.1,160.9 295.2,160.8 295.7,161.4 296.2,161.4 296.7,160.8 297.2,160.3 297.7,160.3 298.2,159.9 298.7,159.6 299.2,160.0 299.7,160.2 300.0,160.7 300.2,160.6 300.7,160.2 301.2,159.7 301.7,159.6 302.2,159.6 302.7,159.6 303.2,159.0 303.7,159.1 304.2,158.9 304.7,158.8 305.0,159.2 305.2,159.4 305.7,158.3 306.2,158.1 306.7,158.2 307.2,158.1 307.7,156.0 308.2,157.8 308.7,157.2 309.2,156.7 309.7,157.6 310.0,156.7 310.2,155.6 310.7,156.2 311.2,156.4 311.7,156.4 312.2,156.7 312.7,156.1 313.2,156.9 313.7,157.1 314.2,156.7 314.7,156.2 315.2,156.6 315.7,156.3 316.2,158.1 316.7,156.0 317.2,155.2 317.7,155.9 318.1,157.0 318.2,157.3 318.7,156.7 319.2,157.6 319.7,156.7 320.2,157.7 320.7,156.9 321.2,156.9 321.7,159.2 322.2,157.9 322.7,158.7 323.2,159.2 323.4,158.7 323.7,158.5 324.2,157.7 324.7,159.2 325.2,157.6 325.7,156.9 326.2,157.7 326.7,157.7 327.2,158.0 327.7,158.6 328.2,157.5 328.7,157.5 329.2,157.1 329.6,155.9 329.7,157.1 330.2,157.1 330.7,156.3 331.2,158.1 331.7,157.8 332.2,157.2 332.7,157.2 333.2,156.2 333.7,156.7 334.2,155.1 334.7,155.1 334.9,155.5 335.2,156.2 335.7,155.3 336.2,154.9 336.7,156.0 337.2,154.7 337.7,154.2 338.2,154.2 338.7,152.9 339.2,152.9 339.7,154.0 340.2,153.0 340.7,153.3 341.1,152.0 341.2,153.0 341.7,151.2 342.2,151.3 342.7,150.5 343.2,150.9 343.7,151.5 344.2,148.4 344.7,149.4 345.2,147.4 345.6,147.5 345.7,147.2 346.2,145.0 346.7,144.7 347.2,141.7 347.7,142.3 348.2,137.3 348.7,135.9 349.2,133.2 349.5,131.4 349.7,129.9 350.2,125.3 350.7,126.9 351.2,121.0 351.7,118.7 352.2,112.3 352.3,113.9 352.7,109.9 353.2,107.8 353.7,102.2 354.2,97.8 354.7,96.8 354.8,94.7 355.2,94.9 355.7,86.3 356.2,80.1 356.7,79.7 357.1,76.7 357.2,82.1 357.7,82.6 358.2,83.9 358.7,85.2 359.2,87.7 359.4,89.8 359.7,91.4 360.2,94.1 360.7,101.2 361.2,107.3 361.7,111.7 361.7,106.6 362.2,117.4 362.7,117.8 363.2,119.2 363.7,124.4 364.0,128.9 364.2,128.9 364.7,132.2 365.2,136.1 365.7,141.8 365.9,141.4 366.2,142.7 366.7,143.4 367.2,144.6 367.7,147.2 368.2,148.8 368.6,147.5 368.7,146.3 369.2,147.2 369.7,147.6 370.2,145.6 370.7,148.5 371.2,146.7 371.7,147.8 372.2,147.1 372.7,146.9 373.2,145.5 373.2,147.6 373.7,147.1 374.2,147.8 374.7,145.5 375.2,146.0 375.7,144.7 376.2,145.5 376.7,144.3 377.2,142.2 377.6,142.7 378.1,141.0 378.6,140.4 378.7,141.1 379.2,140.9 379.6,136.3 380.1,135.6 380.1,134.6 380.7,136.5 381.2,134.7 381.6,133.9 382.1,131.0 382.6,127.3 383.1,126.6 383.6,126.1 384.1,124.8 384.6,122.8 385.1,123.4 385.1,122.3 385.6,121.6 386.1,123.9 386.6,120.3 387.1,116.7 387.6,118.5 388.1,117.5 388.6,117.8 389.0,117.5 389.1,115.1 389.6,117.6 390.1,119.5 390.6,123.4 390.8,120.0 391.1,122.6 391.6,123.4 392.1,120.8 392.6,122.4 393.1,127.5 393.6,125.3 394.1,127.5 394.1,129.1 394.6,129.2 395.1,134.5 395.6,136.5 396.1,138.8 396.6,139.7 396.7,137.6 397.1,140.7 397.6,141.1 398.1,141.4 398.6,140.6 399.1,141.6 399.6,140.7 400.1,142.6 400.6,143.4 400.8,142.7 401.1,142.3 401.6,143.5 402.1,142.5 402.6,141.2 403.1,143.8 403.6,143.3 404.1,142.2 404.6,144.2 405.1,144.5 405.6,144.8 405.7,143.4 406.1,143.2 406.6,143.8 407.1,143.6 407.6,142.4 408.1,142.7 408.6,144.8 409.1,143.4 409.6,143.2 410.1,142.5 410.6,143.3 411.1,143.6 411.6,143.3 412.1,144.4 412.6,142.6 413.1,143.0 413.6,141.8 413.8,143.2 414.1,142.5 414.6,142.9 415.1,142.7 415.6,140.6 416.1,141.4 416.6,140.1 417.1,141.4 417.6,139.7 418.1,141.1 418.6,139.5 419.1,139.1 419.6,137.6 420.1,137.7 420.6,137.8 421.0,136.4 421.1,137.1 421.6,136.5 422.1,136.0 422.6,136.6 423.1,136.6 423.6,135.7 424.1,136.3 424.6,135.1 425.1,134.1 425.6,134.1 426.1,135.3 426.6,136.2 427.1,134.5 427.6,134.5 428.1,132.8 428.6,134.4 429.1,134.1 429.6,132.9 430.1,134.2 430.6,133.8 431.1,131.5 431.3,131.8 431.6,132.8 432.1,133.2 432.6,134.6 433.1,132.8 433.6,133.3 434.1,133.1 434.6,134.0 435.1,133.4 435.6,133.6 436.1,132.9 436.6,131.6 437.1,132.9 437.6,135.3 438.1,134.4 438.6,135.2 439.1,134.2 439.6,132.6 440.1,132.8 440.6,134.0 440.6,132.9 441.1,134.2 441.6,135.0 442.1,135.0 442.6,134.4 443.1,131.8 443.6,135.2 444.1,132.3 444.6,132.3 445.1,134.1 445.6,134.1 446.1,134.9 446.6,134.3 447.1,133.6 447.6,134.4 448.1,133.4 448.3,133.2 448.6,134.2 449.1,134.3 449.6,134.8 450.1,134.4 450.6,136.1 451.1,134.4 451.6,134.7 452.1,136.0 452.6,132.6 453.1,136.3 453.6,136.2 454.1,134.9 454.6,137.5 455.1,136.3 455.6,137.2 456.1,136.6 456.6,135.7 457.1,135.2 457.6,134.4 458.1,134.8 458.6,134.4 459.1,135.1 459.6,136.3 460.1,134.5 460.6,136.4 461.1,136.5 461.6,134.1 462.1,134.9 462.1,135.6 462.6,135.0 463.1,134.8 463.6,137.4 464.1,135.9 464.6,137.1 465.1,135.6 465.6,136.5 466.1,134.2 466.6,135.1 467.1,136.6 467.6,135.7 468.1,137.0 468.6,135.5 469.1,134.9 469.6,135.2 470.1,137.7 470.6,135.8 471.1,134.9 471.6,135.1 472.1,134.1 472.6,136.8 473.1,134.8 473.6,136.1 474.1,135.1 474.6,134.9 475.1,134.5 475.1,136.0 475.6,135.1 476.1,136.7 476.6,136.9 477.1,134.7 477.6,135.4 478.1,137.2 478.6,136.3 479.1,135.4 479.6,133.6 480.1,134.2 480.6,134.5 481.1,137.5 481.6,135.6 482.1,134.9 482.6,135.0 483.1,135.0 483.6,135.8 484.1,133.6 484.6,133.9 485.1,135.7 485.6,136.7 486.1,133.3 486.6,136.3 487.1,134.3 487.6,133.6 488.1,136.8 488.6,135.4 489.1,136.2 489.6,135.2 490.1,135.5 490.4,133.6 490.6,135.2 491.1,135.9 491.6,134.6 492.1,136.2 492.5,136.3 493.0,133.4 493.6,136.9 494.1,136.5 494.5,136.0 495.0,137.2 495.6,138.4 496.1,134.9 496.5,137.0 497.0,136.7 497.5,136.6 498.0,137.3 498.5,137.4 499.0,136.0 499.5,133.6 500.0,135.5 500.5,135.5 501.0,138.0 501.5,136.4 502.0,137.7 502.5,135.6 503.0,136.7 503.5,136.4 504.0,136.6 504.5,137.2 505.0,138.3 505.5,136.0 506.0,138.2 506.5,138.0 507.0,137.0 507.5,137.5 508.0,136.5 508.5,135.7 509.0,136.5 509.5,136.6 510.0,136.9 510.5,136.0 511.0,139.0 511.5,136.6 512.0,138.0 512.5,138.4 513.0,137.1 513.4,137.5" fill="none" stroke="#e6003c" stroke-width="1.6" stroke-linejoin="round"/>
<polyline points="289.0,159.8 289.5,159.0 290.0,160.5 290.5,158.5 290.5,157.1 291.0,157.0 291.5,155.6 292.0,155.4 292.0,156.3 292.5,155.1 293.0,152.6 293.5,151.2 294.0,151.1 294.1,150.4 294.5,148.8 295.0,148.9 295.5,145.9 296.0,142.2 296.1,141.1 296.5,141.9 297.0,137.7 297.5,138.0 298.0,136.4 298.1,137.6 298.5,132.7 299.0,132.8 299.5,128.0 300.0,129.1 300.1,128.9 300.5,130.6 300.9,125.4 301.4,126.3 301.6,125.3 302.0,121.2 302.4,103.4 302.5,101.4 302.9,93.5 303.1,89.5 303.4,85.9 303.8,83.0 304.0,84.9 304.5,81.8 304.7,86.4 304.9,87.9 305.4,89.7 305.9,96.9 305.9,93.8 306.4,100.2 306.9,109.7 307.0,111.6 307.4,110.3 307.9,114.7 308.1,112.0 308.4,111.1 308.9,111.6 308.9,114.3 309.4,116.5 309.9,121.3 310.1,125.7 310.4,125.8 310.9,130.8 311.4,132.9 311.9,131.2 312.4,133.2 312.9,134.4 313.1,135.7 313.4,136.4 313.9,136.6 314.4,137.0 314.9,140.4 315.4,143.1 315.9,141.6 316.1,142.7 316.4,143.7 316.9,145.9 317.4,145.7 317.9,148.9 318.1,148.7 318.4,151.1 318.9,150.6 319.4,151.2 319.9,151.1 320.4,151.2 320.9,152.3 321.4,150.7 321.9,153.0 321.9,152.6 322.4,152.2 322.9,153.6 323.4,152.4 323.9,152.5 324.4,153.3 324.9,151.8 325.4,153.3 325.9,153.3 326.4,154.4 326.9,155.0 327.4,154.3 327.9,154.2 328.4,154.4 328.9,153.6 329.4,156.0 329.6,155.1 329.9,155.6 330.4,153.5 330.9,154.9 331.4,155.0 331.9,155.5 332.4,154.1 332.9,155.2 333.4,154.8 333.9,156.5 334.4,154.3 334.9,154.9 335.4,154.8 335.9,154.4 336.4,155.4 336.9,155.4 337.2,154.8 337.4,155.0 337.9,155.5 338.4,155.2 338.9,155.6 339.4,154.7 339.9,154.6 340.4,155.2 340.9,153.8 341.4,156.2 341.9,155.2 342.4,153.8 342.9,155.3 343.4,156.1 343.9,153.9 344.4,154.4 344.9,155.6 344.9,154.2 345.4,155.4 345.9,155.5 346.4,154.5 346.9,154.6 347.4,154.8 347.9,154.0 348.4,154.2 348.9,153.2 349.4,153.0 349.9,152.1 350.4,152.7 350.9,153.1 351.4,152.8 351.9,151.7 352.4,150.0 352.5,150.5 352.9,151.5 353.4,150.0 353.9,151.5 354.4,149.5 354.9,150.5 355.4,149.3 355.9,149.2 356.4,149.7 356.9,148.9 357.4,149.8 357.9,148.6 358.4,147.2 358.7,144.3 358.9,147.0 359.4,146.7 359.9,146.7 360.4,143.5 360.9,144.8 361.4,142.6 361.7,140.6 361.9,141.8 362.4,137.8 362.9,137.2 363.4,137.8 363.9,136.4 364.4,135.5 364.9,133.5 364.9,130.9 365.4,126.7 365.9,119.8 366.3,112.9 366.4,113.1 366.9,99.0 367.4,89.8 367.9,81.0 367.9,80.5 368.4,82.5 368.9,94.7 369.4,100.6 369.4,97.3 369.9,99.7 370.4,108.3 370.9,108.4 371.4,109.1 371.9,109.2 372.4,114.4 372.5,112.2 372.9,115.3 373.4,112.9 373.9,117.6 374.4,120.1 374.9,122.0 375.4,121.5 375.9,123.6 376.4,127.4 376.9,127.1 377.1,129.6 377.4,129.8 377.9,132.0 378.4,133.6 378.9,134.3 379.4,136.0 379.9,135.4 380.4,135.8 380.5,137.1 380.9,138.4 381.4,136.7 381.9,140.1 382.4,140.3 382.9,137.6 383.2,137.7 383.4,137.3 383.9,138.6 384.4,139.7 384.9,138.8 385.4,137.6 385.9,139.0 386.4,138.9 386.9,139.5 387.4,139.2 387.9,136.9 388.4,137.2 388.9,138.9 389.4,138.7 389.9,138.0 390.4,136.6 390.8,138.4 390.9,137.3 391.4,139.3 391.9,138.1 392.4,136.0 392.9,135.2 393.4,137.1 393.9,136.3 394.4,134.2 394.9,135.1 395.4,134.9 395.9,133.3 396.4,133.2 396.9,131.7 397.4,131.7 397.9,133.0 398.4,132.1 398.9,131.7 399.4,133.0 399.9,132.4 400.4,129.8 400.5,132.9 400.9,129.6 401.4,130.4 401.9,130.8 402.4,129.8 402.9,129.8 403.4,128.7 403.9,130.7 404.4,130.4 404.9,130.3 405.4,127.5 405.9,128.6 406.4,130.9 406.9,130.2 407.4,130.6 407.9,129.7 408.2,129.4 408.4,126.8 408.9,132.0 409.4,128.6 409.9,129.5 410.4,131.3 410.9,130.9 411.4,131.7 411.9,131.4 412.4,130.6 412.9,134.1 413.4,131.1 413.9,133.6 414.4,131.7 414.9,133.4 415.4,132.7 415.8,133.8 416.1,133.3 416.3,134.6 416.9,135.8 417.4,134.2 417.8,134.4 418.3,133.0 418.9,137.8 419.4,135.9 419.8,134.7 420.3,137.5 420.8,136.5 421.3,134.0 421.8,134.9 422.3,137.6 422.8,135.2 423.3,135.6 423.8,136.2 424.3,136.8 424.8,137.1 425.3,138.4 425.8,138.2 426.3,136.9 426.8,137.7 427.3,135.9 427.8,138.4 428.3,140.7 428.8,138.6 429.3,138.0 429.8,138.0 430.3,138.4 430.8,139.4 431.3,137.0 431.3,139.3 431.8,137.9 432.3,139.1 432.8,140.1 433.3,137.4 433.8,141.6 434.3,139.9 434.8,138.7 435.3,139.6 435.8,138.5 436.3,139.4 436.8,139.8 437.3,137.2 437.8,139.7 438.3,139.7 438.8,140.7 439.3,140.4 439.8,139.0 440.3,139.2 440.8,139.8 441.3,140.5 441.8,139.1 442.3,141.6 442.8,140.2 443.3,140.1 443.8,140.8 444.2,139.7 444.3,140.6 444.8,140.7 445.3,138.0 445.8,139.0 446.3,138.5 446.8,139.6 447.3,138.6 447.8,138.6 448.3,138.1 448.8,136.7 449.3,139.3 449.8,138.7 450.3,138.9 450.8,142.4 451.3,140.0 451.8,138.3 452.3,137.5 452.8,138.7 453.3,136.6 453.8,136.3 454.3,138.0 454.8,135.8 455.3,135.3 455.8,136.6 455.9,138.1 456.3,135.3 456.8,137.0 457.3,137.0 457.8,136.3 458.3,136.8 458.8,134.8 459.3,134.9 459.8,134.2 460.3,134.7 460.8,136.0 461.3,135.0 461.8,133.6 462.3,134.8 462.8,130.7 463.3,134.2 463.8,134.4 464.3,132.1 464.8,132.4 465.3,133.1 465.8,133.2 466.3,132.2 466.8,131.6 467.3,131.6 467.8,132.7 468.3,131.8 468.8,131.2 469.3,131.3 469.7,135.9 469.8,133.3 470.3,133.1 470.8,132.5 471.3,132.0 471.8,131.1 472.3,131.4 472.8,132.3 473.3,132.2 473.8,130.1 474.3,132.9 474.8,131.8 475.3,130.3 475.8,131.8 476.3,134.6 476.8,131.7 477.3,132.6 477.4,132.3 477.8,130.9 478.3,131.7 478.8,132.6 479.3,131.4 479.8,132.1 480.3,132.6 480.8,132.6 481.3,132.9 481.8,133.8 482.3,134.2 482.8,133.8 483.3,135.2 483.8,135.7 484.3,133.0 484.8,135.0 485.3,134.9 485.8,135.2 486.3,135.2 486.6,135.2 486.8,135.2 487.3,136.3 487.8,134.5 488.3,136.4 488.8,134.6 489.3,138.0 489.8,137.1 490.3,134.9 490.8,136.3 491.3,137.0 491.8,135.9 492.3,137.6 492.8,136.4 493.3,139.1 493.8,137.2 494.3,137.5 494.8,136.3 495.3,135.9 495.8,137.9 496.3,135.3 496.8,137.8 497.3,139.4 497.8,139.8 498.3,135.5 498.8,137.4 499.3,138.0 499.8,138.1 500.3,138.5 500.4,135.8 500.8,137.4 501.3,135.4 501.8,137.5 502.3,139.9 502.8,136.4 503.3,137.7 503.8,137.6 504.3,135.6 504.8,137.6 505.3,136.0 505.8,137.3 506.3,138.1 506.8,136.7 507.3,138.0 507.8,136.0 508.3,136.3 508.8,137.2 509.3,136.6 509.8,136.7 510.3,137.6 510.8,136.3 511.3,137.6 511.8,136.6 512.3,138.4 512.8,137.2 513.3,136.8 513.4,138.2" fill="none" stroke="#00a000" stroke-width="1.6" stroke-linejoin="round"/>
<polyline points="287.4,160.9 287.9,160.2 288.4,158.1 288.5,158.8 288.9,156.3 289.4,152.7 289.9,150.5 290.0,151.4 290.4,147.5 290.9,143.2 291.4,141.2 291.6,139.0 291.9,137.4 292.4,135.0 292.6,135.3 292.9,134.6 293.2,133.5 293.4,131.4 293.9,125.0 294.3,119.7 294.4,119.5 294.9,111.9 295.4,103.5 295.9,100.5 295.9,97.8 296.4,90.3 296.9,80.9 297.4,72.3 297.4,71.6 297.9,62.1 298.4,43.9 298.4,43.7 298.8,33.8 298.9,24.9 299.3,24.5 299.4,17.6 299.8,20.0 299.9,19.9 300.4,20.6 300.7,23.6 300.9,26.9 301.4,37.1 301.8,53.0 301.9,56.9 302.4,72.5 302.4,79.3 302.8,83.3 302.9,87.8 303.4,91.8 303.9,99.0 303.9,95.8 304.4,100.4 304.9,106.7 304.9,101.9 305.4,116.7 305.9,127.1 305.9,126.7 306.4,127.9 306.9,129.1 307.0,129.9 307.4,130.2 307.9,131.0 308.1,134.6 308.4,134.4 308.9,136.0 309.4,135.9 309.9,135.6 310.4,137.6 310.4,139.4 310.9,139.8 311.4,139.6 311.9,142.4 312.4,143.3 312.9,144.2 313.1,146.7 313.4,145.3 313.9,147.6 314.4,149.2 314.9,151.7 315.1,151.7 315.4,151.8 315.9,151.5 316.4,151.8 316.9,152.0 317.4,150.8 317.9,151.4 318.1,153.0 318.4,153.0 318.9,151.4 319.4,153.0 319.9,151.9 320.4,151.9 320.9,153.6 321.4,153.5 321.9,153.4 322.4,154.2 322.9,154.4 323.4,154.0 323.4,153.1 323.9,154.1 324.4,154.0 324.9,154.2 325.4,154.9 325.9,152.9 326.4,155.7 326.9,154.6 327.4,153.7 327.9,155.2 328.4,153.7 328.9,153.3 329.4,154.8 329.6,154.1 329.9,155.0 330.4,153.8 330.9,154.1 331.4,154.0 331.9,153.2 332.4,153.9 332.9,153.2 333.4,153.8 333.9,155.1 334.4,154.0 334.9,153.9 335.4,155.2 335.9,153.2 336.4,154.2 336.9,153.9 337.2,154.9 337.4,154.1 337.9,154.0 338.4,154.4 338.9,154.0 339.4,155.5 339.9,152.8 340.4,154.5 340.9,155.1 341.4,154.0 341.9,153.7 342.4,152.5 342.9,153.3 343.4,152.2 343.9,152.9 344.4,150.2 344.9,151.2 344.9,150.1 345.4,152.1 345.9,150.5 346.4,151.4 346.9,149.7 347.4,149.1 347.9,150.4 348.4,149.5 348.9,149.0 349.4,148.8 349.9,147.6 350.4,147.4 350.9,147.4 351.0,145.9 351.4,145.3 351.9,146.7 352.4,145.7 352.9,144.9 353.4,144.9 353.9,145.0 354.4,143.2 354.8,142.6 354.9,142.7 355.4,142.5 355.9,138.5 356.4,136.4 356.9,136.2 357.4,133.3 357.9,129.3 357.9,131.6 358.4,128.2 358.9,126.5 359.4,125.4 359.9,122.4 360.2,122.7 360.4,120.2 360.9,119.2 361.4,108.5 361.9,106.0 362.4,103.4 362.5,104.4 362.9,101.5 363.4,98.8 363.9,98.0 364.0,98.1 364.4,102.4 364.9,103.4 365.4,109.5 365.6,112.1 365.9,114.3 366.4,116.3 366.9,120.0 367.4,127.3 367.9,125.8 367.9,126.2 368.4,130.2 368.9,131.7 369.4,132.5 369.9,132.3 370.4,134.8 370.9,136.3 371.4,135.2 371.7,138.1 371.9,135.7 372.4,134.7 372.9,135.9 373.4,135.5 373.9,136.0 374.4,135.9 374.9,136.7 375.4,137.8 375.8,137.2 376.4,137.1 376.9,135.7 377.1,135.3 377.4,136.6 377.8,137.8 378.4,137.8 378.9,137.1 379.4,135.2 379.8,136.3 380.3,136.6 380.9,137.3 381.3,135.3 381.8,135.8 382.3,136.0 382.9,135.7 383.2,133.9 383.3,135.9 383.8,133.7 384.3,134.1 384.8,135.3 385.3,134.2 385.8,135.2 386.3,135.9 386.8,135.1 387.3,135.7 387.8,133.9 387.8,134.4 388.3,133.6 388.8,133.0 389.3,137.3 389.8,132.9 390.3,135.1 390.8,132.4 391.3,133.4 391.8,132.0 392.3,130.3 392.8,134.0 392.8,131.7 393.3,132.0 393.8,134.3 394.3,131.4 394.8,132.3 395.3,133.1 395.8,133.5 396.3,129.0 396.8,133.4 397.3,135.2 397.8,134.3 398.3,133.6 398.5,133.7 398.8,133.3 399.3,134.4 399.8,132.4 400.3,133.5 400.8,134.4 401.3,133.5 401.8,132.8 402.3,131.1 402.8,131.4 403.3,132.2 403.8,131.6 404.3,131.3 404.8,128.9 405.3,132.2 405.4,130.8 405.8,130.5 406.3,132.6 406.8,131.3 407.3,131.5 407.8,132.4 408.3,131.3 408.8,131.0 409.3,131.1 409.8,132.9 410.3,132.7 410.8,130.4 411.3,134.7 411.8,133.4 412.3,132.8 412.8,133.9 413.3,133.5 413.8,134.3 413.8,133.6 414.3,133.2 414.8,135.1 415.3,134.8 415.8,135.3 416.3,135.9 416.8,135.7 417.3,137.2 417.8,135.3 418.3,134.4 418.8,134.7 419.3,135.4 419.8,138.0 420.3,135.5 420.8,138.2 421.3,137.6 421.8,135.8 422.3,139.1 422.8,137.2 423.3,137.9 423.8,138.6 424.3,139.5 424.8,138.2 425.3,139.2 425.8,137.7 426.1,137.5 426.3,140.3 426.8,139.5 427.3,139.3 427.8,140.3 428.3,140.3 428.8,139.0 429.3,139.4 429.8,141.0 430.3,139.9 430.8,138.8 431.3,140.7 431.8,140.4 432.3,137.8 432.8,138.2 433.3,141.3 433.8,141.0 434.3,139.3 434.8,140.9 435.3,140.0 435.8,140.2 436.3,139.2 436.8,142.4 437.3,142.1 437.8,141.1 438.3,138.8 438.8,140.0 439.3,141.6 439.8,139.4 440.3,139.1 440.6,140.1 440.8,140.2 441.3,139.4 441.8,138.6 442.3,139.6 442.8,139.2 443.3,139.7 443.8,140.0 444.3,140.5 444.8,139.2 445.3,139.7 445.8,139.5 446.3,138.2 446.8,138.6 447.3,138.0 447.8,140.5 448.3,138.1 448.8,139.2 449.3,139.4 449.8,139.3 450.3,136.9 450.8,137.2 451.3,138.8 451.8,139.1 452.1,137.8 452.3,138.3 452.8,135.9 453.3,139.1 453.8,139.4 454.3,137.6 454.8,137.1 455.3,136.8 455.8,136.0 456.3,134.4 456.8,136.9 457.3,137.0 457.8,138.2 458.3,135.8 458.8,134.9 459.3,136.0 459.8,134.3 460.3,135.4 460.8,133.6 461.3,134.8 461.8,136.2 462.3,135.6 462.8,136.5 463.3,136.6 463.6,134.2 463.8,133.4 464.3,132.0 464.8,134.2 465.3,134.3 465.8,135.2 466.3,132.5 466.8,133.1 467.3,134.1 467.8,132.4 468.3,132.5 468.8,135.2 469.3,132.0 469.8,132.6 470.3,133.2 470.8,133.2 471.3,130.6 471.3,130.8 471.8,130.5 472.3,134.1 472.8,133.5 473.3,131.6 473.8,134.2 474.3,133.6 474.8,135.0 475.3,130.6 475.8,131.6 476.3,132.4 476.8,132.7 477.3,133.5 477.8,133.6 478.3,132.4 478.8,134.0 478.9,131.7 479.3,133.8 479.8,134.4 480.3,131.9 480.8,133.8 481.3,133.2 481.8,134.5 482.3,136.8 482.8,133.7 483.3,136.2 483.8,133.6 484.3,136.8 484.8,137.3 485.3,135.0 485.8,135.1 486.3,135.6 486.6,137.1 486.8,134.8 487.3,137.6 487.8,136.5 488.3,137.0 488.8,136.7 489.3,135.4 489.8,137.2 490.3,135.9 490.7,135.9 491.3,138.7 491.8,138.2 492.3,137.4 492.7,137.7 493.3,136.8 493.8,139.3 494.2,136.5 494.7,136.5 495.2,137.6 495.8,139.0 496.2,137.5 496.7,138.1 497.2,136.9 497.8,137.7 498.1,136.8 498.2,138.0 498.7,136.0 499.2,140.1 499.7,138.7 500.2,137.0 500.7,139.2 501.2,136.8 501.7,138.9 502.2,137.5 502.7,138.5 503.2,138.0 503.7,137.4 504.2,137.6 504.7,137.9 505.2,135.2 505.7,137.5 506.2,138.5 506.7,136.5 507.2,136.6 507.7,136.1 508.2,135.5 508.7,138.4 509.2,136.2 509.7,136.1 510.2,137.3 510.7,137.0 511.2,140.5 511.7,137.8 512.2,135.2 512.7,139.1 513.2,137.7 513.4,136.7" fill="none" stroke="#50ff00" stroke-width="1.6" stroke-linejoin="round"/>
<polyline points="288.2,159.8 288.7,158.6 289.0,160.2 289.2,158.5 289.7,156.2 290.2,155.5 290.7,151.9 291.0,148.6 291.2,148.1 291.7,145.8 292.2,145.5 292.6,140.3 292.7,138.6 293.2,134.7 293.6,130.2 293.7,124.5 294.2,120.7 294.2,121.2 294.7,87.3 294.7,87.8 295.2,72.1 295.5,64.2 295.7,55.7 296.0,50.5 296.2,53.0 296.7,46.0 297.0,44.2 297.2,46.5 297.7,44.2 297.8,44.9 298.2,52.2 298.5,50.2 298.7,46.3 299.2,52.2 299.7,61.7 299.8,59.7 300.2,67.3 300.7,72.9 301.2,72.6 301.3,74.7 301.7,80.7 302.0,89.9 302.2,99.0 302.4,111.0 302.7,124.8 302.8,127.0 303.0,135.1 303.2,136.8 303.7,143.6 304.0,144.0 304.2,142.6 304.7,144.0 305.0,145.8 305.2,146.1 305.7,146.8 306.2,144.8 306.6,144.0 306.7,146.0 307.2,143.5 307.7,142.7 308.2,142.0 308.7,142.9 309.2,140.7 309.6,142.7 309.7,139.7 310.2,141.9 310.7,144.7 311.2,143.5 311.2,143.7 311.7,146.0 312.2,144.1 312.7,147.5 313.2,146.8 313.7,146.6 314.1,150.0 314.2,147.3 314.7,148.8 315.2,149.4 315.7,150.9 316.2,150.4 316.5,152.0 316.7,152.1 317.2,152.3 317.7,153.6 318.2,152.2 318.7,154.9 319.1,154.8 319.2,154.5 319.7,154.6 320.2,154.4 320.7,154.6 321.2,155.7 321.7,155.9 322.2,155.9 322.7,155.5 323.2,155.7 323.4,156.6 323.7,157.7 324.2,155.0 324.7,155.9 325.2,156.5 325.7,156.6 326.2,157.3 326.7,157.7 327.2,157.3 327.7,157.3 328.2,157.6 328.7,158.2 329.2,157.5 329.6,156.9 329.7,157.6 330.2,157.3 330.7,158.7 331.2,157.4 331.7,157.4 332.2,158.1 332.7,158.4 333.2,157.0 333.7,157.8 334.2,157.0 334.7,157.6 335.2,156.9 335.7,157.5 336.2,158.3 336.7,157.3 337.2,157.5 337.2,156.9 337.7,157.6 338.2,157.5 338.7,156.6 339.2,156.4 339.6,156.5 340.2,156.2 340.7,156.5 341.1,156.1 341.6,155.9 342.1,156.0 342.7,156.0 343.1,155.7 343.6,153.9 344.1,155.4 344.7,155.3 344.9,155.2 345.1,154.9 345.6,154.2 346.1,154.7 346.6,154.7 347.1,152.3 347.6,153.0 348.1,150.7 348.6,149.9 349.1,148.2 349.5,147.2 349.6,148.0 350.1,147.9 350.6,147.6 351.1,146.4 351.6,144.6 352.1,145.5 352.6,142.2 353.1,140.9 353.3,139.7 353.6,139.7 354.1,137.4 354.6,136.3 355.1,133.6 355.6,132.5 356.1,127.0 356.6,121.5 356.8,122.0 357.1,118.8 357.6,115.0 358.1,103.5 358.6,99.4 358.7,95.7 359.1,85.6 359.6,73.6 360.1,60.0 360.2,62.7 360.6,80.8 361.0,96.4 361.1,100.5 361.6,107.9 362.1,111.2 362.3,113.9 362.6,116.3 363.1,121.6 363.6,126.4 364.1,128.5 364.6,130.8 364.9,131.4 365.1,130.6 365.6,135.5 366.1,134.7 366.6,138.6 367.1,138.4 367.6,138.8 368.1,141.4 368.6,141.6 369.1,140.0 369.4,140.3 369.6,140.7 370.1,141.7 370.6,139.0 371.1,141.6 371.6,142.6 372.1,140.3 372.6,141.6 373.1,142.7 373.6,141.4 374.1,142.6 374.6,142.3 375.1,142.8 375.6,144.1 376.1,142.2 376.6,143.0 377.1,144.2 377.1,143.9 377.6,142.2 378.1,143.3 378.6,142.6 379.1,141.6 379.6,141.6 380.1,142.7 380.6,139.9 381.1,138.9 381.6,138.3 382.1,136.8 382.6,137.4 383.1,136.3 383.2,135.3 383.6,136.7 384.1,133.6 384.6,132.7 385.1,132.8 385.6,130.4 386.1,130.5 386.6,131.6 387.1,128.0 387.6,128.0 387.8,127.5 388.1,127.2 388.6,124.3 389.1,124.1 389.6,124.5 390.1,121.6 390.6,120.3 391.1,121.7 391.6,121.0 391.6,121.0 392.1,121.6 392.6,120.9 393.1,121.0 393.6,121.0 393.9,122.6 394.1,123.3 394.6,124.5 395.1,125.9 395.6,129.8 396.1,130.3 396.6,132.4 397.1,134.4 397.6,135.8 398.0,136.3 398.1,136.2 398.6,137.7 399.1,136.2 399.6,137.1 400.1,137.3 400.6,137.3 401.1,137.1 401.6,138.7 402.1,138.4 402.3,140.0 402.6,140.8 403.1,140.6 403.6,137.0 404.1,140.8 404.6,138.5 405.1,137.5 405.6,139.7 406.1,137.6 406.6,137.5 407.1,138.5 407.6,137.1 408.1,139.0 408.6,140.5 409.1,139.3 409.6,140.3 410.1,141.2 410.6,141.2 410.8,137.5 411.1,140.4 411.6,139.9 412.1,140.5 412.6,139.7 413.1,140.0 413.6,140.2 414.1,141.0 414.6,141.1 415.1,140.4 415.6,139.3 416.1,137.3 416.6,138.3 417.1,137.5 417.6,138.8 418.1,139.4 418.6,140.6 419.1,139.1 419.6,141.3 420.1,139.3 420.6,137.2 421.1,138.5 421.5,137.6 421.6,139.2 422.1,140.2 422.6,139.2 423.1,139.0 423.6,137.3 424.1,136.4 424.6,139.2 425.1,138.7 425.6,138.5 426.1,138.6 426.6,139.5 427.1,138.0 427.6,137.6 428.1,137.5 428.6,139.2 429.1,137.9 429.6,139.6 430.1,136.6 430.6,138.7 431.1,137.8 431.6,137.9 432.1,137.9 432.6,138.4 433.1,139.1 433.6,135.2 434.1,136.7 434.6,136.6 435.1,134.5 435.6,136.8 436.1,136.0 436.6,136.5 437.1,135.2 437.6,135.8 438.1,135.9 438.6,136.5 439.1,135.8 439.6,134.7 440.1,138.3 440.6,136.0 441.1,136.3 441.4,136.1 441.6,137.9 442.1,134.8 442.6,136.5 443.1,135.7 443.6,135.9 444.1,137.1 444.6,135.6 445.1,137.1 445.6,136.0 446.1,135.2 446.6,134.7 447.1,134.6 447.6,134.7 448.1,132.0 448.3,133.9 448.6,135.8 449.1,135.1 449.6,135.1 450.1,134.5 450.6,134.9 451.1,135.1 451.6,132.2 452.1,134.0 452.6,134.4 453.1,134.2 453.6,134.2 454.1,132.2 454.5,133.3 455.1,132.5 455.6,137.4 456.0,133.4 456.5,132.5 457.0,131.4 457.6,133.6 458.0,135.7 458.2,133.0 458.5,134.4 459.0,135.8 459.6,134.5 460.0,132.6 460.5,132.5 461.0,133.1 461.5,135.3 462.0,131.3 462.5,135.6 463.0,134.5 463.5,136.2 464.0,133.1 464.5,134.2 465.0,133.8 465.5,134.8 466.0,135.1 466.5,134.9 467.0,137.3 467.4,134.1 467.5,134.2 468.0,135.7 468.5,135.3 469.0,135.0 469.5,133.6 470.0,134.9 470.5,135.3 471.0,136.0 471.5,137.2 472.0,136.1 472.5,135.4 473.0,135.8 473.5,135.4 474.0,134.7 474.5,135.0 475.0,135.3 475.5,134.8 476.0,135.4 476.5,135.7 477.0,135.1 477.5,137.6 478.0,134.3 478.5,137.2 478.9,134.8 479.0,135.7 479.5,134.5 480.0,135.7 480.5,136.8 481.0,134.6 481.5,135.6 482.0,135.7 482.5,135.8 483.0,134.8 483.5,135.0 484.0,135.7 484.5,137.7 485.0,136.4 485.5,135.9 486.0,134.0 486.5,135.6 487.0,136.2 487.5,134.8 488.0,136.3 488.5,136.2 489.0,136.0 489.5,137.9 490.0,135.1 490.4,135.7 490.5,136.5 491.0,137.5 491.5,136.0 492.0,134.7 492.5,137.0 493.0,137.5 493.5,135.9 494.0,138.1 494.5,138.8 495.0,136.9 495.5,137.2 496.0,136.7 496.5,137.0 497.0,136.1 497.5,136.7 498.0,137.2 498.5,137.0 499.0,135.8 499.5,135.5 500.0,135.6 500.5,135.8 501.0,140.3 501.5,137.7 502.0,137.0 502.5,136.4 503.0,138.5 503.5,135.1 504.0,136.4 504.5,137.4 505.0,136.6 505.5,137.1 506.0,137.6 506.5,136.2 507.0,137.3 507.5,138.4 508.0,137.5 508.5,137.0 509.0,138.0 509.5,135.5 510.0,138.1 510.5,135.0 511.0,135.9 511.5,138.0 512.0,136.8 512.5,135.7 513.0,137.2 513.4,138.3" fill="none" stroke="#0028fa" stroke-width="1.6" stroke-linejoin="round"/>
</g>
<clipPath id="cpC"><rect x="35.30" y="178.30" width="230.20" height="154.20"/></clipPath>
<g clip-path="url(#cpC)">
<polyline points="37.6,332.5 38.1,332.1 38.6,332.5 39.1,332.2 39.6,332.1 40.1,332.0 40.6,331.9 41.1,331.6 41.6,331.0 42.1,330.9 42.2,331.2 42.6,330.3 43.1,330.4 43.6,329.3 44.1,328.6 44.5,327.6 44.6,327.6 45.1,326.0 45.6,324.7 45.8,323.7 46.1,322.6 46.6,319.6 47.1,318.0 47.5,315.0 47.6,314.6 48.1,310.3 48.6,306.5 49.0,304.6 49.1,305.7 49.6,307.9 50.0,309.0 50.1,310.4 50.6,310.1 51.1,311.9 51.4,312.3 51.6,312.8 52.1,313.9 52.6,315.5 53.1,316.8 53.6,317.9 54.1,318.6 54.6,319.7 54.6,319.6 55.1,320.9 55.6,322.2 56.1,323.6 56.6,323.7 57.1,324.5 57.6,325.6 58.1,325.9 58.3,325.9 58.6,326.6 59.1,326.8 59.6,327.4 60.1,328.3 60.6,328.3 61.1,328.6 61.6,328.7 62.1,329.3 62.6,329.4 62.9,329.6 63.1,329.5 63.6,329.6 64.1,329.5 64.6,329.6 65.1,330.0 65.6,330.0 66.1,330.1 66.6,330.3 67.1,330.0 67.6,331.0 68.1,330.6 68.6,330.5 69.1,330.4 69.6,331.0 70.1,330.7 70.6,330.6 71.1,331.0 71.6,331.3 72.1,331.0 72.1,331.2 72.6,330.8 73.1,331.2 73.6,330.6 74.1,331.0 74.6,331.3 75.1,331.3 75.6,331.4 76.1,331.1 76.6,331.0 77.1,331.3 77.6,331.1 78.1,331.5 78.6,331.3 79.1,330.9 79.6,331.7 80.1,331.2 80.6,331.2 81.1,331.9 81.6,331.8 82.1,331.7 82.6,331.3 83.1,331.7 83.6,331.7 84.1,331.4 84.6,331.6 85.1,331.6 85.6,331.7 86.1,331.4 86.6,331.8 87.1,331.3 87.6,331.7 88.1,331.9 88.6,331.6 89.1,331.7 89.6,332.1 90.1,331.7 90.5,332.0 90.6,331.9 91.1,331.6 91.6,331.9 92.2,331.7 92.7,331.7 93.1,331.3 93.7,331.7 94.2,331.8 94.7,331.8 95.2,331.7 95.7,331.5 96.2,331.4 96.7,331.2 97.2,331.3 97.7,331.3 98.2,331.1 98.7,331.1 99.2,331.0 99.7,330.8 99.8,330.8 100.2,331.0 100.7,330.9 101.2,330.2 101.7,329.3 102.2,329.3 102.7,328.0 103.2,326.9 103.7,326.3 104.2,325.5 104.4,324.3 104.7,323.7 105.2,322.8 105.7,320.5 106.2,318.7 106.7,317.9 107.2,314.5 107.7,314.5 108.0,313.3 108.2,313.5 108.7,311.8 109.2,311.4 109.7,309.7 110.2,308.4 110.7,308.4 110.8,308.7 111.2,307.8 111.7,309.5 112.2,309.1 112.7,310.4 113.2,311.0 113.7,311.9 114.2,312.7 114.5,313.2 114.7,313.8 115.2,314.5 115.7,314.8 116.2,315.8 116.7,317.0 117.2,317.6 117.7,318.2 118.2,318.6 118.2,318.5 118.7,319.2 119.2,319.9 119.7,320.2 120.2,321.2 120.7,322.2 121.2,321.6 121.7,322.6 122.2,322.8 122.7,323.3 123.2,323.1 123.7,324.1 124.2,324.0 124.7,324.6 125.1,325.2 125.2,325.3 125.7,325.1 126.2,325.6 126.7,325.8 127.2,325.9 127.7,326.7 128.2,327.1 128.7,327.6 129.2,327.9 129.7,328.3 130.2,328.7 130.7,328.3 131.2,329.5 131.7,329.3 132.0,329.3 132.2,329.4 132.7,329.9 133.2,329.9 133.7,330.1 134.2,330.4 134.7,330.3 135.2,330.6 135.7,330.8 136.2,330.6 136.7,331.2 137.2,331.0 137.7,331.3 138.2,331.3 138.7,331.4 139.2,331.5 139.7,331.8 140.2,331.8 140.7,331.9 141.2,331.7 141.2,331.6 141.7,331.5 142.2,331.9 142.7,331.8 143.2,332.2 143.7,332.3 144.2,332.0 144.7,332.0 145.2,332.2 145.7,332.3 146.2,331.9 146.7,332.1 147.2,332.3 147.7,331.6 148.2,332.0 148.7,332.1 149.2,331.9 149.7,332.2 150.2,331.7 150.7,332.3 151.2,332.3 151.7,332.1 152.2,332.3 152.7,331.8 153.2,332.4 153.7,332.3 154.2,332.0 154.7,332.0 155.0,331.9 155.2,332.0 155.7,331.5 156.2,331.7 156.7,331.1 157.2,330.3 157.7,330.0 158.2,329.3 158.7,328.6 159.2,328.0 159.7,327.5 160.2,326.7 160.7,326.6 161.2,325.6 161.7,326.0 161.9,324.9 162.2,325.1 162.7,325.3 163.2,325.6 163.7,325.7 164.2,325.2 164.7,325.5 165.2,325.4 165.7,325.8 166.2,325.3 166.7,325.8 167.2,325.6 167.4,326.1 167.7,325.8 168.2,325.9 168.7,326.7 169.2,327.4 169.7,327.8 170.2,328.7 170.7,328.9 171.1,330.0 171.2,329.3 171.7,329.5 172.2,330.1 172.7,330.1 173.2,329.7 173.7,330.3 174.2,330.3 174.7,330.0 175.2,330.3 175.7,330.1 175.7,330.4 176.2,330.0 176.7,329.3 177.2,328.8 177.7,328.8 178.2,327.4 178.7,327.2 178.9,327.3 179.2,326.6 179.7,327.4 180.2,326.3 180.7,326.9 181.2,326.2 181.7,326.6 182.2,326.9 182.7,326.4 183.2,326.3 183.7,326.3 184.2,326.0 184.7,326.6 184.9,326.2 185.2,326.2 185.7,326.5 186.2,326.7 186.7,326.8 187.2,326.3 187.7,326.4 188.2,326.9 188.2,327.1 188.7,326.6 189.2,327.5 189.7,327.2 190.2,327.6 190.7,328.2 191.2,328.0 191.7,328.3 192.2,328.1 192.7,328.2 193.2,329.0 193.7,329.0 194.1,329.2 194.2,329.6 194.7,329.9 195.2,329.6 195.7,330.3 196.2,330.4 196.7,330.8 197.2,331.0 197.7,331.3 198.2,331.3 198.7,331.3 199.2,331.9 199.7,332.2 200.2,332.0 200.7,332.4 201.0,332.3 201.2,331.9 201.7,331.7 202.2,332.0 202.7,332.3 203.2,332.0 203.7,332.5 204.2,332.3 204.7,331.9 205.2,332.0 205.7,332.4 206.2,332.5 206.7,332.0 207.3,332.2 207.8,332.3 208.2,332.1 208.8,332.3 209.3,332.5 209.8,332.0 210.3,332.3 210.8,332.3 211.3,332.4 211.8,332.1 212.3,332.3 212.8,332.0 213.3,332.3 213.8,332.0 214.3,332.3 214.8,332.3 215.3,332.5 215.8,332.4 216.3,332.0 216.8,331.6 217.3,332.4 217.8,332.4 218.3,332.1 218.8,332.1 219.3,332.3 219.8,332.2 220.3,332.5 220.8,332.3 221.3,332.0 221.8,331.9 222.3,332.3 222.8,332.3 223.3,332.1 223.8,332.0 224.3,332.1 224.8,332.3 225.3,332.2 225.8,332.0 226.3,332.3 226.8,332.5 227.3,332.1 227.8,332.2 228.3,332.0 228.8,332.2 229.3,332.3 229.8,332.3 230.3,332.4 230.8,332.4 231.3,332.3 231.8,332.3 232.3,332.0 232.8,332.5 233.3,332.3 233.8,332.3 234.3,332.0 234.8,332.2 235.3,332.3 235.8,332.1 236.3,332.3 236.8,332.3 237.3,332.0 237.8,332.1 238.3,332.0 238.8,332.0 239.3,332.1 239.8,332.3 240.3,332.5 240.8,332.1 241.3,332.3 241.8,332.1 242.3,332.3 242.8,332.4 243.3,332.5 243.8,332.1 244.3,332.0 244.8,332.3 245.3,332.2 245.8,332.0 246.3,332.4 246.8,332.3 247.3,332.5 247.8,332.0 248.3,332.2 248.8,332.3 249.3,332.5 249.8,332.3 250.3,332.1 250.8,332.3 251.3,332.3 251.8,332.1 252.3,332.5 252.8,332.3 253.3,332.2 253.8,332.4 254.3,332.4 254.8,332.2 255.3,332.3 255.8,332.3 256.3,332.3 256.8,332.3 257.3,332.4 257.8,332.4 258.3,332.2 258.8,332.0 259.3,332.0 259.8,332.4 260.3,332.0 260.8,332.1 261.3,332.3 261.8,332.2 262.3,332.1 262.8,332.0 263.3,332.5 263.8,332.2 264.3,332.3 264.8,332.3 265.3,332.0 265.5,332.1" fill="none" stroke="#3a1ee6" stroke-width="1.6" stroke-linejoin="round"/>
<polyline points="37.6,332.5 38.1,332.5 38.6,332.4 39.1,332.5 39.6,332.2 40.1,332.3 40.6,332.1 41.1,332.0 41.6,331.6 42.1,331.8 42.6,331.7 43.1,331.1 43.6,331.4 44.1,331.2 44.5,331.3 44.6,330.7 45.1,330.6 45.6,330.3 46.1,330.0 46.6,329.6 47.1,329.3 47.6,328.7 48.1,327.9 48.2,327.9 48.6,326.8 49.1,326.4 49.6,325.3 50.1,325.1 50.1,324.4 50.6,325.4 51.1,325.3 51.6,325.7 51.9,326.4 52.1,326.3 52.6,327.6 53.1,327.5 53.6,328.3 54.1,328.2 54.6,328.6 55.1,329.2 55.6,329.0 56.0,329.3 56.1,329.6 56.6,329.7 57.1,330.1 57.6,330.0 58.1,329.6 58.6,330.4 59.1,330.3 59.6,330.6 60.1,330.4 60.6,330.6 61.1,330.8 61.6,331.2 62.1,331.0 62.6,330.6 62.9,331.0 63.1,330.9 63.6,331.1 64.1,331.4 64.6,331.0 65.1,331.0 65.6,331.3 66.1,331.3 66.6,331.2 67.1,331.4 67.6,331.2 68.1,331.3 68.6,331.8 69.1,331.4 69.6,331.5 70.1,331.6 70.6,331.3 71.1,331.6 71.6,331.4 72.1,331.3 72.6,331.5 73.1,331.9 73.6,331.7 74.1,331.4 74.6,331.7 75.1,331.8 75.6,331.7 76.1,331.6 76.6,331.7 77.1,331.6 77.6,331.9 78.1,331.7 78.6,331.7 79.1,331.7 79.6,332.1 80.1,331.8 80.6,332.0 81.1,331.4 81.3,331.4 81.6,331.4 82.1,331.6 82.6,331.8 83.1,331.5 83.6,331.7 84.1,331.6 84.6,331.8 85.1,331.7 85.6,331.5 86.1,331.1 86.6,331.5 87.1,331.0 87.6,330.7 88.1,331.5 88.6,331.2 89.1,331.3 89.6,331.0 90.1,331.0 90.6,330.8 91.1,330.4 91.6,330.3 92.2,330.3 92.7,330.3 92.8,330.2 93.1,330.0 93.7,329.1 94.2,328.0 94.7,326.3 95.2,325.0 95.7,322.4 96.1,320.3 96.2,320.5 96.7,318.2 97.2,313.2 97.7,309.8 98.2,307.4 98.7,302.7 98.8,301.3 99.2,300.0 99.7,297.3 100.2,296.0 100.7,295.1 101.1,296.2 101.2,295.6 101.7,296.1 102.2,299.2 102.7,304.1 103.0,305.9 103.2,306.3 103.7,310.4 104.2,313.2 104.7,314.9 105.2,316.6 105.3,317.3 105.7,318.9 106.2,319.1 106.7,320.5 107.2,320.7 107.7,321.7 108.2,322.2 108.7,322.7 109.0,323.4 109.2,323.2 109.7,323.6 110.2,324.4 110.7,324.6 111.2,325.6 111.7,325.6 112.2,326.2 112.7,326.9 113.2,326.9 113.6,327.3 113.7,327.3 114.2,327.4 114.7,327.3 115.2,328.0 115.7,328.0 116.2,328.6 116.7,328.5 117.2,328.4 117.7,328.6 118.2,328.9 118.7,329.3 119.2,329.6 119.7,329.5 120.2,330.0 120.7,330.0 121.2,329.6 121.7,330.2 122.2,329.6 122.7,330.5 122.8,330.1 123.2,330.5 123.7,330.3 124.2,330.6 124.7,330.5 125.2,330.6 125.7,330.8 126.2,330.6 126.7,330.5 127.2,331.0 127.7,330.8 128.2,331.0 128.7,331.1 129.2,330.7 129.7,331.7 130.2,331.5 130.7,331.7 131.2,331.5 131.7,331.5 132.2,330.7 132.7,331.5 133.2,331.3 133.7,331.3 134.2,331.7 134.7,331.6 135.2,331.3 135.7,331.7 136.2,331.7 136.6,331.7 136.7,332.0 137.2,331.9 137.7,331.7 138.2,331.7 138.7,331.9 139.2,331.8 139.7,331.7 140.2,331.7 140.7,331.6 141.2,331.7 141.7,331.7 142.2,332.0 142.7,332.0 143.2,331.7 143.7,332.0 144.2,331.7 144.7,331.9 145.2,331.9 145.7,331.6 146.2,331.9 146.7,331.9 147.2,331.9 147.7,331.7 148.2,331.2 148.7,332.2 149.2,331.7 149.7,331.8 150.2,331.6 150.7,331.8 151.2,332.3 151.7,331.5 152.2,332.0 152.7,331.7 153.2,332.0 153.7,332.0 154.2,331.8 154.7,331.6 155.0,331.6 155.2,331.9 155.7,331.6 156.2,331.7 156.7,331.5 157.2,331.3 157.7,331.1 158.2,331.2 158.7,331.0 159.2,330.6 159.7,330.5 160.2,330.5 160.7,329.8 161.2,330.1 161.7,329.6 162.2,329.6 162.7,329.3 163.2,330.0 163.7,329.0 164.2,329.5 164.2,329.7 164.7,329.4 165.2,329.0 165.7,329.4 166.2,329.9 166.7,329.7 167.2,329.4 167.7,330.1 168.2,330.0 168.7,330.1 169.2,329.6 169.7,330.3 170.2,330.0 170.7,330.6 171.2,330.7 171.7,330.4 172.2,330.6 172.7,331.2 173.2,330.8 173.4,330.8 173.7,331.1 174.2,331.0 174.7,331.1 175.2,331.3 175.7,331.4 176.2,331.6 176.7,331.6 177.2,331.9 177.7,331.7 178.2,332.0 178.7,331.8 179.2,331.9 179.7,332.1 180.2,331.8 180.7,331.7 181.2,331.8 181.7,332.3 182.2,331.9 182.6,332.1 182.7,332.1 183.2,332.3 183.7,332.1 184.2,331.9 184.7,332.0 185.2,332.2 185.7,332.3 186.2,332.2 186.7,332.0 187.2,331.8 187.7,332.3 188.2,332.1 188.7,332.2 189.2,332.3 189.7,332.0 190.2,332.0 190.7,332.4 191.2,332.3 191.7,332.0 192.2,332.1 192.7,332.0 193.2,332.3 193.7,332.3 194.2,332.1 194.7,332.3 195.2,332.4 195.7,332.2 196.2,332.0 196.7,332.3 197.2,332.0 197.7,332.0 198.2,332.3 198.7,332.2 199.2,332.2 199.7,332.0 200.2,332.0 200.7,332.4 201.2,332.4 201.7,332.0 202.2,332.2 202.7,332.1 203.2,332.1 203.7,331.9 204.2,332.4 204.7,332.0 205.2,332.3 205.7,332.0 206.2,332.0 206.7,332.5 207.3,332.1 207.8,332.3 208.2,332.3 208.8,332.2 209.3,332.4 209.8,332.4 210.3,332.1 210.8,332.0 211.3,332.3 211.8,332.5 212.3,331.8 212.8,332.0 213.3,332.2 213.8,332.4 214.3,332.3 214.8,332.2 215.3,332.4 215.8,332.0 216.3,332.2 216.8,332.2 217.3,332.4 217.8,332.4 218.3,332.4 218.8,332.2 219.3,332.3 219.8,332.3 220.3,332.2 220.8,332.2 221.3,332.0 221.8,332.3 222.3,332.4 222.8,332.3 223.3,332.0 223.8,332.3 224.3,332.3 224.8,332.3 225.3,332.2 225.8,332.2 226.3,332.4 226.8,332.3 227.3,332.0 227.8,332.0 228.3,332.1 228.8,332.1 229.3,332.3 229.8,332.3 230.3,332.1 230.8,332.5 231.3,332.3 231.8,332.5 232.3,332.3 232.8,332.4 233.3,332.5 233.8,332.1 234.3,332.4 234.8,332.3 235.3,332.3 235.8,332.4 236.3,332.0 236.8,332.3 237.3,332.2 237.8,332.5 238.3,332.3 238.8,332.3 239.3,332.3 239.8,332.3 240.3,332.3 240.8,332.0 241.3,332.3 241.8,332.3 242.3,332.3 242.8,331.8 243.3,332.0 243.8,332.2 244.3,332.1 244.8,332.4 245.3,332.3 245.8,332.2 246.3,332.3 246.8,332.4 247.3,332.4 247.8,332.2 248.3,332.2 248.8,332.5 249.3,332.3 249.8,332.0 250.3,332.4 250.8,332.2 251.3,332.5 251.8,332.1 252.3,332.5 252.8,332.5 253.3,332.3 253.8,331.8 254.3,332.4 254.8,332.5 255.3,332.2 255.8,332.2 256.3,332.0 256.8,332.5 257.3,332.5 257.8,332.3 258.3,332.2 258.8,332.2 259.3,332.0 259.8,332.5 260.3,332.4 260.8,332.3 261.3,332.1 261.8,332.2 262.3,332.3 262.8,332.5 263.3,332.1 263.8,332.1 264.3,331.7 264.8,332.3 265.3,332.0 265.5,332.5" fill="none" stroke="#aa1cf0" stroke-width="1.6" stroke-linejoin="round"/>
<polyline points="37.6,332.5 38.1,332.5 38.6,332.5 39.1,332.5 39.6,332.3 40.1,332.2 40.6,332.2 41.1,331.8 41.6,331.9 42.1,331.7 42.2,331.4 42.6,331.6 43.1,331.5 43.6,331.4 44.1,331.3 44.6,331.0 45.1,331.1 45.6,330.5 46.1,330.2 46.6,330.0 46.8,330.3 47.1,330.3 47.6,329.6 48.1,329.0 48.6,328.2 49.1,328.0 49.1,328.0 49.6,326.9 50.1,326.9 50.6,325.7 51.1,325.2 51.6,325.4 52.1,324.7 52.2,324.9 52.6,325.2 53.1,325.6 53.6,325.9 54.1,325.8 54.6,326.4 54.6,326.3 55.1,327.1 55.6,327.5 56.1,328.1 56.6,329.1 57.1,329.7 57.6,329.7 58.1,330.1 58.3,330.4 58.6,330.3 59.1,330.2 59.6,330.0 60.1,330.6 60.6,330.4 61.1,330.1 61.6,330.6 62.1,330.4 62.6,331.3 63.1,330.5 63.6,330.8 64.1,331.3 64.6,330.7 65.1,330.7 65.6,330.6 66.1,330.7 66.6,331.0 67.1,331.1 67.5,331.0 67.6,331.0 68.1,330.9 68.6,331.0 69.1,331.0 69.6,330.7 70.1,330.9 70.6,330.4 71.1,330.4 71.6,331.1 72.1,331.0 72.6,331.1 73.1,331.0 73.6,330.6 74.1,330.9 74.6,330.9 75.1,330.6 75.6,330.4 76.1,330.6 76.6,330.6 77.1,330.2 77.6,330.3 78.1,330.2 78.6,330.0 79.1,330.4 79.6,330.1 80.1,330.2 80.6,329.8 81.1,329.8 81.6,330.1 82.1,329.5 82.6,330.0 83.1,329.4 83.6,329.6 84.1,329.7 84.6,329.7 85.0,329.5 85.1,329.4 85.6,329.5 86.1,329.1 86.6,329.5 87.1,329.0 87.6,328.9 88.1,329.2 88.2,328.6 88.6,328.7 89.1,328.6 89.6,327.6 90.1,326.9 90.5,326.1 90.6,326.3 91.1,324.9 91.6,323.9 92.2,322.7 92.3,322.0 92.7,321.1 93.1,318.5 93.7,314.2 94.2,310.1 94.3,309.3 94.7,306.7 95.2,302.6 95.7,296.3 96.2,293.9 96.3,295.0 96.7,293.9 97.2,293.8 97.7,294.0 98.2,293.8 98.4,293.8 98.7,295.6 99.2,297.7 99.7,300.7 99.8,301.1 100.2,303.3 100.7,308.6 101.2,310.9 101.7,313.7 102.2,316.0 102.3,316.4 102.7,318.9 103.2,320.4 103.7,322.2 104.2,322.9 104.7,324.6 105.0,324.4 105.2,324.7 105.7,325.6 106.2,326.9 106.7,327.1 107.2,327.2 107.7,328.2 108.2,328.3 108.7,328.5 109.0,328.4 109.2,328.6 109.7,329.0 110.2,329.3 110.7,329.4 111.2,329.6 111.7,329.6 112.2,329.9 112.7,329.7 113.2,330.5 113.6,330.0 113.7,330.3 114.2,330.1 114.7,330.4 115.2,330.3 115.7,330.3 116.2,330.8 116.7,330.7 117.2,330.9 117.7,330.9 118.2,331.3 118.2,331.0 118.7,331.1 119.2,331.3 119.7,331.2 120.2,331.5 120.7,331.0 121.2,331.2 121.7,331.0 122.2,331.6 122.7,331.7 123.2,331.4 123.7,331.9 124.2,331.5 124.7,331.7 125.2,331.7 125.7,331.6 126.2,331.7 126.7,331.3 127.2,331.6 127.4,332.0 127.7,331.6 128.2,332.0 128.7,331.8 129.2,332.0 129.7,332.0 130.2,331.6 130.7,332.0 131.2,332.0 131.7,332.0 132.2,332.0 132.7,331.7 133.2,332.2 133.7,332.2 134.2,331.9 134.7,332.3 135.2,332.0 135.7,331.8 136.2,332.0 136.7,332.1 137.2,332.2 137.7,332.3 138.2,332.2 138.7,332.0 139.2,331.8 139.7,331.9 140.2,332.2 140.7,332.3 141.2,332.0 141.7,332.5 142.2,332.2 142.7,332.2 143.2,332.3 143.5,332.3 143.7,332.0 144.2,332.3 144.7,332.0 145.2,331.8 145.7,331.4 146.2,331.4 146.7,330.6 147.2,330.6 147.2,330.6 147.7,330.2 148.2,329.8 148.7,329.3 149.2,328.3 149.7,328.0 150.2,327.5 150.4,327.0 150.7,327.2 151.2,326.3 151.7,326.0 152.2,325.8 152.7,324.9 153.2,325.3 153.2,324.6 153.7,324.7 154.2,324.0 154.7,323.4 155.2,323.4 155.7,323.6 156.2,323.3 156.4,323.4 156.7,323.7 157.2,324.0 157.7,324.0 158.2,324.3 158.7,325.3 158.7,324.9 159.2,324.9 159.7,325.2 160.2,325.7 160.7,325.3 161.0,326.1 161.2,325.6 161.7,325.7 162.2,327.0 162.7,326.7 163.2,327.1 163.7,327.5 164.2,328.1 164.2,328.0 164.7,328.6 165.2,328.6 165.7,329.0 166.2,329.5 166.5,329.6 166.7,329.6 167.2,329.6 167.7,329.6 168.2,329.7 168.7,329.8 169.2,330.1 169.7,330.5 170.2,329.8 170.7,329.6 171.2,330.3 171.7,330.2 172.2,330.0 172.7,329.9 173.2,330.0 173.4,330.0 173.7,330.3 174.2,330.3 174.7,330.3 175.2,330.6 175.7,330.3 176.2,330.5 176.7,330.6 177.2,331.0 177.7,330.7 178.0,331.2 178.2,331.0 178.7,331.7 179.2,331.4 179.7,331.1 180.2,331.5 180.7,331.4 181.2,331.9 181.7,331.3 182.2,331.6 182.6,331.7 182.7,331.7 183.2,331.7 183.7,331.6 184.2,331.8 184.7,332.2 185.2,332.0 185.7,331.7 186.2,331.9 186.7,332.1 187.2,331.9 187.7,332.0 188.2,332.0 188.7,332.4 189.2,332.3 189.7,332.0 190.2,332.2 190.7,332.0 191.2,331.7 191.7,332.2 191.8,332.1 192.2,332.3 192.7,332.3 193.2,332.1 193.7,332.3 194.2,332.4 194.7,331.7 195.2,331.9 195.7,331.6 196.2,331.7 196.7,331.6 197.2,331.4 197.7,331.3 198.2,331.6 198.7,331.0 199.2,331.3 199.7,331.0 200.2,330.3 200.7,330.7 201.2,330.3 201.7,330.6 202.2,330.3 202.7,330.3 202.9,330.1 203.2,330.3 203.7,330.1 204.2,329.6 204.7,329.9 205.2,329.4 205.7,328.9 206.2,329.0 206.7,328.8 207.3,328.7 207.8,328.3 207.9,328.4 208.2,328.2 208.8,328.3 209.3,327.7 209.8,328.3 210.3,328.6 210.8,328.0 211.3,328.0 211.8,328.0 212.3,328.3 212.8,327.6 213.3,328.0 213.8,328.0 214.3,328.3 214.8,327.8 214.9,328.0 215.3,327.6 215.8,328.1 216.3,328.4 216.8,328.3 217.3,328.7 217.8,328.6 218.3,329.2 218.8,329.2 219.3,329.4 219.5,329.4 219.8,329.6 220.3,330.0 220.8,330.0 221.3,330.4 221.8,330.5 222.3,330.8 222.8,331.4 223.3,331.2 223.8,331.0 224.1,331.3 224.3,331.3 224.8,331.3 225.3,331.7 225.8,331.9 226.3,331.5 226.8,331.5 227.3,331.7 227.8,331.7 228.3,331.8 228.8,332.0 229.3,331.9 229.8,332.0 230.3,332.0 230.8,332.3 231.3,332.2 231.8,332.0 232.3,332.2 232.8,332.5 233.3,332.1 233.3,332.5 233.8,331.7 234.3,332.0 234.8,332.0 235.3,332.3 235.8,332.3 236.3,332.2 236.8,332.1 237.3,332.3 237.8,332.1 238.3,332.0 238.8,332.0 239.3,332.3 239.8,332.5 240.3,332.1 240.8,332.3 241.3,332.0 241.8,331.8 242.3,331.8 242.8,332.1 243.3,331.9 243.8,331.8 244.3,332.1 244.8,332.1 245.3,332.0 245.8,332.1 246.3,332.2 246.8,332.3 247.3,332.1 247.8,332.3 248.3,332.0 248.8,332.2 249.3,331.9 249.8,331.9 250.3,332.3 250.8,332.0 251.3,332.2 251.8,331.9 252.3,332.0 252.8,332.1 253.3,332.0 253.8,332.3 254.3,332.0 254.8,332.0 255.3,332.2 255.8,332.0 256.3,332.3 256.8,332.0 257.3,332.3 257.8,332.0 258.3,332.0 258.8,332.0 259.3,332.3 259.8,331.6 260.3,332.2 260.8,332.1 261.3,332.3 261.8,331.9 262.3,332.2 262.8,332.0 263.3,332.3 263.8,332.0 264.3,332.2 264.8,332.0 265.3,332.2 265.5,332.3" fill="none" stroke="#e6003c" stroke-width="1.6" stroke-linejoin="round"/>
<polyline points="37.6,331.7 38.1,331.7 38.6,330.6 39.1,328.9 39.6,327.9 39.9,326.2 40.1,325.6 40.6,322.6 41.1,318.3 41.3,316.8 41.6,315.2 42.1,311.6 42.5,308.2 42.6,307.2 43.1,303.4 43.6,299.2 44.1,294.3 44.6,288.5 44.7,286.5 45.1,281.3 45.6,274.4 46.1,265.5 46.2,265.8 46.6,259.8 46.8,255.9 47.1,243.0 47.5,235.7 47.6,229.5 48.1,220.9 48.2,220.6 48.5,217.9 48.6,217.9 48.9,223.3 49.1,232.3 49.3,239.3 49.6,255.9 49.6,256.2 50.1,263.7 50.6,269.0 51.1,270.7 51.6,273.1 51.8,275.2 52.1,279.5 52.6,286.6 53.1,289.2 53.3,290.9 53.6,294.4 54.1,298.6 54.6,301.4 55.1,305.4 55.4,305.8 55.6,307.7 56.1,309.4 56.6,310.5 57.1,312.6 57.6,313.2 58.1,314.1 58.6,315.9 58.7,315.2 59.1,316.6 59.6,317.1 60.1,318.1 60.6,319.2 61.1,319.9 61.6,321.0 62.0,321.2 62.1,321.4 62.6,321.2 63.1,322.1 63.6,323.5 64.1,323.4 64.6,324.2 65.1,324.8 65.2,324.6 65.6,324.9 66.1,325.7 66.6,325.9 67.1,326.2 67.6,326.8 68.1,326.9 68.6,327.2 69.1,327.6 69.6,328.0 69.8,327.8 70.1,327.9 70.6,328.3 71.1,328.9 71.6,328.8 72.1,329.2 72.6,329.3 73.1,329.5 73.6,330.1 74.1,330.1 74.4,330.3 74.6,330.4 75.1,330.0 75.6,330.3 76.1,331.0 76.6,330.6 77.1,330.9 77.6,330.6 78.1,331.0 78.6,331.1 79.1,331.1 79.6,331.1 80.1,331.3 80.6,331.4 81.1,331.4 81.6,331.3 82.1,331.7 82.6,331.6 83.1,331.7 83.6,331.7 84.1,331.6 84.6,332.0 85.1,331.8 85.6,331.9 85.9,331.7 86.1,331.8 86.6,331.7 87.1,331.7 87.6,332.0 88.1,331.7 88.6,331.9 89.1,331.7 89.6,331.7 90.1,331.5 90.6,331.5 91.1,331.3 91.6,331.6 92.2,331.7 92.7,331.7 93.1,331.4 93.7,331.3 94.2,331.4 94.7,331.6 95.2,331.4 95.7,331.3 96.2,331.3 96.7,331.5 97.2,331.8 97.7,331.3 98.2,331.0 98.7,331.0 99.2,331.5 99.7,331.0 99.8,331.3 100.2,330.2 100.7,329.4 101.2,328.2 101.7,325.9 102.1,325.0 102.2,324.3 102.7,322.7 103.2,321.1 103.7,318.3 104.2,317.1 104.7,314.2 105.2,313.5 105.3,313.7 105.7,313.4 106.2,310.9 106.7,310.2 107.2,310.8 107.7,308.9 108.2,309.4 108.5,309.4 108.7,309.4 109.2,309.5 109.7,308.7 110.2,309.3 110.7,310.3 110.8,308.3 111.2,309.1 111.7,310.6 112.2,311.1 112.7,312.4 113.2,313.0 113.7,314.0 114.2,315.0 114.5,315.8 114.7,316.1 115.2,316.0 115.7,317.0 116.2,316.6 116.7,318.4 117.2,318.2 117.7,319.0 118.2,319.8 118.7,319.5 119.2,320.2 119.7,321.0 120.0,321.0 120.2,320.7 120.7,321.8 121.2,321.2 121.7,321.8 122.2,322.4 122.7,322.2 123.2,322.3 123.7,322.9 124.2,323.3 124.7,323.0 125.2,323.4 125.7,324.3 126.2,324.3 126.7,324.6 127.2,324.9 127.7,325.3 128.2,324.9 128.7,325.3 129.2,325.5 129.2,325.2 129.7,325.9 130.2,325.9 130.7,326.0 131.2,326.4 131.7,326.5 132.2,326.4 132.7,326.7 133.2,326.6 133.7,327.3 134.2,327.2 134.7,327.7 135.2,327.6 135.7,327.9 136.1,327.6 136.2,327.7 136.7,328.0 137.2,327.9 137.7,328.3 138.2,328.7 138.7,329.3 139.2,329.7 139.7,329.6 140.2,330.0 140.7,330.2 141.2,330.3 141.2,330.6 141.7,330.0 142.2,330.6 142.7,330.7 143.2,330.6 143.7,331.1 144.2,330.7 144.7,330.8 145.2,331.2 145.7,331.4 146.2,331.4 146.7,331.8 147.2,331.2 147.7,331.6 148.2,331.7 148.7,331.8 149.2,331.6 149.7,331.4 150.2,332.0 150.4,331.8 150.7,332.0 151.2,331.6 151.7,331.7 152.2,331.3 152.7,331.7 153.2,331.8 153.7,331.9 154.2,331.6 154.7,332.0 155.2,331.6 155.7,331.7 156.2,331.8 156.7,331.9 157.2,331.5 157.7,331.3 158.2,331.8 158.7,331.7 159.2,331.4 159.6,331.9 159.7,331.8 160.2,332.0 160.7,331.7 161.2,331.7 161.7,331.8 162.2,331.8 162.7,332.0 163.2,331.9 163.7,331.7 164.2,331.4 164.7,331.6 165.2,331.6 165.7,331.3 166.2,331.2 166.7,331.4 167.2,331.3 167.7,331.0 168.2,331.0 168.7,331.1 168.8,330.9 169.2,330.9 169.7,330.3 170.2,330.4 170.7,329.7 171.2,329.4 171.7,329.3 172.2,328.6 172.5,328.4 172.7,328.9 173.2,327.8 173.7,328.3 174.2,328.1 174.7,327.8 175.2,327.3 175.7,327.3 175.7,327.5 176.2,327.1 176.7,327.3 177.2,327.0 177.7,326.6 178.2,327.3 178.7,328.0 179.2,327.4 179.7,327.6 180.2,327.3 180.7,327.3 181.2,327.6 181.7,327.6 182.2,327.3 182.6,327.3 182.7,328.0 183.2,327.0 183.7,327.3 184.2,327.3 184.7,327.2 185.2,327.6 185.7,327.3 186.2,327.0 186.7,327.0 187.2,327.2 187.7,327.4 188.2,327.6 188.7,327.0 189.2,327.3 189.7,327.5 190.2,328.0 190.7,327.6 191.2,328.0 191.7,327.2 191.8,327.4 192.2,327.7 192.7,327.6 193.2,326.9 193.7,327.4 194.2,328.2 194.7,328.0 195.2,328.4 195.7,328.6 196.2,328.3 196.7,328.0 197.2,328.3 197.7,328.9 198.2,329.1 198.3,329.0 198.7,329.0 199.2,329.8 199.7,330.1 200.2,329.6 200.7,330.2 201.2,330.2 201.7,330.8 202.2,330.7 202.7,331.3 203.2,331.3 203.3,331.0 203.7,331.2 204.2,331.5 204.7,331.3 205.2,331.7 205.7,331.9 206.2,331.5 206.7,331.3 207.3,331.5 207.8,332.0 208.2,331.5 208.8,331.6 209.3,331.8 209.8,332.2 210.3,331.5 210.3,331.6 210.8,331.6 211.3,332.0 211.8,331.9 212.3,331.3 212.8,331.2 213.3,331.1 213.8,331.1 214.3,330.8 214.8,330.9 215.3,330.6 215.8,330.6 216.3,330.2 216.8,330.2 217.3,329.6 217.8,329.6 218.3,329.8 218.8,329.1 219.3,329.7 219.5,329.3 219.8,329.1 220.3,329.0 220.8,329.8 221.3,329.0 221.8,328.9 222.3,328.7 222.8,329.6 223.3,329.2 223.8,329.0 224.3,329.0 224.8,328.6 225.3,329.0 225.8,328.5 226.3,328.6 226.8,329.1 227.3,329.0 227.8,328.8 228.3,328.6 228.8,328.4 229.3,328.7 229.6,328.4 229.8,329.0 230.3,329.5 230.8,328.9 231.3,328.8 231.8,329.1 232.3,329.4 232.8,329.2 233.3,329.0 233.3,329.4 233.8,329.7 234.3,329.8 234.8,329.3 235.3,329.9 235.8,329.8 236.3,329.7 236.8,329.9 237.3,330.3 237.8,330.0 237.9,330.0 238.3,330.0 238.8,329.8 239.3,330.0 239.8,329.7 240.3,329.6 240.8,329.0 241.3,329.2 241.8,328.7 242.3,329.0 242.5,328.6 242.8,328.7 243.3,328.6 243.8,328.4 244.3,328.4 244.8,328.4 245.3,328.8 245.8,328.0 246.3,328.3 246.8,328.2 247.3,328.3 247.8,327.8 248.3,328.3 248.8,327.8 249.3,327.6 249.8,327.5 250.3,327.6 250.8,327.7 251.3,328.2 251.7,327.6 251.8,327.6 252.3,327.6 252.8,327.6 253.3,327.9 253.8,328.0 254.3,327.6 254.8,327.6 255.3,328.2 255.8,327.6 256.3,327.8 256.8,327.6 257.3,327.8 257.8,327.6 258.3,327.6 258.8,327.6 259.3,328.3 259.8,327.6 260.3,327.9 260.8,328.2 260.9,327.7 261.3,328.3 261.8,327.6 262.3,327.4 262.8,328.0 263.3,327.6 263.8,327.7 264.3,327.7 264.8,328.3 265.3,327.7 265.5,327.8" fill="none" stroke="#00a000" stroke-width="1.6" stroke-linejoin="round"/>
<polyline points="37.6,330.0 38.1,329.2 38.6,326.0 38.9,323.9 39.1,318.7 39.6,298.7 39.7,297.7 40.1,295.4 40.6,294.8 40.8,293.6 41.1,290.8 41.6,275.8 42.0,261.6 42.1,256.3 42.6,223.4 42.6,223.7 43.1,221.1 43.3,216.2 43.6,202.2 43.8,198.6 44.1,194.6 44.4,185.5 44.6,184.5 44.8,181.4 45.1,187.2 45.3,193.6 45.6,206.1 45.9,216.3 46.1,224.6 46.6,237.6 46.8,240.1 47.1,245.8 47.6,248.6 47.7,253.1 48.1,254.0 48.3,256.2 48.6,259.6 49.1,261.6 49.6,272.3 50.1,274.6 50.1,277.6 50.6,281.8 51.1,285.0 51.1,289.0 51.6,293.0 52.1,295.5 52.6,300.3 53.1,304.1 53.3,304.7 53.6,306.7 54.1,308.3 54.6,309.4 55.1,312.1 55.6,313.3 56.1,314.2 56.5,314.6 56.6,316.1 57.1,316.8 57.6,318.0 58.1,318.9 58.6,319.6 59.1,320.4 59.6,321.5 59.7,321.6 60.1,321.7 60.6,322.0 61.1,322.2 61.6,323.3 62.1,323.8 62.6,324.0 63.1,324.5 63.6,325.2 64.1,325.6 64.6,325.4 65.1,326.3 65.2,326.5 65.6,327.0 66.1,326.7 66.6,327.2 67.1,326.9 67.6,327.7 68.1,327.6 68.6,327.8 69.1,327.9 69.6,328.8 70.1,328.3 70.6,328.9 71.1,329.0 71.6,329.3 72.1,329.5 72.1,329.5 72.6,330.1 73.1,329.7 73.6,330.0 74.1,330.5 74.6,330.5 75.1,330.2 75.6,330.7 76.1,331.0 76.6,330.6 76.7,331.1 77.1,331.0 77.6,331.0 78.1,331.0 78.6,330.8 79.1,330.8 79.6,331.1 80.1,331.0 80.6,331.0 81.1,331.0 81.6,331.0 82.1,331.1 82.6,331.1 83.1,331.0 83.6,331.2 84.1,330.9 84.6,331.0 85.1,331.1 85.6,331.1 85.9,331.0 86.1,331.0 86.6,331.0 87.1,331.0 87.6,331.1 88.1,330.6 88.6,330.6 89.1,330.8 89.6,330.6 90.1,330.6 90.6,330.6 91.1,330.5 91.6,329.9 92.2,330.1 92.7,330.0 92.8,330.3 93.1,329.9 93.7,329.0 94.2,328.6 94.7,327.5 95.2,326.3 95.7,325.4 96.1,324.3 96.2,324.6 96.7,323.6 97.2,323.2 97.7,321.2 98.2,320.9 98.7,319.6 99.0,318.1 99.2,317.9 99.7,313.2 100.2,310.6 100.2,310.1 100.7,310.8 101.2,311.6 101.7,313.5 102.2,315.2 102.5,315.6 102.7,315.7 103.2,316.3 103.7,316.0 104.2,316.4 104.7,316.9 104.8,317.5 105.2,317.2 105.7,318.3 106.2,318.2 106.7,318.8 107.2,319.5 107.7,320.1 108.2,320.5 108.7,319.9 109.0,321.0 109.2,321.2 109.7,321.1 110.2,321.7 110.7,321.9 111.2,322.9 111.7,323.2 112.2,322.1 112.7,323.5 113.2,323.9 113.6,323.9 113.7,323.8 114.2,324.7 114.7,324.6 115.2,324.9 115.7,325.0 116.2,325.4 116.7,325.9 117.2,326.2 117.7,326.8 118.2,326.0 118.2,326.7 118.7,326.6 119.2,326.2 119.7,326.9 120.2,326.8 120.7,327.1 121.2,327.0 121.7,327.3 122.2,327.6 122.7,327.3 123.2,327.7 123.7,328.1 124.2,328.0 124.7,327.9 125.2,328.4 125.7,328.0 126.2,328.2 126.7,328.0 127.2,328.7 127.4,328.5 127.7,329.1 128.2,329.0 128.7,329.0 129.2,329.0 129.7,329.3 130.2,329.4 130.7,329.7 131.2,329.8 131.7,329.8 132.2,329.9 132.7,330.0 133.2,330.0 133.7,330.1 134.2,330.9 134.7,330.7 135.2,330.7 135.7,331.0 136.2,330.6 136.6,330.8 136.7,331.0 137.2,331.0 137.7,330.8 138.2,331.3 138.7,331.3 139.2,331.1 139.7,331.3 140.2,331.1 140.7,331.4 141.2,331.3 141.7,331.7 142.2,331.8 142.7,331.7 143.2,332.3 143.7,331.7 144.2,331.7 144.7,331.9 145.2,332.0 145.7,331.7 146.2,332.0 146.7,331.8 147.2,331.6 147.7,331.9 148.2,331.9 148.7,332.0 149.2,332.0 149.7,332.0 150.2,332.1 150.4,331.9 150.7,332.4 151.2,332.2 151.7,332.0 152.2,332.3 152.7,332.1 153.2,332.3 153.7,332.0 154.2,332.0 154.7,331.8 155.2,332.0 155.7,332.3 156.2,332.0 156.7,332.0 157.2,331.8 157.7,332.5 158.2,332.0 158.7,332.4 159.2,332.0 159.7,332.0 160.2,332.0 160.7,332.0 161.2,332.0 161.7,332.3 162.2,332.0 162.7,331.9 163.2,332.1 163.7,332.1 164.2,332.3 164.7,331.9 165.2,332.2 165.7,332.3 166.2,332.2 166.7,332.3 167.2,332.2 167.7,331.9 168.2,332.0 168.7,331.8 169.2,331.8 169.7,332.3 170.2,332.0 170.7,331.8 171.2,331.7 171.7,332.3 172.2,332.3 172.7,332.0 173.2,332.2 173.4,332.3 173.7,332.0 174.2,332.3 174.7,332.5 175.2,332.1 175.7,332.1 176.2,332.0 176.7,332.0 177.2,332.0 177.7,332.2 178.2,332.3 178.7,332.4 179.2,332.2 179.7,331.9 180.2,332.0 180.7,331.7 181.2,332.1 181.7,332.4 182.2,332.0 182.7,331.9 183.2,332.3 183.7,332.4 184.2,332.1 184.7,332.0 185.2,332.3 185.7,332.2 186.2,332.3 186.7,332.3 187.2,332.3 187.7,332.1 188.2,332.2 188.7,332.3 189.2,332.5 189.7,331.8 190.2,332.3 190.7,332.1 191.2,332.3 191.7,332.0 192.2,332.4 192.7,332.1 193.2,332.1 193.7,332.0 194.2,332.3 194.7,332.3 195.2,332.2 195.7,331.7 196.2,332.4 196.7,332.0 197.2,332.3 197.7,332.0 198.2,332.0 198.7,332.1 199.2,332.0 199.7,332.0 200.2,332.2 200.7,332.2 201.2,332.4 201.7,332.2 202.2,332.3 202.7,332.2 203.2,332.0 203.7,332.0 204.2,332.0 204.7,331.9 205.2,332.5 205.7,332.0 206.2,332.1 206.7,332.1 207.3,332.3 207.8,332.0 208.2,331.9 208.8,331.9 209.3,332.1 209.8,332.0 210.3,332.0 210.8,331.8 211.3,331.9 211.8,332.1 212.3,332.1 212.8,332.1 213.3,332.0 213.8,332.2 214.3,332.0 214.8,332.3 215.3,332.3 215.8,332.0 216.3,332.2 216.8,332.2 217.3,332.5 217.8,332.0 218.3,332.1 218.8,332.1 219.3,332.0 219.8,332.0 220.3,332.3 220.8,331.7 221.3,332.2 221.8,332.0 222.3,331.7 222.8,332.3 223.3,332.1 223.8,332.3 224.3,331.9 224.8,332.2 225.3,332.3 225.8,331.9 226.3,332.0 226.8,332.3 227.3,331.9 227.8,332.1 228.3,331.6 228.8,331.8 229.3,332.2 229.8,332.2 230.3,332.3 230.8,332.1 231.3,332.1 231.8,332.0 232.3,332.1 232.8,332.4 233.3,332.3 233.8,331.9 234.3,331.9 234.8,332.1 235.3,332.1 235.8,332.1 236.3,332.1 236.8,332.4 237.3,332.0 237.8,332.3 238.3,332.1 238.8,332.5 239.3,332.0 239.8,331.9 240.3,332.5 240.8,331.8 241.3,332.0 241.8,332.3 242.3,332.4 242.8,331.9 243.3,332.0 243.8,332.0 244.3,332.2 244.8,332.3 245.3,332.0 245.8,332.3 246.3,332.0 246.8,332.4 247.3,332.3 247.8,332.4 248.3,331.9 248.8,332.4 249.3,332.3 249.8,332.0 250.3,332.0 250.8,331.7 251.3,331.7 251.8,332.0 252.3,332.0 252.8,332.4 253.3,332.3 253.8,332.2 254.3,332.1 254.8,332.3 255.3,332.3 255.8,332.3 256.3,331.9 256.8,332.0 257.3,332.2 257.8,332.2 258.3,332.0 258.8,332.3 259.3,332.2 259.8,332.4 260.3,332.0 260.8,332.0 261.3,332.0 261.8,332.0 262.3,332.0 262.8,331.7 263.3,332.0 263.8,332.3 264.3,332.3 264.8,332.0 265.3,331.9 265.5,332.0" fill="none" stroke="#50ff00" stroke-width="1.6" stroke-linejoin="round"/>
<polyline points="37.6,330.0 38.1,326.9 38.2,326.7 38.6,323.9 39.1,321.2 39.6,316.8 39.7,316.2 40.1,311.4 40.6,304.7 41.0,299.1 41.1,295.5 41.6,284.1 41.9,277.6 42.1,266.3 42.4,246.7 42.6,235.0 42.8,224.6 43.1,222.5 43.4,218.8 43.6,215.7 43.9,209.4 44.1,203.4 44.3,201.6 44.6,206.1 44.7,210.1 45.1,218.5 45.2,221.4 45.4,256.2 45.6,262.9 46.1,274.2 46.2,276.3 46.6,282.7 47.1,288.9 47.5,292.8 47.6,294.6 48.1,303.1 48.3,304.5 48.6,306.5 49.1,307.9 49.1,308.0 49.6,307.4 50.1,307.1 50.1,307.7 50.6,306.9 51.0,307.2 51.1,308.7 51.6,309.0 52.1,310.7 52.6,311.5 53.1,313.2 53.3,313.3 53.6,313.9 54.1,316.0 54.6,315.9 55.1,317.0 55.6,318.9 56.1,318.5 56.5,319.4 56.6,319.5 57.1,320.2 57.6,321.3 58.1,322.3 58.6,322.8 59.1,323.4 59.6,323.2 60.1,323.9 60.6,324.9 60.6,324.9 61.1,325.0 61.6,325.3 62.1,325.9 62.6,326.3 63.1,325.6 63.6,326.1 64.1,327.0 64.6,327.3 65.1,327.2 65.6,327.1 66.1,327.3 66.6,327.6 67.1,328.2 67.3,327.8 67.6,327.9 68.1,328.3 68.6,328.7 69.1,328.7 69.6,329.1 70.1,329.6 70.6,329.6 71.1,330.2 71.6,329.8 72.1,330.1 72.1,330.4 72.6,330.3 73.1,330.2 73.6,331.0 74.1,330.7 74.6,330.4 75.1,331.2 75.6,331.0 76.1,331.3 76.6,331.0 76.7,331.5 77.1,331.3 77.6,331.1 78.1,331.0 78.6,330.9 79.1,330.9 79.6,330.7 80.1,330.8 80.6,330.7 81.1,331.1 81.6,330.9 82.1,330.2 82.6,330.3 83.1,330.6 83.6,330.6 84.1,330.5 84.6,330.8 85.1,330.2 85.6,330.6 86.1,330.6 86.6,330.0 87.1,330.9 87.6,330.3 88.1,330.6 88.6,330.3 89.1,330.2 89.6,330.1 90.1,330.0 90.6,330.0 91.1,329.8 91.6,330.0 92.2,329.6 92.7,329.8 92.8,329.3 93.1,329.6 93.7,328.4 94.2,327.6 94.7,326.0 95.2,323.9 95.6,322.5 95.7,322.9 96.2,319.2 96.7,316.5 97.2,310.4 97.7,306.7 97.7,307.1 98.2,302.5 98.7,298.7 99.2,293.6 99.6,294.3 99.7,292.5 100.2,296.1 100.7,302.0 100.7,302.2 101.2,304.0 101.7,308.0 102.2,310.6 102.7,313.1 103.0,314.5 103.2,314.6 103.7,316.1 104.2,317.2 104.7,317.5 105.2,317.5 105.7,318.2 106.2,319.4 106.2,319.3 106.7,319.7 107.2,319.9 107.7,320.6 108.2,321.3 108.7,321.6 109.2,321.5 109.7,321.3 110.2,322.7 110.7,323.6 111.2,322.9 111.3,323.2 111.7,323.5 112.2,323.6 112.7,324.3 113.2,325.1 113.7,325.6 114.2,325.4 114.7,326.0 115.2,325.9 115.7,326.6 115.9,326.4 116.2,326.9 116.7,326.8 117.2,327.0 117.7,326.9 118.2,326.9 118.7,327.5 119.2,327.9 119.7,327.3 120.2,327.9 120.7,328.0 121.2,328.1 121.7,328.0 122.2,328.3 122.7,328.5 122.8,328.5 123.2,329.0 123.7,329.0 124.2,329.0 124.7,329.0 125.2,329.1 125.7,329.1 126.2,329.3 126.7,329.4 127.2,329.8 127.4,329.2 127.7,329.3 128.2,329.8 128.7,329.6 129.2,329.6 129.7,329.8 130.2,330.3 130.7,330.3 131.2,330.3 131.7,329.8 132.2,330.5 132.7,330.5 133.2,330.7 133.7,330.6 134.2,330.6 134.7,331.2 135.2,331.4 135.7,330.7 136.2,330.9 136.6,331.1 136.7,330.8 137.2,330.8 137.7,331.6 138.2,331.2 138.7,331.0 139.2,331.4 139.7,331.4 140.2,331.2 140.7,331.5 141.2,331.7 141.7,331.7 142.2,331.8 142.7,331.5 143.2,332.0 143.7,331.5 144.2,332.0 144.7,331.7 145.2,332.0 145.7,331.8 145.8,331.5 146.2,331.5 146.7,331.4 147.2,331.7 147.7,331.7 148.2,331.7 148.7,331.5 149.2,331.7 149.7,331.3 150.2,331.4 150.7,331.2 151.2,331.3 151.7,331.2 152.2,331.3 152.7,331.3 153.2,331.3 153.7,331.0 154.2,330.9 154.7,330.6 155.2,330.9 155.7,329.8 156.2,330.4 156.7,330.0 156.8,330.0 157.2,330.6 157.7,329.6 158.2,328.7 158.7,329.1 159.2,327.8 159.4,328.1 159.7,327.8 160.2,327.3 160.7,327.5 161.2,326.6 161.7,326.6 161.9,326.6 162.2,326.0 162.7,325.0 163.2,325.7 163.7,325.6 164.2,325.6 164.7,325.8 164.7,325.5 165.2,325.1 165.7,325.6 166.2,325.4 166.7,325.8 167.2,325.0 167.7,326.3 168.2,325.7 168.7,325.8 168.8,325.9 169.2,326.3 169.7,326.4 170.2,326.3 170.7,326.3 171.2,326.8 171.7,326.9 172.2,326.6 172.7,326.6 173.2,327.2 173.7,327.4 173.9,327.5 174.2,326.7 174.7,327.5 175.2,327.9 175.7,327.9 176.2,327.9 176.7,328.4 177.2,329.3 177.7,329.3 178.0,329.5 178.2,329.6 178.7,330.0 179.2,330.1 179.7,330.5 180.2,330.5 180.7,330.8 181.2,331.3 181.7,331.7 182.2,331.6 182.7,331.6 183.2,331.7 183.7,332.0 184.2,332.5 184.7,332.2 184.9,332.3 185.2,332.2 185.7,332.3 186.2,332.2 186.7,332.3 187.2,331.6 187.7,332.0 188.2,332.1 188.7,332.1 189.2,332.1 189.7,332.0 190.2,332.1 190.7,332.0 191.2,331.8 191.7,331.8 192.2,331.9 192.7,331.7 193.2,331.9 193.7,332.1 194.2,332.2 194.7,332.0 195.2,331.8 195.7,331.7 196.2,331.5 196.4,331.9 196.7,331.9 197.2,331.5 197.7,331.3 198.2,331.6 198.7,331.3 199.2,330.9 199.7,331.0 200.2,330.9 200.7,331.1 201.2,330.2 201.7,330.1 202.2,330.0 202.7,330.0 203.2,330.0 203.7,329.6 204.2,329.4 204.7,329.0 205.2,329.3 205.7,328.6 206.2,328.8 206.7,328.4 207.3,329.0 207.8,328.6 207.9,328.3 208.2,328.6 208.8,329.0 209.3,328.7 209.8,328.5 210.3,329.0 210.8,329.0 211.3,328.6 211.8,328.9 212.3,328.5 212.8,329.0 213.3,329.1 213.8,328.9 214.3,328.3 214.8,328.9 215.3,328.6 215.8,328.6 216.3,328.9 216.8,328.4 217.3,328.6 217.8,328.6 218.3,329.1 218.8,329.1 219.3,329.3 219.5,328.7 219.8,328.7 220.3,328.5 220.8,328.3 221.3,328.7 221.8,328.7 222.3,328.6 222.8,328.3 223.3,328.9 223.8,328.5 224.3,328.7 224.8,328.7 225.3,328.4 225.8,328.9 226.3,329.0 226.8,328.5 227.3,328.6 227.8,328.7 228.3,328.7 228.7,328.6 228.8,328.7 229.3,328.5 229.8,328.7 230.3,328.6 230.8,328.8 231.3,329.1 231.8,329.6 232.3,329.7 232.8,330.2 233.3,329.6 233.8,330.5 234.3,330.5 234.8,330.5 235.3,331.2 235.6,331.1 235.8,331.1 236.3,331.3 236.8,331.3 237.3,331.3 237.8,331.0 238.3,331.1 238.8,331.3 239.3,331.3 239.8,331.7 240.3,331.3 240.8,331.4 241.3,331.7 241.8,331.5 242.3,331.7 242.8,331.7 243.3,331.8 243.8,331.8 244.3,331.9 244.8,331.6 245.3,331.7 245.8,331.7 246.3,331.8 246.8,331.8 247.1,331.3 247.3,332.1 247.8,331.5 248.3,331.7 248.8,331.7 249.3,331.8 249.8,331.8 250.3,332.0 250.8,332.0 251.3,331.7 251.8,332.0 252.3,331.6 252.8,331.5 253.3,332.4 253.8,332.0 254.3,331.7 254.8,331.7 255.3,331.7 255.8,331.7 256.3,331.6 256.8,331.6 257.3,331.3 257.8,331.7 258.3,331.6 258.8,332.0 259.3,331.7 259.8,332.0 260.3,331.4 260.8,331.3 261.3,331.7 261.8,332.0 262.3,331.7 262.8,331.7 263.3,331.7 263.8,331.5 264.3,331.6 264.8,332.3 265.3,331.4 265.5,331.8" fill="none" stroke="#0028fa" stroke-width="1.6" stroke-linejoin="round"/>
</g>
<clipPath id="cpD"><rect x="283.60" y="178.30" width="229.80" height="154.20"/></clipPath>
<g clip-path="url(#cpD)">
<polyline points="289.7,331.8 290.2,330.8 290.7,331.5 291.2,331.8 291.7,331.7 292.2,330.9 292.7,330.3 293.2,329.8 293.7,330.4 294.2,330.3 294.7,329.0 295.1,329.8 295.2,328.8 295.7,329.2 296.2,328.9 296.7,328.7 297.2,328.1 297.7,328.1 298.2,327.8 298.7,327.0 298.9,327.1 299.2,326.2 299.7,325.7 300.2,325.2 300.7,324.4 301.2,323.6 301.7,321.5 302.2,321.8 302.7,321.4 302.8,321.1 303.2,319.7 303.7,319.4 304.2,318.4 304.7,317.5 305.2,316.4 305.7,315.4 306.2,314.8 306.2,316.5 306.7,315.6 307.2,316.5 307.7,313.3 308.2,312.7 308.7,312.3 308.9,313.1 309.2,312.0 309.7,312.8 310.2,312.6 310.7,313.6 311.2,312.6 311.7,312.0 311.9,310.5 312.2,309.6 312.7,310.9 313.2,309.3 313.7,308.4 314.2,308.3 314.2,309.1 314.7,306.2 315.2,303.9 315.7,299.8 316.2,298.2 316.2,298.2 316.7,301.6 317.2,306.4 317.3,308.4 317.7,308.2 318.2,312.1 318.7,311.8 319.2,312.4 319.6,313.9 319.7,314.7 320.2,313.3 320.7,314.7 321.2,313.8 321.7,314.1 322.2,315.0 322.7,315.2 322.7,314.4 323.2,315.1 323.7,316.3 324.2,315.6 324.7,315.5 325.2,315.9 325.7,316.1 326.2,316.5 326.7,316.6 327.2,317.3 327.7,317.8 328.2,316.0 328.7,317.4 329.2,316.9 329.6,318.2 329.7,317.0 330.2,317.8 330.7,315.0 331.2,318.1 331.7,318.2 332.2,316.8 332.7,316.7 333.2,319.2 333.7,317.5 334.2,317.1 334.7,318.7 335.2,317.3 335.7,318.3 336.2,318.7 336.7,318.3 337.2,318.4 337.2,319.1 337.7,316.5 338.2,318.5 338.7,318.8 339.2,317.7 339.7,318.4 340.2,317.5 340.7,318.7 341.2,318.3 341.7,318.6 342.2,318.6 342.7,318.9 343.2,318.9 343.7,317.7 344.2,319.4 344.7,319.4 344.9,319.3 345.2,318.7 345.7,318.9 346.2,318.5 346.7,320.2 347.2,319.2 347.7,319.6 348.2,319.7 348.7,319.5 349.2,321.1 349.7,319.6 350.2,319.7 350.7,320.9 351.2,320.0 351.7,318.9 352.2,320.3 352.5,319.6 352.7,320.1 353.2,320.5 353.7,320.6 354.2,320.3 354.7,319.1 355.2,319.4 355.7,320.5 356.2,319.3 356.7,320.1 357.2,320.5 357.7,319.7 358.2,320.6 358.7,321.1 359.2,319.1 359.7,321.3 360.2,319.6 360.2,321.1 360.7,320.0 361.2,320.1 361.7,320.2 362.2,321.3 362.7,319.8 363.2,319.6 363.7,320.1 364.2,319.4 364.7,318.4 365.2,319.5 365.7,318.6 366.2,319.5 366.7,318.2 367.2,317.8 367.7,316.3 367.9,317.4 368.2,317.6 368.7,316.7 369.2,318.3 369.7,316.6 370.2,317.5 370.7,317.3 371.2,315.8 371.7,316.2 372.2,315.1 372.7,317.0 373.2,315.3 373.7,315.7 374.2,315.2 374.7,316.2 375.2,313.6 375.5,314.0 375.7,314.5 376.2,314.3 376.7,313.9 377.2,312.7 377.6,313.0 378.1,312.8 378.7,312.2 379.2,312.1 379.6,311.7 380.1,311.2 380.7,311.0 381.2,310.4 381.6,310.9 382.1,310.1 382.6,309.9 383.1,309.4 383.2,309.4 383.6,309.3 384.1,308.8 384.6,307.8 385.1,308.0 385.6,307.8 386.1,306.6 386.6,306.0 387.1,306.0 387.6,305.4 388.1,305.4 388.6,304.6 389.1,303.5 389.6,303.2 390.1,303.1 390.6,302.9 390.8,303.4 391.1,302.2 391.6,301.7 392.1,301.0 392.6,300.1 393.1,300.4 393.6,299.6 394.1,300.2 394.6,298.6 395.1,298.4 395.6,297.8 396.1,297.9 396.6,297.8 397.1,297.6 397.6,298.2 397.7,297.6 398.1,297.6 398.6,298.8 399.1,299.7 399.6,299.7 400.1,300.7 400.6,301.2 400.8,301.4 401.1,302.4 401.6,302.4 402.1,302.5 402.6,303.7 403.1,304.1 403.6,304.9 404.1,304.5 404.6,304.4 405.1,306.3 405.6,305.7 406.1,306.1 406.2,306.7 406.6,307.0 407.1,307.6 407.6,307.9 408.1,307.8 408.6,308.0 409.1,308.5 409.6,308.6 410.1,309.1 410.6,310.0 411.1,309.3 411.6,309.7 412.1,310.7 412.6,310.0 413.1,310.8 413.6,311.1 413.8,310.5 414.1,312.4 414.6,312.3 415.1,311.6 415.6,312.2 416.1,312.7 416.6,312.0 417.1,312.6 417.6,313.4 418.1,313.4 418.6,313.0 419.1,312.8 419.6,314.4 420.1,313.7 420.6,314.1 421.1,314.7 421.5,314.2 421.6,314.8 422.1,314.5 422.6,313.9 423.1,314.4 423.6,314.4 424.1,314.5 424.6,314.7 425.1,314.6 425.6,315.4 426.1,315.2 426.6,314.9 427.1,315.5 427.6,315.5 428.1,315.0 428.6,314.9 429.1,315.7 429.1,315.8 429.6,315.4 430.1,315.6 430.6,316.0 431.1,315.6 431.6,315.7 432.1,315.9 432.6,315.0 433.1,315.6 433.6,315.8 434.1,315.8 434.6,315.2 435.1,315.9 435.6,316.5 436.1,316.2 436.6,316.3 436.8,316.5 437.1,316.2 437.6,316.2 438.1,316.3 438.6,316.4 439.1,316.0 439.6,316.8 440.1,316.0 440.6,316.2 441.1,316.1 441.6,317.0 442.1,315.6 442.6,316.8 443.1,316.4 443.6,315.9 444.1,316.3 444.5,316.3 444.6,316.9 445.1,316.2 445.6,316.0 446.1,315.8 446.6,316.1 447.1,315.8 447.6,315.7 448.1,316.1 448.6,316.0 449.1,315.0 449.6,315.9 450.1,315.2 450.6,315.5 451.1,314.9 451.6,315.6 452.1,315.2 452.1,315.2 452.6,315.3 453.1,315.1 453.6,315.4 454.1,315.1 454.6,315.1 455.1,314.7 455.6,314.9 456.1,315.2 456.6,314.8 457.1,314.6 457.6,314.8 458.1,314.0 458.6,314.2 459.1,314.0 459.6,314.5 459.8,314.3 460.1,313.8 460.6,314.6 461.1,313.8 461.6,313.9 462.1,314.0 462.6,313.7 463.1,314.1 463.6,313.5 464.1,314.0 464.6,313.9 465.1,312.9 465.6,313.6 466.1,314.0 466.6,312.8 467.1,313.4 467.4,314.3 467.6,313.0 468.1,312.6 468.6,312.7 469.1,312.1 469.6,312.7 470.1,312.4 470.6,312.9 471.1,312.4 471.6,311.8 472.1,312.1 472.6,312.1 473.1,312.9 473.6,312.2 474.1,312.5 474.6,311.6 475.1,312.1 475.1,311.7 475.6,312.2 476.1,311.0 476.6,312.1 477.1,311.6 477.6,310.5 478.1,311.4 478.6,311.8 479.1,311.2 479.6,311.0 480.1,311.0 480.6,312.0 481.1,311.1 481.6,312.0 482.1,310.4 482.6,311.1 482.8,311.3 483.1,310.8 483.6,310.8 484.1,311.5 484.6,310.3 485.1,311.0 485.6,311.6 486.1,310.3 486.6,310.2 487.1,310.3 487.6,310.6 488.1,311.1 488.6,310.4 489.1,310.0 489.6,310.4 490.1,310.1 490.4,311.0 490.6,310.3 491.1,310.3 491.6,311.3 492.1,311.4 492.5,311.0 493.0,310.7 493.6,310.6 494.1,310.8 494.5,310.8 495.0,310.8 495.6,310.8 496.1,310.6 496.5,310.6 497.0,310.9 497.5,310.8 498.0,311.1 498.1,310.6 498.5,311.1 499.0,310.3 499.5,311.0 500.0,310.9 500.5,311.3 501.0,311.2 501.5,311.0 502.0,311.1 502.5,311.4 503.0,311.7 503.5,311.3 504.0,311.3 504.5,311.1 505.0,310.9 505.5,311.6 505.7,312.3 506.0,311.5 506.5,312.3 507.0,312.1 507.5,311.2 508.0,311.5 508.5,312.0 509.0,312.0 509.5,311.9 510.0,312.6 510.5,311.7 511.0,312.1 511.5,311.3 512.0,312.5 512.5,311.8 513.0,312.5 513.4,311.8" fill="none" stroke="#3a1ee6" stroke-width="1.6" stroke-linejoin="round"/>
<polyline points="289.7,332.5 290.2,331.7 290.7,332.1 291.2,332.1 291.7,331.7 292.2,331.3 292.7,331.2 293.2,330.5 293.7,330.7 294.2,332.1 294.7,330.9 295.1,331.5 295.2,330.7 295.7,330.0 296.2,330.7 296.7,330.4 297.2,329.6 297.7,329.5 298.2,328.3 298.7,328.6 298.9,328.4 299.2,327.5 299.7,328.2 300.2,327.5 300.7,327.5 301.2,326.3 301.7,325.3 302.2,324.5 302.7,324.8 302.8,325.2 303.2,324.7 303.7,324.6 304.2,323.2 304.7,321.8 305.2,323.7 305.7,323.1 306.2,320.3 306.6,322.0 306.7,320.5 307.2,321.2 307.7,319.4 308.2,319.0 308.7,319.0 309.2,318.2 309.7,318.4 310.2,317.7 310.4,316.7 310.7,317.0 311.2,318.0 311.7,317.9 312.2,317.1 312.7,316.9 313.2,316.4 313.7,316.7 314.2,315.6 314.2,316.0 314.7,315.6 315.2,315.8 315.7,315.2 316.2,316.5 316.7,314.2 317.2,315.0 317.7,314.8 318.1,314.6 318.2,314.2 318.7,314.3 319.2,314.6 319.7,314.7 320.2,315.8 320.7,314.1 321.2,314.4 321.7,314.4 321.9,312.1 322.2,315.7 322.7,314.1 323.2,313.2 323.7,313.4 324.2,313.3 324.7,315.4 325.2,315.2 325.7,314.0 326.2,314.8 326.7,313.2 327.2,314.5 327.7,314.7 328.2,314.5 328.7,315.2 329.2,314.9 329.6,315.6 329.7,315.1 330.2,315.6 330.7,315.0 331.2,316.4 331.7,316.5 332.2,315.1 332.7,315.3 333.2,316.3 333.7,315.8 334.2,316.5 334.7,314.1 335.2,317.0 335.7,314.5 336.2,316.6 336.7,315.7 337.2,316.3 337.2,316.3 337.7,315.4 338.2,315.5 338.7,316.4 339.2,317.0 339.7,314.7 340.2,315.3 340.7,316.3 341.2,316.7 341.7,316.3 342.2,316.6 342.7,315.8 343.2,317.5 343.7,316.8 344.2,317.5 344.7,316.0 344.9,315.6 345.2,317.1 345.7,316.8 346.2,316.2 346.7,317.6 347.2,318.2 347.7,316.9 348.2,317.4 348.7,318.1 349.2,317.0 349.7,318.1 350.2,319.7 350.7,318.3 351.2,318.7 351.7,317.4 352.2,318.9 352.5,319.1 352.7,318.6 353.2,318.9 353.7,320.1 354.2,319.1 354.7,319.5 355.2,318.4 355.7,317.8 356.2,320.3 356.7,320.3 357.2,320.3 357.7,320.2 358.2,320.3 358.7,319.8 359.2,319.1 359.7,320.8 360.2,321.0 360.2,321.2 360.7,319.1 361.2,318.9 361.7,320.9 362.2,321.0 362.7,319.7 363.2,318.9 363.7,318.9 364.2,319.5 364.7,319.0 365.2,319.2 365.7,319.7 366.2,317.9 366.7,319.2 367.2,319.9 367.7,319.3 367.9,320.0 368.2,318.9 368.7,318.0 369.2,319.6 369.7,317.7 370.2,316.8 370.7,317.9 371.2,318.9 371.7,318.5 372.2,317.9 372.7,318.4 373.2,318.2 373.7,317.2 374.2,316.9 374.7,316.0 375.2,317.2 375.5,314.6 375.7,315.6 376.2,315.4 376.7,315.6 377.2,314.4 377.6,314.7 378.1,313.5 378.7,313.3 379.2,313.6 379.6,313.0 380.1,311.6 380.7,311.4 381.2,311.4 381.6,310.7 382.1,310.2 382.6,310.1 383.1,309.4 383.2,309.6 383.6,309.1 384.1,308.2 384.6,308.4 385.1,307.2 385.6,306.9 386.1,306.2 386.6,305.6 387.1,305.0 387.6,304.8 388.1,304.3 388.6,304.2 389.1,303.4 389.3,304.0 389.6,303.4 390.1,302.5 390.6,302.4 391.1,301.8 391.6,302.1 392.1,300.5 392.6,301.1 393.1,300.2 393.6,299.9 393.9,299.2 394.1,299.7 394.6,299.4 395.1,299.3 395.6,297.8 396.1,297.7 396.6,296.3 397.1,295.9 397.6,297.2 397.7,296.7 398.1,296.2 398.6,297.0 399.1,299.2 399.6,300.7 400.0,301.4 400.1,301.4 400.6,301.3 401.1,302.2 401.6,303.4 402.1,303.3 402.6,303.2 403.1,303.9 403.1,303.7 403.6,304.1 404.1,304.5 404.6,304.1 405.1,304.8 405.6,305.4 406.1,305.5 406.6,305.4 407.1,304.7 407.6,305.8 408.1,305.6 408.5,306.2 408.6,307.5 409.1,306.7 409.6,307.6 410.1,308.2 410.6,308.4 411.1,307.6 411.6,309.4 412.1,309.4 412.6,309.0 413.1,309.6 413.6,310.9 413.8,310.3 414.1,310.7 414.6,310.9 415.1,310.8 415.6,311.6 416.1,311.8 416.6,311.4 417.1,312.9 417.6,312.6 418.1,312.6 418.6,313.5 419.1,313.5 419.6,313.9 420.1,313.6 420.6,314.0 421.1,313.7 421.5,313.7 421.6,314.1 422.1,314.4 422.6,314.2 423.1,314.4 423.6,315.0 424.1,314.2 424.6,314.7 425.1,314.5 425.6,315.4 426.1,314.7 426.6,314.3 427.1,314.9 427.6,315.7 428.1,315.3 428.6,315.4 429.1,315.3 429.1,315.5 429.6,315.3 430.1,315.7 430.6,315.5 431.1,315.9 431.6,315.7 432.1,315.5 432.6,316.1 433.1,315.7 433.6,316.3 434.1,316.2 434.6,316.2 435.1,315.7 435.6,316.4 436.1,315.7 436.6,316.7 436.8,316.2 437.1,315.9 437.6,315.9 438.1,316.5 438.6,316.6 439.1,315.8 439.6,316.6 440.1,315.9 440.6,316.3 441.1,316.1 441.6,315.3 442.1,315.5 442.6,315.8 443.1,316.5 443.6,315.9 444.1,316.0 444.5,316.0 444.6,315.5 445.1,316.6 445.6,315.8 446.1,315.8 446.6,316.1 447.1,315.2 447.6,316.2 448.1,315.7 448.6,315.6 449.1,316.4 449.6,316.1 450.1,315.8 450.6,315.1 451.1,315.0 451.6,315.1 452.1,315.1 452.1,316.0 452.6,315.1 453.1,315.3 453.6,314.6 454.1,314.5 454.6,314.1 455.1,314.5 455.6,314.4 456.1,315.0 456.6,314.5 457.1,314.9 457.6,314.1 458.1,314.8 458.6,314.3 459.1,314.5 459.6,314.3 459.8,313.9 460.1,314.2 460.6,313.9 461.1,314.2 461.6,313.3 462.1,314.0 462.6,313.3 463.1,312.7 463.6,314.4 464.1,313.8 464.6,313.4 465.1,312.8 465.6,313.4 466.1,313.0 466.6,313.3 467.1,312.7 467.4,313.4 467.6,312.6 468.1,314.0 468.6,313.5 469.1,311.9 469.6,312.5 470.1,312.8 470.6,311.5 471.1,311.9 471.6,311.8 472.1,312.3 472.6,311.9 473.1,311.8 473.6,312.6 474.1,311.6 474.6,311.9 475.1,311.2 475.1,311.2 475.6,312.0 476.1,311.9 476.6,311.5 477.1,311.3 477.6,311.6 478.1,311.5 478.6,311.1 479.1,311.1 479.6,310.8 480.1,311.1 480.6,311.5 481.1,311.8 481.6,310.7 482.1,311.2 482.6,311.1 482.8,311.1 483.1,311.6 483.6,311.1 484.1,312.0 484.6,311.0 485.1,311.2 485.6,310.0 486.1,310.6 486.6,310.8 487.1,310.6 487.6,310.4 488.1,311.0 488.6,310.7 489.1,310.8 489.6,309.6 490.1,310.6 490.4,311.4 490.6,310.3 491.1,309.5 491.6,311.0 492.1,309.2 492.5,310.6 493.0,310.2 493.6,310.9 494.1,310.8 494.5,311.2 495.0,311.1 495.6,311.6 496.1,310.2 496.5,311.2 497.0,310.6 497.5,310.6 498.0,311.1 498.1,310.8 498.5,310.9 499.0,311.0 499.5,310.8 500.0,310.9 500.5,311.4 501.0,311.5 501.5,311.4 502.0,311.0 502.5,310.5 503.0,310.5 503.5,311.0 504.0,310.8 504.5,311.2 505.0,310.9 505.5,311.3 505.7,311.2 506.0,311.5 506.5,311.5 507.0,310.7 507.5,312.0 508.0,311.6 508.5,311.9 509.0,311.3 509.5,311.0 510.0,311.9 510.5,313.0 511.0,311.6 511.5,311.7 512.0,312.7 512.5,312.1 513.0,312.1 513.4,313.1" fill="none" stroke="#aa1cf0" stroke-width="1.6" stroke-linejoin="round"/>
<polyline points="289.7,332.2 290.2,332.2 290.7,332.3 291.2,332.5 291.7,332.5 292.2,332.4 292.7,331.8 293.2,332.4 293.7,331.2 294.2,331.5 294.7,332.5 295.1,330.7 295.2,331.4 295.7,331.6 296.2,331.2 296.7,331.9 297.2,330.8 297.7,331.9 298.2,331.0 298.7,329.6 298.9,329.5 299.2,330.1 299.7,329.9 300.2,328.2 300.7,327.9 301.2,327.0 301.7,326.1 302.2,326.6 302.2,325.4 302.7,326.8 303.2,324.3 303.7,325.9 304.2,325.0 304.7,324.8 305.2,323.7 305.7,323.4 305.8,323.6 306.2,323.2 306.7,322.9 307.2,323.0 307.7,323.9 308.2,323.8 308.7,323.5 309.2,321.7 309.7,321.5 310.2,321.1 310.4,320.7 310.7,320.9 311.2,321.2 311.7,321.3 312.2,321.3 312.7,318.8 313.2,318.7 313.7,320.2 314.2,319.1 314.7,318.3 315.1,317.2 315.2,318.8 315.7,317.9 316.2,316.8 316.7,318.8 317.2,317.7 317.7,316.8 318.2,317.1 318.7,314.4 318.8,315.4 319.2,315.7 319.7,316.3 320.2,314.4 320.7,314.2 321.2,314.9 321.7,314.6 322.2,315.3 322.7,314.0 322.7,313.2 323.2,313.1 323.7,313.6 324.2,313.6 324.7,315.0 325.2,315.1 325.7,313.8 326.2,314.7 326.5,315.8 326.7,314.8 327.2,314.6 327.7,314.9 328.2,315.5 328.7,316.1 329.2,315.5 329.6,314.5 329.7,315.8 330.2,316.6 330.7,315.9 331.2,317.3 331.7,316.2 332.2,316.8 332.7,315.9 333.2,316.7 333.7,316.0 334.2,315.2 334.7,317.3 335.2,317.9 335.7,316.9 336.2,317.5 336.7,317.4 337.2,318.0 337.7,317.2 338.2,317.7 338.7,319.5 339.2,318.0 339.2,317.6 339.7,317.0 340.2,318.4 340.7,318.6 341.2,317.1 341.7,318.5 342.2,318.0 342.7,317.7 343.2,317.5 343.7,318.1 344.2,319.0 344.7,317.4 345.2,318.5 345.7,318.6 346.2,316.7 346.7,317.6 347.2,319.1 347.7,318.7 348.2,318.6 348.7,319.0 348.7,319.9 349.2,317.8 349.7,317.9 350.2,318.4 350.7,318.9 351.2,318.5 351.7,318.2 352.2,319.5 352.7,319.1 353.2,319.3 353.7,318.4 354.2,318.8 354.5,320.0 354.7,319.5 355.2,317.7 355.7,319.8 356.2,319.0 356.7,319.7 357.2,318.3 357.7,319.4 358.2,319.7 358.7,320.2 359.2,319.6 359.4,318.8 359.7,318.9 360.2,320.4 360.7,318.2 361.2,319.5 361.7,320.1 362.2,319.2 362.7,319.8 363.2,319.7 363.7,319.7 364.2,319.3 364.7,319.6 365.2,320.5 365.7,318.8 366.2,319.5 366.7,318.2 367.2,318.7 367.7,318.6 367.9,318.9 368.2,318.0 368.7,319.1 369.2,319.5 369.7,318.4 370.2,320.5 370.7,318.6 371.2,317.9 371.7,318.2 372.2,316.7 372.7,316.9 373.2,317.1 373.7,317.2 374.2,315.8 374.7,316.9 375.2,316.4 375.5,315.3 375.7,315.6 376.2,314.8 376.7,315.4 377.2,315.7 377.6,314.4 378.1,313.8 378.7,314.0 379.2,312.9 379.6,312.5 380.1,313.0 380.7,312.6 381.2,312.5 381.6,311.3 382.1,310.8 382.6,310.4 383.1,310.7 383.2,310.5 383.6,310.3 384.1,309.9 384.6,309.2 385.1,308.7 385.6,307.5 386.1,306.6 386.6,305.9 387.1,305.6 387.6,305.3 388.1,304.4 388.6,303.6 389.0,303.7 389.1,303.4 389.6,303.1 390.1,302.7 390.6,301.9 391.1,302.1 391.6,300.6 392.1,301.7 392.6,300.5 392.8,301.4 393.1,300.5 393.6,300.5 394.1,301.3 394.6,301.2 395.1,301.6 395.6,301.3 396.1,301.2 396.6,300.5 397.0,302.4 397.1,301.1 397.6,302.2 398.1,302.1 398.6,302.1 399.1,302.6 399.6,303.1 400.1,303.8 400.6,304.1 401.1,304.4 401.6,304.3 402.1,305.9 402.3,305.6 402.6,306.1 403.1,306.2 403.6,306.5 404.1,305.9 404.6,305.7 405.1,306.3 405.6,307.8 406.1,307.4 406.6,308.3 407.1,307.8 407.6,307.7 408.1,308.2 408.6,308.3 409.1,309.0 409.6,310.1 410.0,310.2 410.1,309.5 410.6,309.4 411.1,309.3 411.6,310.2 412.1,310.2 412.6,310.3 413.1,310.1 413.6,310.8 414.1,311.4 414.6,310.6 415.1,311.1 415.6,311.3 416.1,312.1 416.6,311.8 417.1,312.6 417.6,313.0 418.1,312.5 418.6,312.7 419.1,312.6 419.6,312.5 419.9,313.2 420.1,312.6 420.6,313.9 421.1,313.8 421.5,314.8 421.6,314.3 422.1,314.6 422.6,314.7 423.1,314.5 423.6,315.6 424.1,314.9 424.6,315.3 425.1,315.1 425.6,315.0 426.1,315.4 426.6,315.5 427.1,315.8 427.6,315.2 428.1,315.8 428.6,315.4 429.1,316.2 429.1,315.1 429.6,316.1 430.1,315.3 430.6,316.0 431.1,315.7 431.6,316.0 432.1,315.8 432.6,316.1 433.1,315.7 433.6,316.0 434.1,316.0 434.6,315.7 435.1,316.6 435.6,315.9 436.1,316.4 436.6,316.9 436.8,316.2 437.1,316.5 437.6,315.8 438.1,316.6 438.6,316.4 439.1,316.3 439.6,317.1 440.1,316.2 440.6,316.7 441.1,315.8 441.6,315.7 442.1,316.3 442.6,316.8 443.1,316.2 443.6,316.2 444.1,316.0 444.5,316.3 444.6,316.6 445.1,316.2 445.6,316.5 446.1,315.5 446.6,316.3 447.1,316.3 447.6,316.0 448.1,316.4 448.6,316.0 449.1,315.9 449.6,315.9 450.1,315.8 450.6,315.2 451.1,315.4 451.6,316.0 452.1,315.6 452.1,315.2 452.6,315.6 453.1,315.3 453.6,315.3 454.1,315.0 454.6,315.2 455.1,315.1 455.6,315.3 456.1,314.7 456.6,315.1 457.1,314.1 457.6,314.6 458.1,314.6 458.6,314.2 459.1,314.4 459.6,314.3 459.8,314.3 460.1,314.5 460.6,314.5 461.1,314.4 461.6,313.6 462.1,314.2 462.6,314.0 463.1,314.0 463.6,313.4 464.1,312.9 464.6,313.9 465.1,313.3 465.6,313.4 466.1,313.5 466.6,313.1 467.1,313.7 467.4,312.8 467.6,313.0 468.1,313.4 468.6,312.3 469.1,312.5 469.6,312.3 470.1,313.3 470.6,312.7 471.1,312.8 471.6,312.2 472.1,311.9 472.6,313.1 473.1,312.2 473.6,312.2 474.1,311.7 474.6,312.0 475.1,312.5 475.1,312.0 475.6,312.3 476.1,312.2 476.6,311.8 477.1,311.9 477.6,311.6 478.1,312.2 478.6,310.6 479.1,311.0 479.6,311.2 480.1,312.0 480.6,312.3 481.1,311.7 481.6,311.4 482.1,310.3 482.6,310.7 482.8,311.4 483.1,310.7 483.6,310.6 484.1,311.1 484.6,310.6 485.1,310.9 485.6,311.3 486.1,311.5 486.6,311.0 487.1,310.5 487.6,311.5 488.1,311.5 488.6,310.6 489.1,312.0 489.6,310.1 490.1,311.0 490.4,310.5 490.6,310.0 491.1,311.4 491.6,311.3 492.1,309.9 492.5,311.0 493.0,310.9 493.6,310.8 494.1,310.4 494.5,310.3 495.0,310.9 495.6,311.0 496.1,311.0 496.5,310.8 497.0,310.4 497.5,310.9 498.0,310.3 498.1,311.4 498.5,310.8 499.0,310.3 499.5,310.5 500.0,311.0 500.5,311.5 501.0,311.5 501.5,311.3 502.0,311.1 502.5,311.4 503.0,312.0 503.5,311.7 504.0,311.2 504.5,311.1 505.0,312.1 505.5,311.7 505.7,312.3 506.0,311.8 506.5,310.2 507.0,311.7 507.5,311.9 508.0,312.0 508.5,312.3 509.0,312.6 509.5,312.0 510.0,312.1 510.5,311.5 511.0,312.8 511.5,312.0 512.0,311.7 512.5,313.1 513.0,312.0 513.4,313.0" fill="none" stroke="#e6003c" stroke-width="1.6" stroke-linejoin="round"/>
<polyline points="287.4,331.3 287.9,330.3 288.4,330.4 288.9,329.7 289.4,329.5 289.9,328.3 290.4,327.2 290.5,327.8 290.9,327.1 291.4,326.0 291.9,324.9 292.4,325.5 292.8,323.8 292.9,324.0 293.4,322.3 293.9,320.9 294.4,320.1 294.7,318.6 294.9,319.6 295.4,317.4 295.9,315.8 296.4,312.6 296.8,310.8 296.9,310.4 297.4,308.8 297.9,304.8 298.4,302.2 298.9,297.8 299.0,298.3 299.4,293.7 299.9,291.3 300.4,290.5 300.9,284.3 301.1,285.2 301.4,278.9 301.9,274.9 302.4,273.9 302.9,268.9 303.3,268.6 303.4,268.4 303.9,254.6 304.3,246.4 304.4,247.0 304.9,235.2 305.0,234.9 305.4,242.1 305.7,246.1 305.9,252.6 306.4,263.0 306.6,262.9 306.9,262.2 307.4,265.7 307.9,261.2 308.1,262.3 308.4,270.0 308.7,277.7 308.9,271.7 309.4,279.4 309.9,281.2 310.4,281.6 310.4,282.8 310.9,285.7 311.4,286.5 311.9,290.3 312.4,289.4 312.9,293.8 313.0,291.4 313.4,292.3 313.9,296.1 314.4,292.8 314.9,298.2 315.0,295.9 315.4,300.8 315.9,304.9 316.2,308.5 316.4,306.3 316.9,310.3 317.4,311.6 317.9,314.1 318.1,314.6 318.4,315.8 318.9,317.1 319.4,317.3 319.9,318.5 320.4,319.4 320.9,320.8 321.1,320.2 321.4,319.7 321.9,320.8 322.4,320.5 322.9,321.1 323.4,321.9 323.9,322.1 324.4,322.1 324.9,322.1 325.0,322.1 325.4,321.3 325.9,323.0 326.4,323.9 326.9,322.3 327.4,323.3 327.9,323.3 328.4,321.8 328.9,322.7 329.4,323.4 329.6,323.2 329.9,323.8 330.4,323.5 330.9,324.6 331.4,324.9 331.9,324.9 332.4,323.8 332.9,324.0 333.4,325.4 333.9,324.5 334.4,325.4 334.9,324.8 335.4,325.8 335.9,325.1 336.4,325.8 336.9,325.9 337.2,325.8 337.4,325.6 337.9,326.1 338.4,326.5 338.9,324.7 339.4,326.0 339.9,326.8 340.4,327.1 340.9,327.4 341.4,326.1 341.9,324.9 342.4,326.7 342.9,325.9 343.4,326.8 343.9,325.1 344.4,325.5 344.9,325.5 344.9,324.9 345.4,324.8 345.9,325.1 346.4,325.9 346.9,326.3 347.4,326.0 347.9,326.3 348.4,324.1 348.9,325.1 349.4,324.8 349.9,324.6 350.4,323.3 350.9,324.7 351.4,323.4 351.9,323.8 352.4,323.9 352.5,325.0 352.9,323.1 353.4,324.0 353.9,323.7 354.4,323.1 354.9,323.0 355.4,322.1 355.9,323.1 356.4,322.4 356.9,322.1 357.4,322.1 357.9,321.5 358.4,321.9 358.9,320.7 359.4,321.8 359.9,322.1 360.2,320.9 360.4,320.0 360.9,320.9 361.4,320.7 361.9,320.3 362.4,319.6 362.9,319.5 363.4,318.9 363.9,320.0 364.4,317.3 364.9,317.6 365.4,318.4 365.9,316.3 366.4,316.7 366.9,315.6 367.4,317.3 367.9,314.7 367.9,316.0 368.4,317.4 368.9,314.8 369.4,315.4 369.9,315.7 370.4,314.7 370.9,315.9 371.4,313.4 371.9,313.8 372.4,313.5 372.9,311.7 373.4,312.6 373.9,312.9 374.4,312.9 374.9,311.7 375.4,310.4 375.5,311.8 375.8,311.5 376.4,310.3 376.9,310.3 377.4,309.9 377.8,308.6 378.4,309.6 378.9,308.5 379.4,309.0 379.8,307.9 380.3,307.0 380.9,306.3 381.3,307.0 381.8,305.6 382.3,305.2 382.9,305.3 383.3,303.7 383.8,304.6 384.3,304.7 384.8,303.9 385.3,304.8 385.8,303.0 386.3,303.1 386.8,303.8 387.0,303.3 387.3,303.3 387.8,302.6 388.3,303.9 388.8,304.2 389.3,304.6 389.8,303.7 390.3,304.3 390.8,303.6 391.3,303.4 391.8,303.8 392.3,304.0 392.8,303.0 393.3,303.7 393.8,303.5 394.3,303.1 394.7,304.2 394.8,304.0 395.3,302.4 395.8,303.8 396.3,304.3 396.8,304.1 397.3,304.4 397.8,304.9 398.3,304.8 398.8,304.8 399.3,305.1 399.8,305.1 400.3,306.4 400.8,306.5 401.3,305.7 401.8,306.5 402.3,305.9 402.3,306.3 402.8,307.3 403.3,306.6 403.8,307.5 404.3,307.1 404.8,306.8 405.3,306.6 405.8,307.8 406.3,307.6 406.8,308.0 407.3,307.9 407.8,309.6 408.3,308.8 408.8,308.7 409.3,308.9 409.8,309.6 410.0,309.0 410.3,309.0 410.8,309.7 411.3,310.1 411.8,310.4 412.3,310.5 412.8,310.4 413.3,310.6 413.8,311.7 414.3,312.2 414.8,312.4 415.3,312.0 415.8,312.5 416.3,312.7 416.8,312.8 417.3,313.0 417.6,313.3 417.8,313.6 418.3,313.6 418.8,313.3 419.3,313.3 419.8,313.6 420.3,313.7 420.8,313.1 421.3,313.8 421.5,313.6 421.8,313.9 422.3,314.2 422.8,314.5 423.3,314.2 423.8,314.4 424.3,313.9 424.8,314.7 425.3,314.5 425.8,314.2 426.3,314.6 426.8,314.5 427.3,314.4 427.8,315.5 428.3,315.1 428.8,315.3 429.1,314.5 429.3,315.1 429.8,314.9 430.3,314.6 430.8,315.4 431.3,315.3 431.8,315.2 432.3,315.6 432.8,315.1 433.3,315.3 433.8,315.3 434.3,315.7 434.8,315.9 435.3,315.9 435.8,315.9 436.3,316.4 436.8,315.7 436.8,315.5 437.3,315.8 437.8,316.0 438.3,315.8 438.8,315.7 439.3,315.7 439.8,315.1 440.3,316.1 440.8,315.6 441.3,315.5 441.8,315.7 442.3,315.8 442.8,316.1 443.3,315.9 443.8,315.4 444.3,315.1 444.5,315.9 444.8,315.4 445.3,315.4 445.8,315.2 446.3,315.4 446.8,315.3 447.3,315.1 447.8,315.8 448.3,315.3 448.8,315.9 449.3,315.9 449.8,315.4 450.3,315.6 450.8,314.8 451.3,314.6 451.8,315.0 452.1,314.9 452.3,314.9 452.8,314.9 453.3,314.7 453.8,314.5 454.3,314.7 454.8,314.8 455.3,314.6 455.8,314.0 456.3,314.4 456.8,313.6 457.3,314.2 457.8,313.5 458.3,314.4 458.8,314.1 459.3,313.6 459.8,313.5 459.8,313.7 460.3,312.8 460.8,313.5 461.3,313.4 461.8,313.6 462.3,312.7 462.8,312.9 463.3,313.0 463.8,313.7 464.3,312.9 464.8,313.1 465.3,312.7 465.8,312.4 466.3,313.0 466.8,312.6 467.3,312.2 467.4,312.5 467.8,312.6 468.3,312.8 468.8,312.6 469.3,312.7 469.8,311.8 470.3,312.0 470.8,312.5 471.3,311.9 471.8,312.4 472.3,313.1 472.8,311.2 473.3,311.2 473.8,312.1 474.3,311.8 474.8,311.3 475.1,311.5 475.3,311.7 475.8,311.5 476.3,311.3 476.8,311.4 477.3,311.0 477.8,311.2 478.3,311.3 478.8,311.0 479.3,311.6 479.8,310.3 480.3,311.5 480.8,310.8 481.3,310.6 481.8,310.5 482.3,310.5 482.8,310.1 482.8,311.1 483.3,310.6 483.8,310.5 484.3,310.7 484.8,310.7 485.3,309.9 485.8,310.7 486.3,310.6 486.8,310.4 487.3,310.4 487.8,310.2 488.3,310.4 488.8,310.1 489.3,310.2 489.8,310.0 490.3,309.7 490.4,310.6 490.7,309.5 491.3,310.4 491.8,310.0 492.3,310.2 492.7,310.4 493.3,311.1 493.8,309.6 494.2,310.6 494.7,310.6 495.2,309.9 495.8,310.3 496.2,309.6 496.7,309.7 497.2,310.1 497.8,310.3 498.1,310.1 498.2,311.0 498.7,310.4 499.2,310.4 499.7,310.7 500.2,310.4 500.7,311.2 501.2,310.2 501.7,310.1 502.2,311.2 502.7,310.7 503.2,310.2 503.7,310.7 504.2,311.3 504.7,311.3 505.2,310.6 505.7,310.3 505.7,311.4 506.2,311.0 506.7,311.4 507.2,311.2 507.7,311.1 508.2,311.2 508.7,311.5 509.2,310.5 509.7,311.4 510.2,311.5 510.7,311.0 511.2,311.5 511.7,311.7 512.2,311.3 512.7,312.1 513.2,311.5 513.4,311.4" fill="none" stroke="#00a000" stroke-width="1.6" stroke-linejoin="round"/>
<polyline points="287.4,330.3 287.9,330.2 288.4,329.3 288.9,329.0 289.4,326.7 289.7,325.6 289.9,324.5 290.4,322.5 290.9,319.8 291.4,316.7 291.9,312.5 292.4,309.0 292.5,307.6 292.9,305.4 293.4,303.0 293.6,302.3 293.9,303.2 294.4,303.8 294.5,305.9 294.9,299.7 295.4,287.1 295.5,283.6 295.9,273.7 296.4,260.2 296.6,252.9 296.9,250.4 297.4,232.9 297.8,225.4 297.9,223.6 298.4,199.2 298.5,206.2 298.9,200.4 299.3,194.4 299.4,191.6 299.8,192.6 299.9,200.1 300.4,201.8 300.5,201.6 300.9,201.8 301.1,208.4 301.4,219.3 301.9,234.9 302.0,233.3 302.4,254.1 302.4,251.6 302.9,255.0 303.4,258.1 303.5,256.8 303.9,257.4 304.4,256.8 304.7,252.1 304.9,254.4 305.4,257.8 305.4,258.9 305.9,266.9 306.2,273.7 306.4,278.0 306.9,287.3 307.0,289.5 307.4,298.2 307.9,299.6 307.9,300.8 308.4,304.0 308.9,305.8 309.4,310.3 309.9,310.7 310.3,311.9 310.4,310.6 310.9,313.9 311.4,314.3 311.9,313.9 312.4,315.4 312.7,316.6 312.9,315.1 313.4,318.1 313.9,317.3 314.4,318.2 314.9,318.1 315.4,319.0 315.8,319.6 315.9,318.9 316.4,320.3 316.9,319.2 317.4,320.0 317.9,319.4 318.4,320.5 318.9,320.9 319.4,320.3 319.9,320.0 320.4,322.3 320.4,320.9 320.9,320.7 321.4,322.2 321.9,321.9 322.4,321.1 322.9,322.1 323.4,322.1 323.9,320.7 324.2,322.5 324.4,322.5 324.9,323.5 325.4,322.8 325.9,323.0 326.4,321.2 326.9,321.6 327.4,323.3 327.9,321.3 328.4,322.2 328.9,322.9 329.4,322.3 329.6,322.6 329.9,323.4 330.4,324.1 330.9,323.6 331.4,323.2 331.9,323.5 332.4,323.8 332.9,322.8 333.4,324.1 333.9,323.0 334.4,323.9 334.9,323.6 335.4,324.4 335.9,323.8 336.4,324.3 336.9,324.9 337.2,323.8 337.4,323.8 337.9,323.3 338.4,323.6 338.9,324.4 339.4,324.1 339.9,325.1 340.4,324.3 340.9,322.7 341.4,322.5 341.9,322.9 342.4,323.1 342.9,322.8 343.4,322.8 343.9,324.1 344.4,323.5 344.9,322.1 344.9,322.1 345.4,322.7 345.9,322.9 346.4,322.9 346.9,323.0 347.4,323.2 347.9,323.7 348.4,322.4 348.9,322.7 349.4,322.5 349.9,321.2 350.4,321.9 350.9,322.6 351.4,321.7 351.9,323.0 352.4,321.2 352.5,321.7 352.9,322.0 353.4,321.3 353.9,320.6 354.4,321.7 354.9,321.9 355.4,319.7 355.9,320.9 356.4,319.7 356.9,321.0 357.4,320.0 357.9,320.5 358.4,319.4 358.9,319.8 359.4,319.9 359.9,318.1 360.2,318.8 360.4,320.4 360.9,318.8 361.4,319.1 361.9,319.0 362.4,318.3 362.9,317.9 363.4,317.2 363.9,317.5 364.4,317.9 364.9,316.6 365.4,315.2 365.9,316.6 366.4,314.7 366.9,314.5 367.4,314.9 367.9,313.9 367.9,314.8 368.4,314.2 368.9,314.4 369.4,312.8 369.9,311.7 370.4,313.2 370.9,311.2 371.4,313.8 371.9,312.4 372.4,312.2 372.9,309.5 373.4,311.2 373.9,309.7 374.4,311.9 374.9,309.7 375.4,308.9 375.5,309.4 375.8,310.3 376.4,308.8 376.9,308.2 377.4,307.6 377.8,307.7 378.4,308.2 378.9,307.2 379.4,306.3 379.8,306.7 380.3,305.8 380.9,305.9 381.3,305.4 381.8,304.8 382.3,305.2 382.9,303.3 383.3,304.3 383.8,304.1 384.3,304.5 384.8,304.0 385.3,304.1 385.5,304.7 385.8,304.7 386.3,303.9 386.8,304.1 387.3,305.4 387.8,305.2 388.3,304.5 388.8,304.5 389.3,304.3 389.8,305.3 390.3,304.6 390.8,305.1 390.8,305.2 391.3,305.1 391.8,304.7 392.3,305.1 392.8,305.1 393.3,305.9 393.8,305.9 394.3,306.5 394.8,306.4 395.3,306.5 395.8,306.7 396.3,306.3 396.8,306.7 397.3,306.7 397.8,307.2 398.3,306.9 398.5,307.4 398.8,307.1 399.3,307.5 399.8,307.6 400.3,308.2 400.8,308.9 401.3,309.2 401.8,307.9 402.3,308.8 402.8,308.9 403.3,309.4 403.8,309.7 404.3,308.5 404.8,310.4 405.3,310.1 405.8,310.3 406.2,310.8 406.3,310.9 406.8,310.8 407.3,310.8 407.8,311.0 408.3,310.6 408.8,311.5 409.3,311.0 409.8,310.7 410.3,311.1 410.8,312.0 411.3,312.9 411.8,311.5 412.3,311.7 412.8,312.3 413.3,311.6 413.8,312.4 413.8,312.2 414.3,312.8 414.8,312.4 415.3,312.8 415.8,312.9 416.3,312.4 416.8,312.8 417.3,313.6 417.8,312.8 418.3,312.9 418.8,313.6 419.3,313.5 419.8,313.5 420.3,313.7 420.8,313.6 421.3,313.5 421.5,314.0 421.8,313.1 422.3,314.2 422.8,314.3 423.3,313.4 423.8,313.4 424.3,314.3 424.8,314.5 425.3,314.9 425.8,314.2 426.3,314.7 426.8,315.1 427.3,314.7 427.8,314.5 428.3,314.8 428.8,314.3 429.1,314.7 429.3,315.0 429.8,315.2 430.3,315.1 430.8,314.9 431.3,315.1 431.8,315.1 432.3,315.5 432.8,315.4 433.3,315.3 433.8,315.8 434.3,316.3 434.8,315.2 435.3,315.7 435.8,316.1 436.3,315.8 436.8,316.0 436.8,316.5 437.3,316.0 437.8,316.4 438.3,315.8 438.8,315.9 439.3,315.5 439.8,315.9 440.3,315.8 440.8,316.0 441.3,316.0 441.8,316.3 442.3,315.5 442.8,315.7 443.3,316.0 443.8,315.7 444.3,315.9 444.5,316.0 444.8,315.6 445.3,315.2 445.8,315.8 446.3,316.1 446.8,315.8 447.3,314.9 447.8,315.8 448.3,315.0 448.8,315.5 449.3,315.0 449.8,315.3 450.3,315.8 450.8,315.3 451.3,314.3 451.8,315.1 452.1,314.7 452.3,315.1 452.8,314.9 453.3,314.7 453.8,314.6 454.3,313.8 454.8,314.6 455.3,314.6 455.8,314.7 456.3,314.8 456.8,314.9 457.3,314.0 457.8,314.8 458.3,313.5 458.8,313.6 459.3,314.0 459.8,314.2 459.8,313.8 460.3,313.7 460.8,313.2 461.3,313.9 461.8,313.6 462.3,313.4 462.8,313.5 463.3,313.5 463.8,313.9 464.3,313.7 464.8,313.3 465.3,313.1 465.8,312.5 466.3,311.9 466.8,312.1 467.3,312.5 467.4,311.9 467.8,312.6 468.3,312.7 468.8,311.5 469.3,312.8 469.8,312.4 470.3,312.3 470.8,311.5 471.3,312.3 471.8,311.6 472.3,312.0 472.8,312.3 473.3,311.6 473.8,311.6 474.3,312.0 474.8,311.9 475.1,311.8 475.3,311.1 475.8,311.2 476.3,311.3 476.8,311.1 477.3,311.4 477.8,311.0 478.3,311.4 478.8,311.6 479.3,311.3 479.8,310.9 480.3,310.9 480.8,310.4 481.3,311.5 481.8,310.9 482.3,310.6 482.8,311.1 482.8,310.6 483.3,310.9 483.8,311.1 484.3,310.2 484.8,311.1 485.3,310.1 485.8,310.7 486.3,310.9 486.8,310.8 487.3,310.7 487.8,310.7 488.3,310.3 488.8,311.1 489.3,309.8 489.8,310.0 490.3,309.8 490.4,310.7 490.7,311.3 491.3,310.6 491.8,310.4 492.3,310.2 492.7,310.6 493.3,310.4 493.8,310.3 494.2,311.0 494.7,309.7 495.2,310.9 495.8,310.3 496.2,310.0 496.7,310.8 497.2,310.5 497.8,309.9 498.1,310.6 498.2,310.1 498.7,310.4 499.2,310.5 499.7,310.3 500.2,310.7 500.7,310.8 501.2,310.3 501.7,310.6 502.2,310.6 502.7,311.3 503.2,310.9 503.7,310.4 504.2,310.6 504.7,310.9 505.2,311.3 505.7,311.3 505.7,310.9 506.2,310.6 506.7,311.2 507.2,310.7 507.7,311.4 508.2,310.9 508.7,311.8 509.2,311.4 509.7,311.9 510.2,311.3 510.7,311.4 511.2,312.0 511.7,312.0 512.2,311.9 512.7,312.4 513.2,312.2 513.4,312.2" fill="none" stroke="#50ff00" stroke-width="1.6" stroke-linejoin="round"/>
<polyline points="287.4,331.2 287.9,330.8 288.4,331.3 288.9,330.9 289.3,330.3 289.4,330.4 289.9,328.6 290.4,325.5 290.9,322.8 291.4,320.0 291.5,320.0 291.9,316.3 292.4,315.3 292.9,311.1 293.2,309.8 293.4,304.9 293.9,289.8 294.0,287.7 294.4,272.8 294.7,265.7 294.9,264.8 295.4,260.3 295.4,252.8 295.9,246.5 295.9,240.3 296.4,233.7 296.9,226.8 297.0,221.8 297.4,217.8 297.8,212.9 297.9,214.5 298.4,206.6 298.7,206.6 298.9,210.0 299.4,209.1 299.5,216.6 299.9,218.0 300.2,228.0 300.4,243.4 300.5,235.8 300.8,252.4 300.9,265.5 301.1,279.4 301.4,283.1 301.8,287.6 301.9,289.0 302.4,294.0 302.9,299.9 303.3,301.8 303.4,303.8 303.9,306.0 304.3,307.5 304.4,309.5 304.9,313.0 305.4,316.3 305.5,316.3 305.9,316.6 306.4,318.1 306.9,318.8 307.4,320.6 307.9,320.2 307.9,319.4 308.4,320.8 308.9,320.8 309.4,321.3 309.9,319.9 310.4,321.2 310.9,321.6 311.4,320.8 311.9,320.6 312.4,321.1 312.7,320.9 312.9,321.4 313.4,321.8 313.9,322.1 314.4,322.3 314.9,322.5 315.4,322.0 315.9,322.5 316.4,322.5 316.9,322.3 317.4,322.8 317.9,323.7 318.1,323.4 318.4,323.6 318.9,324.2 319.4,323.0 319.9,323.9 320.4,324.0 320.9,323.9 321.4,322.7 321.9,323.5 322.4,322.7 322.9,323.5 323.4,323.7 323.9,323.1 324.0,323.1 324.4,323.4 324.9,324.1 325.4,323.7 325.9,324.1 326.4,323.5 326.9,323.3 327.4,322.4 327.9,322.4 328.4,322.9 328.9,322.7 329.4,323.1 329.6,321.5 329.9,322.3 330.4,321.6 330.9,323.0 331.4,322.9 331.9,322.5 332.4,323.0 332.9,322.9 333.4,323.7 333.9,322.5 334.4,322.9 334.9,322.5 335.4,323.1 335.9,324.1 336.4,322.6 336.9,322.1 337.2,323.7 337.4,323.5 337.9,323.0 338.4,322.9 338.9,323.8 339.4,321.5 339.9,322.0 340.4,322.9 340.9,323.7 341.4,322.2 341.9,321.1 342.4,321.7 342.9,321.5 343.4,322.7 343.9,321.9 344.4,323.0 344.9,320.6 344.9,321.5 345.4,323.2 345.9,323.0 346.4,321.3 346.9,321.5 347.4,321.7 347.9,321.0 348.4,319.9 348.9,320.9 349.4,322.3 349.9,321.1 350.4,321.7 350.9,321.3 351.4,320.4 351.9,320.6 352.4,321.1 352.5,320.4 352.9,320.9 353.4,319.8 353.9,320.2 354.4,319.7 354.9,320.0 355.4,319.1 355.6,319.7 355.9,319.5 356.4,319.7 356.9,319.0 357.4,320.2 357.9,316.8 358.4,319.0 358.9,318.2 359.4,318.4 359.9,318.2 360.4,317.3 360.9,317.7 361.4,317.3 361.9,317.8 362.4,317.2 362.9,317.1 363.4,314.5 363.9,316.7 364.4,316.3 364.8,315.0 364.9,314.0 365.4,316.2 365.9,315.8 366.4,314.1 366.9,313.6 367.4,314.8 367.9,314.8 368.4,313.7 368.9,311.9 369.4,312.3 369.9,311.2 370.4,311.7 370.9,311.3 371.4,310.4 371.9,310.8 372.4,310.2 372.9,311.0 373.2,310.5 373.4,309.5 373.9,309.9 374.4,310.2 374.9,308.7 375.4,308.6 375.8,308.9 376.4,309.0 376.9,308.1 377.4,307.2 377.8,308.5 378.4,308.7 378.9,308.2 379.4,308.1 379.8,308.1 380.1,308.0 380.3,307.0 380.9,306.8 381.3,306.4 381.8,306.6 382.3,306.9 382.9,306.1 383.3,306.7 383.8,306.4 384.3,306.6 384.8,305.4 385.3,305.4 385.8,306.0 386.3,305.9 386.8,305.7 387.0,305.6 387.3,305.3 387.8,305.7 388.3,305.6 388.8,306.5 389.3,306.0 389.8,306.7 390.3,305.1 390.8,305.3 391.3,305.7 391.8,305.6 392.3,305.2 392.8,305.8 393.3,307.0 393.8,306.5 394.3,307.5 394.7,306.9 394.8,307.1 395.3,306.6 395.8,306.5 396.3,307.2 396.8,307.0 397.3,306.9 397.8,307.2 398.3,307.4 398.8,308.5 399.3,307.8 399.8,307.3 400.3,307.7 400.8,308.6 401.3,308.3 401.8,308.2 402.3,308.8 402.3,308.1 402.8,308.9 403.3,308.8 403.8,308.9 404.3,308.1 404.8,309.3 405.3,309.6 405.8,309.2 406.3,309.9 406.8,309.8 407.3,311.0 407.8,310.1 408.3,310.4 408.8,311.1 409.3,310.2 409.8,311.0 410.0,311.0 410.3,311.6 410.8,311.8 411.3,311.6 411.8,312.1 412.3,311.5 412.8,311.5 413.3,312.2 413.8,312.7 414.3,312.4 414.8,312.8 415.3,312.5 415.8,312.6 416.3,313.0 416.8,313.0 417.3,312.7 417.6,312.6 417.8,313.5 418.3,313.2 418.8,313.7 419.3,314.2 419.8,313.5 420.3,314.0 420.8,314.3 421.3,314.3 421.5,314.6 421.8,315.0 422.3,314.0 422.8,314.5 423.3,314.8 423.8,314.7 424.3,314.6 424.8,315.2 425.3,315.1 425.8,315.5 426.3,315.2 426.8,315.6 427.3,314.7 427.8,315.8 428.3,315.6 428.8,315.6 429.1,316.0 429.3,315.5 429.8,316.0 430.3,316.1 430.8,316.1 431.3,316.4 431.8,315.8 432.3,316.0 432.8,316.0 433.3,316.9 433.8,316.3 434.3,316.8 434.8,316.5 435.3,316.1 435.8,316.5 436.3,316.7 436.8,316.2 436.8,316.3 437.3,316.0 437.8,317.3 438.3,316.5 438.8,316.7 439.3,316.9 439.8,316.5 440.3,317.0 440.8,317.3 441.3,316.8 441.8,316.6 442.3,315.8 442.8,316.7 443.3,316.9 443.8,317.1 444.3,316.5 444.5,316.5 444.8,316.3 445.3,316.9 445.8,316.6 446.3,317.1 446.8,316.2 447.3,316.8 447.8,317.1 448.3,315.7 448.8,315.9 449.3,315.9 449.8,315.8 450.3,316.3 450.8,315.4 451.3,316.1 451.8,315.0 452.1,315.6 452.3,316.3 452.8,315.2 453.3,314.8 453.8,315.5 454.3,315.0 454.8,315.4 455.3,315.4 455.8,316.1 456.3,314.6 456.8,315.1 457.3,314.7 457.8,315.2 458.3,315.1 458.8,314.2 459.3,314.7 459.8,314.6 459.8,315.0 460.3,314.3 460.8,314.1 461.3,314.4 461.8,314.3 462.3,314.6 462.8,313.5 463.3,314.2 463.8,313.9 464.3,313.2 464.8,313.8 465.3,314.2 465.8,313.9 466.3,313.6 466.8,312.8 467.3,313.3 467.4,313.4 467.8,313.0 468.3,312.7 468.8,313.4 469.3,312.5 469.8,312.6 470.3,312.7 470.8,313.7 471.3,312.6 471.8,312.1 472.3,312.7 472.8,311.6 473.3,312.4 473.8,312.7 474.3,312.0 474.8,312.1 475.1,311.9 475.3,312.2 475.8,311.6 476.3,312.3 476.8,311.9 477.3,312.4 477.8,312.2 478.3,311.7 478.8,312.0 479.3,311.9 479.8,311.7 480.3,311.5 480.8,311.3 481.3,311.2 481.8,311.1 482.3,311.4 482.8,311.6 482.8,312.0 483.3,311.5 483.8,311.7 484.3,312.0 484.8,310.6 485.3,312.0 485.8,311.0 486.3,310.9 486.8,311.2 487.3,310.1 487.8,311.1 488.3,311.4 488.8,310.3 489.3,311.4 489.8,311.6 490.3,311.4 490.4,311.3 490.7,311.0 491.3,310.9 491.8,311.6 492.3,310.9 492.7,310.1 493.3,311.3 493.8,311.1 494.2,310.8 494.7,310.6 495.2,311.4 495.8,311.5 496.2,311.5 496.7,310.7 497.2,310.8 497.8,312.1 498.1,312.1 498.2,311.7 498.7,311.9 499.2,311.1 499.7,311.2 500.2,310.5 500.7,311.0 501.2,311.4 501.7,311.0 502.2,311.8 502.7,312.1 503.2,311.5 503.7,311.2 504.2,312.3 504.7,311.3 505.2,311.4 505.7,312.0 505.7,311.7 506.2,311.9 506.7,311.8 507.2,311.6 507.7,312.3 508.2,311.6 508.7,311.7 509.2,311.8 509.7,313.0 510.2,313.0 510.7,312.0 511.2,312.6 511.7,312.6 512.2,312.7 512.7,313.0 513.2,312.6 513.4,312.8" fill="none" stroke="#0028fa" stroke-width="1.6" stroke-linejoin="round"/>
</g>
<rect x="35.30" y="7.60" width="230.20" height="153.80" fill="none" stroke="#4a4f55" stroke-width="1.2"/>
<line x1="35.30" y1="161.40" x2="35.30" y2="156.90" stroke="#222" stroke-width="1"/>
<line x1="35.30" y1="7.60" x2="35.30" y2="12.10" stroke="#222" stroke-width="1"/>
<line x1="54.48" y1="161.40" x2="54.48" y2="158.40" stroke="#222" stroke-width="1"/>
<line x1="54.48" y1="7.60" x2="54.48" y2="10.60" stroke="#222" stroke-width="1"/>
<line x1="73.67" y1="161.40" x2="73.67" y2="156.90" stroke="#222" stroke-width="1"/>
<line x1="73.67" y1="7.60" x2="73.67" y2="12.10" stroke="#222" stroke-width="1"/>
<line x1="92.85" y1="161.40" x2="92.85" y2="158.40" stroke="#222" stroke-width="1"/>
<line x1="92.85" y1="7.60" x2="92.85" y2="10.60" stroke="#222" stroke-width="1"/>
<line x1="112.03" y1="161.40" x2="112.03" y2="156.90" stroke="#222" stroke-width="1"/>
<line x1="112.03" y1="7.60" x2="112.03" y2="12.10" stroke="#222" stroke-width="1"/>
<line x1="131.22" y1="161.40" x2="131.22" y2="158.40" stroke="#222" stroke-width="1"/>
<line x1="131.22" y1="7.60" x2="131.22" y2="10.60" stroke="#222" stroke-width="1"/>
<line x1="150.40" y1="161.40" x2="150.40" y2="156.90" stroke="#222" stroke-width="1"/>
<line x1="150.40" y1="7.60" x2="150.40" y2="12.10" stroke="#222" stroke-width="1"/>
<line x1="169.58" y1="161.40" x2="169.58" y2="158.40" stroke="#222" stroke-width="1"/>
<line x1="169.58" y1="7.60" x2="169.58" y2="10.60" stroke="#222" stroke-width="1"/>
<line x1="188.77" y1="161.40" x2="188.77" y2="156.90" stroke="#222" stroke-width="1"/>
<line x1="188.77" y1="7.60" x2="188.77" y2="12.10" stroke="#222" stroke-width="1"/>
<line x1="207.95" y1="161.40" x2="207.95" y2="158.40" stroke="#222" stroke-width="1"/>
<line x1="207.95" y1="7.60" x2="207.95" y2="10.60" stroke="#222" stroke-width="1"/>
<line x1="227.13" y1="161.40" x2="227.13" y2="156.90" stroke="#222" stroke-width="1"/>
<line x1="227.13" y1="7.60" x2="227.13" y2="12.10" stroke="#222" stroke-width="1"/>
<line x1="246.32" y1="161.40" x2="246.32" y2="158.40" stroke="#222" stroke-width="1"/>
<line x1="246.32" y1="7.60" x2="246.32" y2="10.60" stroke="#222" stroke-width="1"/>
<line x1="265.50" y1="161.40" x2="265.50" y2="156.90" stroke="#222" stroke-width="1"/>
<line x1="265.50" y1="7.60" x2="265.50" y2="12.10" stroke="#222" stroke-width="1"/>
<line x1="35.30" y1="161.40" x2="39.80" y2="161.40" stroke="#222" stroke-width="1"/>
<line x1="265.50" y1="161.40" x2="261.00" y2="161.40" stroke="#222" stroke-width="1"/>
<line x1="35.30" y1="151.79" x2="38.30" y2="151.79" stroke="#222" stroke-width="1"/>
<line x1="265.50" y1="151.79" x2="262.50" y2="151.79" stroke="#222" stroke-width="1"/>
<line x1="35.30" y1="142.18" x2="39.80" y2="142.18" stroke="#222" stroke-width="1"/>
<line x1="265.50" y1="142.18" x2="261.00" y2="142.18" stroke="#222" stroke-width="1"/>
<line x1="35.30" y1="132.56" x2="38.30" y2="132.56" stroke="#222" stroke-width="1"/>
<line x1="265.50" y1="132.56" x2="262.50" y2="132.56" stroke="#222" stroke-width="1"/>
<line x1="35.30" y1="122.95" x2="39.80" y2="122.95" stroke="#222" stroke-width="1"/>
<line x1="265.50" y1="122.95" x2="261.00" y2="122.95" stroke="#222" stroke-width="1"/>
<line x1="35.30" y1="113.34" x2="38.30" y2="113.34" stroke="#222" stroke-width="1"/>
<line x1="265.50" y1="113.34" x2="262.50" y2="113.34" stroke="#222" stroke-width="1"/>
<line x1="35.30" y1="103.72" x2="39.80" y2="103.72" stroke="#222" stroke-width="1"/>
<line x1="265.50" y1="103.72" x2="261.00" y2="103.72" stroke="#222" stroke-width="1"/>
<line x1="35.30" y1="94.11" x2="38.30" y2="94.11" stroke="#222" stroke-width="1"/>
<line x1="265.50" y1="94.11" x2="262.50" y2="94.11" stroke="#222" stroke-width="1"/>
<line x1="35.30" y1="84.50" x2="39.80" y2="84.50" stroke="#222" stroke-width="1"/>
<line x1="265.50" y1="84.50" x2="261.00" y2="84.50" stroke="#222" stroke-width="1"/>
<line x1="35.30" y1="74.89" x2="38.30" y2="74.89" stroke="#222" stroke-width="1"/>
<line x1="265.50" y1="74.89" x2="262.50" y2="74.89" stroke="#222" stroke-width="1"/>
<line x1="35.30" y1="65.28" x2="39.80" y2="65.28" stroke="#222" stroke-width="1"/>
<line x1="265.50" y1="65.28" x2="261.00" y2="65.28" stroke="#222" stroke-width="1"/>
<line x1="35.30" y1="55.66" x2="38.30" y2="55.66" stroke="#222" stroke-width="1"/>
<line x1="265.50" y1="55.66" x2="262.50" y2="55.66" stroke="#222" stroke-width="1"/>
<line x1="35.30" y1="46.05" x2="39.80" y2="46.05" stroke="#222" stroke-width="1"/>
<line x1="265.50" y1="46.05" x2="261.00" y2="46.05" stroke="#222" stroke-width="1"/>
<line x1="35.30" y1="36.44" x2="38.30" y2="36.44" stroke="#222" stroke-width="1"/>
<line x1="265.50" y1="36.44" x2="262.50" y2="36.44" stroke="#222" stroke-width="1"/>
<line x1="35.30" y1="26.82" x2="39.80" y2="26.82" stroke="#222" stroke-width="1"/>
<line x1="265.50" y1="26.82" x2="261.00" y2="26.82" stroke="#222" stroke-width="1"/>
<line x1="35.30" y1="17.21" x2="38.30" y2="17.21" stroke="#222" stroke-width="1"/>
<line x1="265.50" y1="17.21" x2="262.50" y2="17.21" stroke="#222" stroke-width="1"/>
<line x1="35.30" y1="7.60" x2="39.80" y2="7.60" stroke="#222" stroke-width="1"/>
<line x1="265.50" y1="7.60" x2="261.00" y2="7.60" stroke="#222" stroke-width="1"/>
<text transform="translate(34.50,172.50) scale(1,1.18)" font-size="13" text-anchor="middle" fill="#111" color="#111" style="stroke-width:0.15px">0</text>
<text transform="translate(73.67,172.50) scale(1,1.18)" font-size="13" text-anchor="middle" fill="#111" color="#111" style="stroke-width:0.15px">5</text>
<text transform="translate(112.03,172.50) scale(1,1.18)" font-size="13" text-anchor="middle" fill="#111" color="#111" style="stroke-width:0.15px">10</text>
<text transform="translate(150.40,172.50) scale(1,1.18)" font-size="13" text-anchor="middle" fill="#111" color="#111" style="stroke-width:0.15px">15</text>
<text transform="translate(188.77,172.50) scale(1,1.18)" font-size="13" text-anchor="middle" fill="#111" color="#111" style="stroke-width:0.15px">20</text>
<text transform="translate(227.13,172.50) scale(1,1.18)" font-size="13" text-anchor="middle" fill="#111" color="#111" style="stroke-width:0.15px">25</text>
<text transform="translate(265.50,172.50) scale(1,1.18)" font-size="13" text-anchor="middle" fill="#111" color="#111" style="stroke-width:0.15px">30</text>
<text transform="translate(35.00,165.20) scale(1,1.18)" font-size="13" text-anchor="end" fill="#111" color="#111" style="stroke-width:0.15px">0</text>
<text transform="translate(35.00,145.98) scale(1,1.18)" font-size="13" text-anchor="end" fill="#111" color="#111" style="stroke-width:0.15px">1</text>
<text transform="translate(35.00,126.75) scale(1,1.18)" font-size="13" text-anchor="end" fill="#111" color="#111" style="stroke-width:0.15px">2</text>
<text transform="translate(35.00,107.52) scale(1,1.18)" font-size="13" text-anchor="end" fill="#111" color="#111" style="stroke-width:0.15px">3</text>
<text transform="translate(35.00,88.30) scale(1,1.18)" font-size="13" text-anchor="end" fill="#111" color="#111" style="stroke-width:0.15px">4</text>
<text transform="translate(35.00,69.08) scale(1,1.18)" font-size="13" text-anchor="end" fill="#111" color="#111" style="stroke-width:0.15px">5</text>
<text transform="translate(35.00,49.85) scale(1,1.18)" font-size="13" text-anchor="end" fill="#111" color="#111" style="stroke-width:0.15px">6</text>
<text transform="translate(35.00,30.62) scale(1,1.18)" font-size="13" text-anchor="end" fill="#111" color="#111" style="stroke-width:0.15px">7</text>
<text transform="translate(35.00,11.40) scale(1,1.18)" font-size="13" text-anchor="end" fill="#111" color="#111" style="stroke-width:0.15px">8</text>
<text x="257.00" y="34.00" font-size="27" text-anchor="end" fill="#ff0a1e" color="#ff0a1e">A</text>
<rect x="283.60" y="7.60" width="229.80" height="153.80" fill="none" stroke="#4a4f55" stroke-width="1.2"/>
<line x1="283.60" y1="161.40" x2="283.60" y2="156.90" stroke="#222" stroke-width="1"/>
<line x1="283.60" y1="7.60" x2="283.60" y2="12.10" stroke="#222" stroke-width="1"/>
<line x1="302.75" y1="161.40" x2="302.75" y2="158.40" stroke="#222" stroke-width="1"/>
<line x1="302.75" y1="7.60" x2="302.75" y2="10.60" stroke="#222" stroke-width="1"/>
<line x1="321.90" y1="161.40" x2="321.90" y2="156.90" stroke="#222" stroke-width="1"/>
<line x1="321.90" y1="7.60" x2="321.90" y2="12.10" stroke="#222" stroke-width="1"/>
<line x1="341.05" y1="161.40" x2="341.05" y2="158.40" stroke="#222" stroke-width="1"/>
<line x1="341.05" y1="7.60" x2="341.05" y2="10.60" stroke="#222" stroke-width="1"/>
<line x1="360.20" y1="161.40" x2="360.20" y2="156.90" stroke="#222" stroke-width="1"/>
<line x1="360.20" y1="7.60" x2="360.20" y2="12.10" stroke="#222" stroke-width="1"/>
<line x1="379.35" y1="161.40" x2="379.35" y2="158.40" stroke="#222" stroke-width="1"/>
<line x1="379.35" y1="7.60" x2="379.35" y2="10.60" stroke="#222" stroke-width="1"/>
<line x1="398.50" y1="161.40" x2="398.50" y2="156.90" stroke="#222" stroke-width="1"/>
<line x1="398.50" y1="7.60" x2="398.50" y2="12.10" stroke="#222" stroke-width="1"/>
<line x1="417.65" y1="161.40" x2="417.65" y2="158.40" stroke="#222" stroke-width="1"/>
<line x1="417.65" y1="7.60" x2="417.65" y2="10.60" stroke="#222" stroke-width="1"/>
<line x1="436.80" y1="161.40" x2="436.80" y2="156.90" stroke="#222" stroke-width="1"/>
<line x1="436.80" y1="7.60" x2="436.80" y2="12.10" stroke="#222" stroke-width="1"/>
<line x1="455.95" y1="161.40" x2="455.95" y2="158.40" stroke="#222" stroke-width="1"/>
<line x1="455.95" y1="7.60" x2="455.95" y2="10.60" stroke="#222" stroke-width="1"/>
<line x1="475.10" y1="161.40" x2="475.10" y2="156.90" stroke="#222" stroke-width="1"/>
<line x1="475.10" y1="7.60" x2="475.10" y2="12.10" stroke="#222" stroke-width="1"/>
<line x1="494.25" y1="161.40" x2="494.25" y2="158.40" stroke="#222" stroke-width="1"/>
<line x1="494.25" y1="7.60" x2="494.25" y2="10.60" stroke="#222" stroke-width="1"/>
<line x1="513.40" y1="161.40" x2="513.40" y2="156.90" stroke="#222" stroke-width="1"/>
<line x1="513.40" y1="7.60" x2="513.40" y2="12.10" stroke="#222" stroke-width="1"/>
<line x1="283.60" y1="161.40" x2="288.10" y2="161.40" stroke="#222" stroke-width="1"/>
<line x1="513.40" y1="161.40" x2="508.90" y2="161.40" stroke="#222" stroke-width="1"/>
<line x1="283.60" y1="148.58" x2="286.60" y2="148.58" stroke="#222" stroke-width="1"/>
<line x1="513.40" y1="148.58" x2="510.40" y2="148.58" stroke="#222" stroke-width="1"/>
<line x1="283.60" y1="135.77" x2="288.10" y2="135.77" stroke="#222" stroke-width="1"/>
<line x1="513.40" y1="135.77" x2="508.90" y2="135.77" stroke="#222" stroke-width="1"/>
<line x1="283.60" y1="122.95" x2="286.60" y2="122.95" stroke="#222" stroke-width="1"/>
<line x1="513.40" y1="122.95" x2="510.40" y2="122.95" stroke="#222" stroke-width="1"/>
<line x1="283.60" y1="110.13" x2="288.10" y2="110.13" stroke="#222" stroke-width="1"/>
<line x1="513.40" y1="110.13" x2="508.90" y2="110.13" stroke="#222" stroke-width="1"/>
<line x1="283.60" y1="97.32" x2="286.60" y2="97.32" stroke="#222" stroke-width="1"/>
<line x1="513.40" y1="97.32" x2="510.40" y2="97.32" stroke="#222" stroke-width="1"/>
<line x1="283.60" y1="84.50" x2="288.10" y2="84.50" stroke="#222" stroke-width="1"/>
<line x1="513.40" y1="84.50" x2="508.90" y2="84.50" stroke="#222" stroke-width="1"/>
<line x1="283.60" y1="71.68" x2="286.60" y2="71.68" stroke="#222" stroke-width="1"/>
<line x1="513.40" y1="71.68" x2="510.40" y2="71.68" stroke="#222" stroke-width="1"/>
<line x1="283.60" y1="58.87" x2="288.10" y2="58.87" stroke="#222" stroke-width="1"/>
<line x1="513.40" y1="58.87" x2="508.90" y2="58.87" stroke="#222" stroke-width="1"/>
<line x1="283.60" y1="46.05" x2="286.60" y2="46.05" stroke="#222" stroke-width="1"/>
<line x1="513.40" y1="46.05" x2="510.40" y2="46.05" stroke="#222" stroke-width="1"/>
<line x1="283.60" y1="33.23" x2="288.10" y2="33.23" stroke="#222" stroke-width="1"/>
<line x1="513.40" y1="33.23" x2="508.90" y2="33.23" stroke="#222" stroke-width="1"/>
<line x1="283.60" y1="20.42" x2="286.60" y2="20.42" stroke="#222" stroke-width="1"/>
<line x1="513.40" y1="20.42" x2="510.40" y2="20.42" stroke="#222" stroke-width="1"/>
<line x1="283.60" y1="7.60" x2="288.10" y2="7.60" stroke="#222" stroke-width="1"/>
<line x1="513.40" y1="7.60" x2="508.90" y2="7.60" stroke="#222" stroke-width="1"/>
<text transform="translate(282.80,172.50) scale(1,1.18)" font-size="13" text-anchor="middle" fill="#111" color="#111" style="stroke-width:0.15px">0</text>
<text transform="translate(321.90,172.50) scale(1,1.18)" font-size="13" text-anchor="middle" fill="#111" color="#111" style="stroke-width:0.15px">5</text>
<text transform="translate(360.20,172.50) scale(1,1.18)" font-size="13" text-anchor="middle" fill="#111" color="#111" style="stroke-width:0.15px">10</text>
<text transform="translate(398.50,172.50) scale(1,1.18)" font-size="13" text-anchor="middle" fill="#111" color="#111" style="stroke-width:0.15px">15</text>
<text transform="translate(436.80,172.50) scale(1,1.18)" font-size="13" text-anchor="middle" fill="#111" color="#111" style="stroke-width:0.15px">20</text>
<text transform="translate(475.10,172.50) scale(1,1.18)" font-size="13" text-anchor="middle" fill="#111" color="#111" style="stroke-width:0.15px">25</text>
<text transform="translate(513.40,172.50) scale(1,1.18)" font-size="13" text-anchor="middle" fill="#111" color="#111" style="stroke-width:0.15px">30</text>
<text transform="translate(283.30,165.20) scale(1,1.18)" font-size="13" text-anchor="end" fill="#111" color="#111" style="stroke-width:0.15px">0</text>
<text transform="translate(283.30,139.57) scale(1,1.18)" font-size="13" text-anchor="end" fill="#111" color="#111" style="stroke-width:0.15px">1</text>
<text transform="translate(283.30,113.93) scale(1,1.18)" font-size="13" text-anchor="end" fill="#111" color="#111" style="stroke-width:0.15px">2</text>
<text transform="translate(283.30,88.30) scale(1,1.18)" font-size="13" text-anchor="end" fill="#111" color="#111" style="stroke-width:0.15px">3</text>
<text transform="translate(283.30,62.67) scale(1,1.18)" font-size="13" text-anchor="end" fill="#111" color="#111" style="stroke-width:0.15px">4</text>
<text transform="translate(283.30,37.03) scale(1,1.18)" font-size="13" text-anchor="end" fill="#111" color="#111" style="stroke-width:0.15px">5</text>
<text transform="translate(283.30,11.40) scale(1,1.18)" font-size="13" text-anchor="end" fill="#111" color="#111" style="stroke-width:0.15px">6</text>
<text x="503.20" y="34.00" font-size="27" text-anchor="end" fill="#ff0a1e" color="#ff0a1e">B</text>
<rect x="35.30" y="178.30" width="230.20" height="154.20" fill="none" stroke="#4a4f55" stroke-width="1.2"/>
<line x1="35.30" y1="332.50" x2="35.30" y2="328.00" stroke="#222" stroke-width="1"/>
<line x1="35.30" y1="178.30" x2="35.30" y2="182.80" stroke="#222" stroke-width="1"/>
<line x1="58.32" y1="332.50" x2="58.32" y2="329.50" stroke="#222" stroke-width="1"/>
<line x1="58.32" y1="178.30" x2="58.32" y2="181.30" stroke="#222" stroke-width="1"/>
<line x1="81.34" y1="332.50" x2="81.34" y2="328.00" stroke="#222" stroke-width="1"/>
<line x1="81.34" y1="178.30" x2="81.34" y2="182.80" stroke="#222" stroke-width="1"/>
<line x1="104.36" y1="332.50" x2="104.36" y2="329.50" stroke="#222" stroke-width="1"/>
<line x1="104.36" y1="178.30" x2="104.36" y2="181.30" stroke="#222" stroke-width="1"/>
<line x1="127.38" y1="332.50" x2="127.38" y2="328.00" stroke="#222" stroke-width="1"/>
<line x1="127.38" y1="178.30" x2="127.38" y2="182.80" stroke="#222" stroke-width="1"/>
<line x1="150.40" y1="332.50" x2="150.40" y2="329.50" stroke="#222" stroke-width="1"/>
<line x1="150.40" y1="178.30" x2="150.40" y2="181.30" stroke="#222" stroke-width="1"/>
<line x1="173.42" y1="332.50" x2="173.42" y2="328.00" stroke="#222" stroke-width="1"/>
<line x1="173.42" y1="178.30" x2="173.42" y2="182.80" stroke="#222" stroke-width="1"/>
<line x1="196.44" y1="332.50" x2="196.44" y2="329.50" stroke="#222" stroke-width="1"/>
<line x1="196.44" y1="178.30" x2="196.44" y2="181.30" stroke="#222" stroke-width="1"/>
<line x1="219.46" y1="332.50" x2="219.46" y2="328.00" stroke="#222" stroke-width="1"/>
<line x1="219.46" y1="178.30" x2="219.46" y2="182.80" stroke="#222" stroke-width="1"/>
<line x1="242.48" y1="332.50" x2="242.48" y2="329.50" stroke="#222" stroke-width="1"/>
<line x1="242.48" y1="178.30" x2="242.48" y2="181.30" stroke="#222" stroke-width="1"/>
<line x1="265.50" y1="332.50" x2="265.50" y2="328.00" stroke="#222" stroke-width="1"/>
<line x1="265.50" y1="178.30" x2="265.50" y2="182.80" stroke="#222" stroke-width="1"/>
<line x1="35.30" y1="332.50" x2="39.80" y2="332.50" stroke="#222" stroke-width="1"/>
<line x1="265.50" y1="332.50" x2="261.00" y2="332.50" stroke="#222" stroke-width="1"/>
<line x1="35.30" y1="313.23" x2="38.30" y2="313.23" stroke="#222" stroke-width="1"/>
<line x1="265.50" y1="313.23" x2="262.50" y2="313.23" stroke="#222" stroke-width="1"/>
<line x1="35.30" y1="293.95" x2="39.80" y2="293.95" stroke="#222" stroke-width="1"/>
<line x1="265.50" y1="293.95" x2="261.00" y2="293.95" stroke="#222" stroke-width="1"/>
<line x1="35.30" y1="274.68" x2="38.30" y2="274.68" stroke="#222" stroke-width="1"/>
<line x1="265.50" y1="274.68" x2="262.50" y2="274.68" stroke="#222" stroke-width="1"/>
<line x1="35.30" y1="255.40" x2="39.80" y2="255.40" stroke="#222" stroke-width="1"/>
<line x1="265.50" y1="255.40" x2="261.00" y2="255.40" stroke="#222" stroke-width="1"/>
<line x1="35.30" y1="236.12" x2="38.30" y2="236.12" stroke="#222" stroke-width="1"/>
<line x1="265.50" y1="236.12" x2="262.50" y2="236.12" stroke="#222" stroke-width="1"/>
<line x1="35.30" y1="216.85" x2="39.80" y2="216.85" stroke="#222" stroke-width="1"/>
<line x1="265.50" y1="216.85" x2="261.00" y2="216.85" stroke="#222" stroke-width="1"/>
<line x1="35.30" y1="197.58" x2="38.30" y2="197.58" stroke="#222" stroke-width="1"/>
<line x1="265.50" y1="197.58" x2="262.50" y2="197.58" stroke="#222" stroke-width="1"/>
<line x1="35.30" y1="178.30" x2="39.80" y2="178.30" stroke="#222" stroke-width="1"/>
<line x1="265.50" y1="178.30" x2="261.00" y2="178.30" stroke="#222" stroke-width="1"/>
<text transform="translate(34.50,344.40) scale(1,1.18)" font-size="13" text-anchor="middle" fill="#111" color="#111" style="stroke-width:0.15px">0</text>
<text transform="translate(81.34,344.40) scale(1,1.18)" font-size="13" text-anchor="middle" fill="#111" color="#111" style="stroke-width:0.15px">10</text>
<text transform="translate(127.38,344.40) scale(1,1.18)" font-size="13" text-anchor="middle" fill="#111" color="#111" style="stroke-width:0.15px">20</text>
<text transform="translate(173.42,344.40) scale(1,1.18)" font-size="13" text-anchor="middle" fill="#111" color="#111" style="stroke-width:0.15px">30</text>
<text transform="translate(219.46,344.40) scale(1,1.18)" font-size="13" text-anchor="middle" fill="#111" color="#111" style="stroke-width:0.15px">40</text>
<text transform="translate(265.50,344.40) scale(1,1.18)" font-size="13" text-anchor="middle" fill="#111" color="#111" style="stroke-width:0.15px">50</text>
<text transform="translate(35.00,336.30) scale(1,1.18)" font-size="13" text-anchor="end" fill="#111" color="#111" style="stroke-width:0.15px">0.0</text>
<text transform="translate(35.00,297.75) scale(1,1.18)" font-size="13" text-anchor="end" fill="#111" color="#111" style="stroke-width:0.15px">0.5</text>
<text transform="translate(35.00,259.20) scale(1,1.18)" font-size="13" text-anchor="end" fill="#111" color="#111" style="stroke-width:0.15px">1.0</text>
<text transform="translate(35.00,220.65) scale(1,1.18)" font-size="13" text-anchor="end" fill="#111" color="#111" style="stroke-width:0.15px">1.5</text>
<text transform="translate(35.00,182.10) scale(1,1.18)" font-size="13" text-anchor="end" fill="#111" color="#111" style="stroke-width:0.15px">2.0</text>
<text x="257.10" y="204.60" font-size="27" text-anchor="end" fill="#ff0a1e" color="#ff0a1e">C</text>
<rect x="283.60" y="178.30" width="229.80" height="154.20" fill="none" stroke="#4a4f55" stroke-width="1.2"/>
<line x1="283.60" y1="332.50" x2="283.60" y2="328.00" stroke="#222" stroke-width="1"/>
<line x1="283.60" y1="178.30" x2="283.60" y2="182.80" stroke="#222" stroke-width="1"/>
<line x1="302.75" y1="332.50" x2="302.75" y2="329.50" stroke="#222" stroke-width="1"/>
<line x1="302.75" y1="178.30" x2="302.75" y2="181.30" stroke="#222" stroke-width="1"/>
<line x1="321.90" y1="332.50" x2="321.90" y2="328.00" stroke="#222" stroke-width="1"/>
<line x1="321.90" y1="178.30" x2="321.90" y2="182.80" stroke="#222" stroke-width="1"/>
<line x1="341.05" y1="332.50" x2="341.05" y2="329.50" stroke="#222" stroke-width="1"/>
<line x1="341.05" y1="178.30" x2="341.05" y2="181.30" stroke="#222" stroke-width="1"/>
<line x1="360.20" y1="332.50" x2="360.20" y2="328.00" stroke="#222" stroke-width="1"/>
<line x1="360.20" y1="178.30" x2="360.20" y2="182.80" stroke="#222" stroke-width="1"/>
<line x1="379.35" y1="332.50" x2="379.35" y2="329.50" stroke="#222" stroke-width="1"/>
<line x1="379.35" y1="178.30" x2="379.35" y2="181.30" stroke="#222" stroke-width="1"/>
<line x1="398.50" y1="332.50" x2="398.50" y2="328.00" stroke="#222" stroke-width="1"/>
<line x1="398.50" y1="178.30" x2="398.50" y2="182.80" stroke="#222" stroke-width="1"/>
<line x1="417.65" y1="332.50" x2="417.65" y2="329.50" stroke="#222" stroke-width="1"/>
<line x1="417.65" y1="178.30" x2="417.65" y2="181.30" stroke="#222" stroke-width="1"/>
<line x1="436.80" y1="332.50" x2="436.80" y2="328.00" stroke="#222" stroke-width="1"/>
<line x1="436.80" y1="178.30" x2="436.80" y2="182.80" stroke="#222" stroke-width="1"/>
<line x1="455.95" y1="332.50" x2="455.95" y2="329.50" stroke="#222" stroke-width="1"/>
<line x1="455.95" y1="178.30" x2="455.95" y2="181.30" stroke="#222" stroke-width="1"/>
<line x1="475.10" y1="332.50" x2="475.10" y2="328.00" stroke="#222" stroke-width="1"/>
<line x1="475.10" y1="178.30" x2="475.10" y2="182.80" stroke="#222" stroke-width="1"/>
<line x1="494.25" y1="332.50" x2="494.25" y2="329.50" stroke="#222" stroke-width="1"/>
<line x1="494.25" y1="178.30" x2="494.25" y2="181.30" stroke="#222" stroke-width="1"/>
<line x1="513.40" y1="332.50" x2="513.40" y2="328.00" stroke="#222" stroke-width="1"/>
<line x1="513.40" y1="178.30" x2="513.40" y2="182.80" stroke="#222" stroke-width="1"/>
<line x1="283.60" y1="332.50" x2="288.10" y2="332.50" stroke="#222" stroke-width="1"/>
<line x1="513.40" y1="332.50" x2="508.90" y2="332.50" stroke="#222" stroke-width="1"/>
<line x1="283.60" y1="322.86" x2="286.60" y2="322.86" stroke="#222" stroke-width="1"/>
<line x1="513.40" y1="322.86" x2="510.40" y2="322.86" stroke="#222" stroke-width="1"/>
<line x1="283.60" y1="313.23" x2="288.10" y2="313.23" stroke="#222" stroke-width="1"/>
<line x1="513.40" y1="313.23" x2="508.90" y2="313.23" stroke="#222" stroke-width="1"/>
<line x1="283.60" y1="303.59" x2="286.60" y2="303.59" stroke="#222" stroke-width="1"/>
<line x1="513.40" y1="303.59" x2="510.40" y2="303.59" stroke="#222" stroke-width="1"/>
<line x1="283.60" y1="293.95" x2="288.10" y2="293.95" stroke="#222" stroke-width="1"/>
<line x1="513.40" y1="293.95" x2="508.90" y2="293.95" stroke="#222" stroke-width="1"/>
<line x1="283.60" y1="284.31" x2="286.60" y2="284.31" stroke="#222" stroke-width="1"/>
<line x1="513.40" y1="284.31" x2="510.40" y2="284.31" stroke="#222" stroke-width="1"/>
<line x1="283.60" y1="274.68" x2="288.10" y2="274.68" stroke="#222" stroke-width="1"/>
<line x1="513.40" y1="274.68" x2="508.90" y2="274.68" stroke="#222" stroke-width="1"/>
<line x1="283.60" y1="265.04" x2="286.60" y2="265.04" stroke="#222" stroke-width="1"/>
<line x1="513.40" y1="265.04" x2="510.40" y2="265.04" stroke="#222" stroke-width="1"/>
<line x1="283.60" y1="255.40" x2="288.10" y2="255.40" stroke="#222" stroke-width="1"/>
<line x1="513.40" y1="255.40" x2="508.90" y2="255.40" stroke="#222" stroke-width="1"/>
<line x1="283.60" y1="245.76" x2="286.60" y2="245.76" stroke="#222" stroke-width="1"/>
<line x1="513.40" y1="245.76" x2="510.40" y2="245.76" stroke="#222" stroke-width="1"/>
<line x1="283.60" y1="236.12" x2="288.10" y2="236.12" stroke="#222" stroke-width="1"/>
<line x1="513.40" y1="236.12" x2="508.90" y2="236.12" stroke="#222" stroke-width="1"/>
<line x1="283.60" y1="226.49" x2="286.60" y2="226.49" stroke="#222" stroke-width="1"/>
<line x1="513.40" y1="226.49" x2="510.40" y2="226.49" stroke="#222" stroke-width="1"/>
<line x1="283.60" y1="216.85" x2="288.10" y2="216.85" stroke="#222" stroke-width="1"/>
<line x1="513.40" y1="216.85" x2="508.90" y2="216.85" stroke="#222" stroke-width="1"/>
<line x1="283.60" y1="207.21" x2="286.60" y2="207.21" stroke="#222" stroke-width="1"/>
<line x1="513.40" y1="207.21" x2="510.40" y2="207.21" stroke="#222" stroke-width="1"/>
<line x1="283.60" y1="197.58" x2="288.10" y2="197.58" stroke="#222" stroke-width="1"/>
<line x1="513.40" y1="197.58" x2="508.90" y2="197.58" stroke="#222" stroke-width="1"/>
<line x1="283.60" y1="187.94" x2="286.60" y2="187.94" stroke="#222" stroke-width="1"/>
<line x1="513.40" y1="187.94" x2="510.40" y2="187.94" stroke="#222" stroke-width="1"/>
<line x1="283.60" y1="178.30" x2="288.10" y2="178.30" stroke="#222" stroke-width="1"/>
<line x1="513.40" y1="178.30" x2="508.90" y2="178.30" stroke="#222" stroke-width="1"/>
<text transform="translate(282.80,344.40) scale(1,1.18)" font-size="13" text-anchor="middle" fill="#111" color="#111" style="stroke-width:0.15px">0</text>
<text transform="translate(321.90,344.40) scale(1,1.18)" font-size="13" text-anchor="middle" fill="#111" color="#111" style="stroke-width:0.15px">5</text>
<text transform="translate(360.20,344.40) scale(1,1.18)" font-size="13" text-anchor="middle" fill="#111" color="#111" style="stroke-width:0.15px">10</text>
<text transform="translate(398.50,344.40) scale(1,1.18)" font-size="13" text-anchor="middle" fill="#111" color="#111" style="stroke-width:0.15px">15</text>
<text transform="translate(436.80,344.40) scale(1,1.18)" font-size="13" text-anchor="middle" fill="#111" color="#111" style="stroke-width:0.15px">20</text>
<text transform="translate(475.10,344.40) scale(1,1.18)" font-size="13" text-anchor="middle" fill="#111" color="#111" style="stroke-width:0.15px">25</text>
<text transform="translate(513.40,344.40) scale(1,1.18)" font-size="13" text-anchor="middle" fill="#111" color="#111" style="stroke-width:0.15px">30</text>
<text transform="translate(283.30,336.30) scale(1,1.18)" font-size="13" text-anchor="end" fill="#111" color="#111" style="stroke-width:0.15px">0</text>
<text transform="translate(283.30,317.03) scale(1,1.18)" font-size="13" text-anchor="end" fill="#111" color="#111" style="stroke-width:0.15px">1</text>
<text transform="translate(283.30,297.75) scale(1,1.18)" font-size="13" text-anchor="end" fill="#111" color="#111" style="stroke-width:0.15px">2</text>
<text transform="translate(283.30,278.48) scale(1,1.18)" font-size="13" text-anchor="end" fill="#111" color="#111" style="stroke-width:0.15px">3</text>
<text transform="translate(283.30,259.20) scale(1,1.18)" font-size="13" text-anchor="end" fill="#111" color="#111" style="stroke-width:0.15px">4</text>
<text transform="translate(283.30,239.93) scale(1,1.18)" font-size="13" text-anchor="end" fill="#111" color="#111" style="stroke-width:0.15px">5</text>
<text transform="translate(283.30,220.65) scale(1,1.18)" font-size="13" text-anchor="end" fill="#111" color="#111" style="stroke-width:0.15px">6</text>
<text transform="translate(283.30,201.38) scale(1,1.18)" font-size="13" text-anchor="end" fill="#111" color="#111" style="stroke-width:0.15px">7</text>
<text transform="translate(283.30,182.10) scale(1,1.18)" font-size="13" text-anchor="end" fill="#111" color="#111" style="stroke-width:0.15px">8</text>
<text x="504.70" y="205.60" font-size="27" text-anchor="end" fill="#ff0a1e" color="#ff0a1e">D</text>
<line x1="67.2" y1="192.50" x2="95.3" y2="192.50" stroke="#3a1ee6" stroke-width="1.8"/>
<text x="100" y="197.00" font-size="14.9" fill="#111" color="#111" style="stroke-width:0.08px">[BMIM]Cl at 300 K</text>
<line x1="67.2" y1="210.70" x2="95.3" y2="210.70" stroke="#aa1cf0" stroke-width="1.8"/>
<text x="100" y="215.20" font-size="14.9" fill="#111" color="#111" style="stroke-width:0.08px">[BMIM][BF<tspan font-size="10">4</tspan>] at 300 K</text>
<line x1="67.2" y1="228.90" x2="95.3" y2="228.90" stroke="#e6003c" stroke-width="1.8"/>
<text x="100" y="233.40" font-size="14.9" fill="#111" color="#111" style="stroke-width:0.08px">[BMIM][PF<tspan font-size="10">6</tspan>] at 300 K</text>
<line x1="67.2" y1="247.10" x2="95.3" y2="247.10" stroke="#00a000" stroke-width="1.8"/>
<text x="100" y="251.60" font-size="14.9" fill="#111" color="#111" style="stroke-width:0.08px">[HMIM]Cl at 300 K</text>
<line x1="67.2" y1="265.30" x2="95.3" y2="265.30" stroke="#50ff00" stroke-width="1.8"/>
<text x="100" y="269.80" font-size="14.9" fill="#111" color="#111" style="stroke-width:0.08px">[DMIM]Cl at 300 K</text>
<line x1="67.2" y1="283.50" x2="95.3" y2="283.50" stroke="#0028fa" stroke-width="1.8"/>
<text x="100" y="288.00" font-size="14.9" fill="#111" color="#111" style="stroke-width:0.08px">[DMIM]Cl at 500 K</text>
<text transform="translate(14,165.3) rotate(-90)" font-size="18.1" text-anchor="middle" fill="#111" color="#111">Static structure factors S(<tspan font-style="italic">q</tspan>)</text>
<text x="211.5" y="363" font-size="17.5" fill="#111" color="#111">Wave vector <tspan font-style="italic">q</tspan> (nm<tspan font-size="10.2" dy="-8.5">-1</tspan><tspan dy="8.5">)</tspan></text>
</svg></body></html>
